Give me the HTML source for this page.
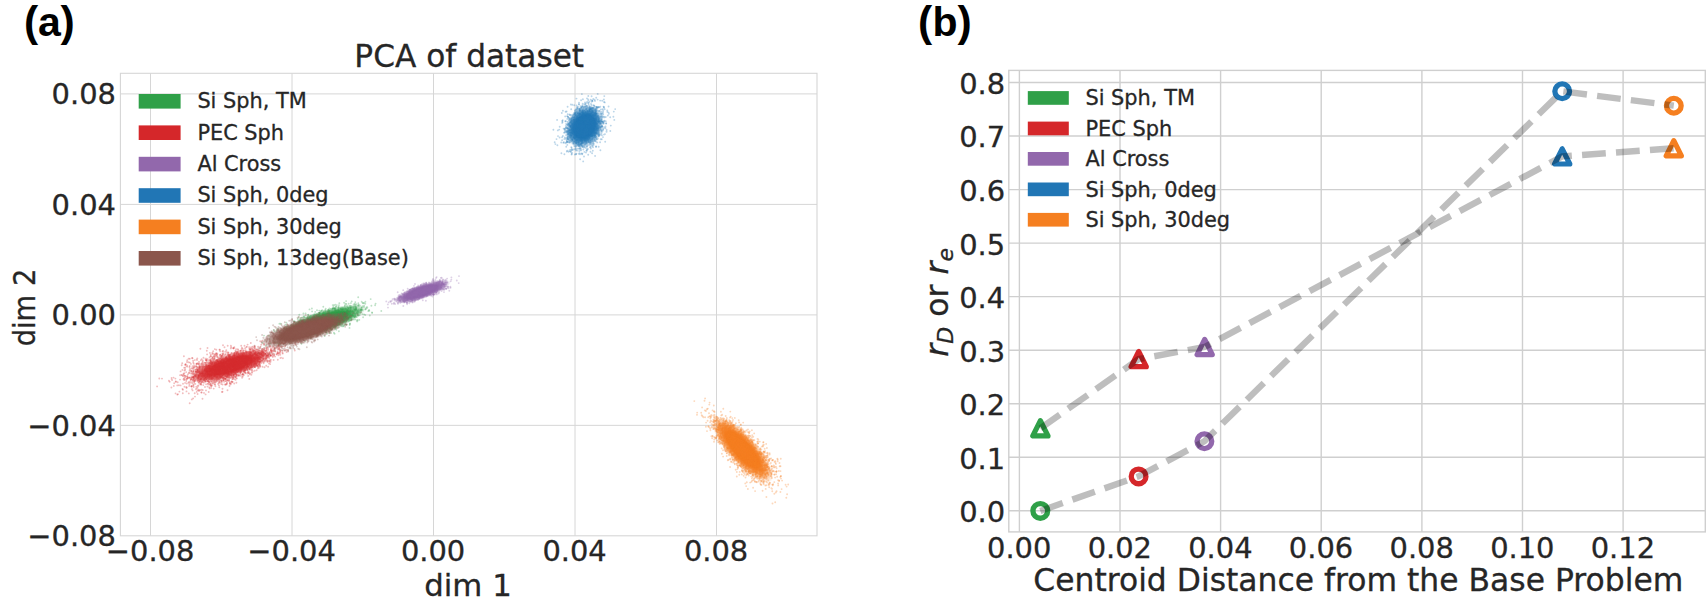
<!DOCTYPE html>
<html lang="en"><head><meta charset="utf-8"><title>PCA of dataset</title>
<style>html,body{margin:0;padding:0;background:#fff}svg{display:block}</style></head>
<body>
<svg width="1706" height="601" viewBox="0 0 1706 601" font-family="'DejaVu Sans','Liberation Sans',sans-serif" fill="#262626" stroke="#262626" stroke-width="0.3">
<rect width="1706" height="601" fill="#fff" stroke="none"/>
<g stroke="#d6d6d6" stroke-width="1" fill="none">
<line x1="150.5" y1="73.3" x2="150.5" y2="535.8"/>
<line x1="292.0" y1="73.3" x2="292.0" y2="535.8"/>
<line x1="433.5" y1="73.3" x2="433.5" y2="535.8"/>
<line x1="575.0" y1="73.3" x2="575.0" y2="535.8"/>
<line x1="716.5" y1="73.3" x2="716.5" y2="535.8"/>
<line x1="120.4" y1="93.9" x2="817.0" y2="93.9"/>
<line x1="120.4" y1="204.4" x2="817.0" y2="204.4"/>
<line x1="120.4" y1="314.9" x2="817.0" y2="314.9"/>
<line x1="120.4" y1="425.35" x2="817.0" y2="425.35"/>
</g>
<defs>
<radialGradient id="g0"><stop offset="0" stop-color="#2fa048" stop-opacity="1.0"/><stop offset="0.55" stop-color="#2fa048" stop-opacity="1.0"/><stop offset="0.78" stop-color="#2fa048" stop-opacity="0.60"/><stop offset="1" stop-color="#2fa048" stop-opacity="0"/></radialGradient>
<radialGradient id="g1"><stop offset="0" stop-color="#d5272a" stop-opacity="0.88"/><stop offset="0.55" stop-color="#d5272a" stop-opacity="0.88"/><stop offset="0.78" stop-color="#d5272a" stop-opacity="0.53"/><stop offset="1" stop-color="#d5272a" stop-opacity="0"/></radialGradient>
<radialGradient id="g2"><stop offset="0" stop-color="#9268ac" stop-opacity="1.0"/><stop offset="0.55" stop-color="#9268ac" stop-opacity="1.0"/><stop offset="0.78" stop-color="#9268ac" stop-opacity="0.60"/><stop offset="1" stop-color="#9268ac" stop-opacity="0"/></radialGradient>
<radialGradient id="g3"><stop offset="0" stop-color="#2176b5" stop-opacity="1.0"/><stop offset="0.55" stop-color="#2176b5" stop-opacity="1.0"/><stop offset="0.78" stop-color="#2176b5" stop-opacity="0.60"/><stop offset="1" stop-color="#2176b5" stop-opacity="0"/></radialGradient>
<radialGradient id="g4"><stop offset="0" stop-color="#f57f20" stop-opacity="1.0"/><stop offset="0.55" stop-color="#f57f20" stop-opacity="1.0"/><stop offset="0.78" stop-color="#f57f20" stop-opacity="0.60"/><stop offset="1" stop-color="#f57f20" stop-opacity="0"/></radialGradient>
<radialGradient id="g5"><stop offset="0" stop-color="#8b564c" stop-opacity="1.0"/><stop offset="0.55" stop-color="#8b564c" stop-opacity="1.0"/><stop offset="0.78" stop-color="#8b564c" stop-opacity="0.60"/><stop offset="1" stop-color="#8b564c" stop-opacity="0"/></radialGradient>
</defs>
<clipPath id="ca"><rect x="120.4" y="73.3" width="696.6" height="462.49999999999994"/></clipPath>
<g clip-path="url(#ca)">
<ellipse rx="45.0" ry="10.8" fill="url(#g0)" stroke="none" transform="translate(323.0 321.6) rotate(-18.0)"/>
<g stroke="#2fa048" stroke-width="1.9" stroke-linecap="round" stroke-opacity="0.3" fill="none">
<path d="M264 335.6h0m10.5 6.1h0m4.9-18h0m1.3 7h0m3.2 .6h0m1.8-.6h0m.6 3.2h0m.3-3.3h0m.7 6.9h0m2.2-3.3h0m.2-6.5h0m.1-.6h0m1.6-1.8h0m1.1 13.1h0m.7-14.7h0m1.3 4.9h0m1 8.9h0m.5-3.2h0m.2 2.5h0m0-5h0m.1-2.1h0m0 7.2h0m.1-3h0m.1 4.8h0m.3-4.7h0m.1 .1h0m.1-7.1h0m.3-4.4h0m.4 7.6h0m0-1.5h0m.3 6.4h0m.7-4.8h0m.4-.9h0m.1-9.1h0m.3 2.3h0m.3 8h0m.3-2.9h0m.1-.9h0m.5-8.8h0m0 6.8h0m.2 3.4h0m0-.4h0m.3-4.1h0m.1-3.8h0m.2 14.1h0m0 9.7h0m.2-18.9h0m.2-1.1h0m.3-.8h0m.1-1.2h0m.2 8.4h0m.5-2.4h0m.2 0h0m.1 1.4h0m.1-8.6h0m0-7h0m0 13.7h0m.2-1.9h0m0 2.6h0m.4-2.7h0m0 6.1h0m0-5.3h0m.1-1h0m0-4.7h0m.1 2.4h0m0-2.8h0m.2 8.4h0m0 .4h0m0 5h0m.1-7.9h0m0-9.5h0m.2 16.2h0m.1-15.3h0m.3 8h0m.4 4h0m.2-5h0m.2-2.4h0m.1 8.2h0m.3-6.4h0m.1 .9h0m0-2.2h0m.3 4h0m.1 10.5h0m0-15.1h0m0 9h0m.1-3.4h0m0-2.5h0m0 .2h0m.1 4.5h0m.1-8.4h0m.2 2.5h0m.1 12.6h0m.2-4.8h0m.1-6.3h0m.1-1.2h0m0 4.9h0m.2 3.3h0m.3-12.4h0m.1 3.8h0m0 6.4h0m.1-10h0m.1 17h0m.1-17.1h0m0 13.2h0m.1-14.6h0m.1 8.1h0m.3-1.7h0m0 .1h0m0-7.7h0m.1 13.8h0m0-2.1h0m.4-1.3h0m.1-6h0m0-5.4h0m.1 5.6h0m.1 .6h0m.3 6.9h0m.3 9h0m.1-16.6h0m.1 .4h0m0 5.1h0m.1 4.3h0m0-10.3h0m.1 2.6h0m.5 4.5h0m.4-19.8h0m.2 2.9h0m.1 9.7h0m0 .9h0m.1 .9h0m.1 5.7h0m.1-10.3h0m0 1h0m.1 3.8h0m.1 .9h0m.1-2.4h0m.1 .6h0m.7 3.6h0m.4-3.2h0m.1-4.8h0m.1 10.7h0m.1 1h0m.1 1.9h0m.5-10h0m0-.5h0m.1 9.7h0m0-10.7h0m.2-8h0m0 6.9h0m.2 4.4h0m.1 5.8h0m0 .1h0m.1-.5h0m.3-2.6h0m.1-5.6h0m.1 6.1h0m0 .6h0m.1 1.5h0m.2-1.4h0m.3-8.8h0m0 1.5h0m.1 8.3h0m.1-13.2h0m.1-4.7h0m.2 6h0m.1 4.7h0m.1-1.3h0m.1 9.2h0m.1-10.8h0m.1 4.8h0m.1-6.5h0m.1 3.5h0m.1 8.5h0m.1-.6h0m.1-2.6h0m.2 2.9h0m0-9h0m.1 4.1h0m.3-.1h0m.1-.3h0m.3 4.2h0m0-10.9h0m.2 9.4h0m.2 1.6h0m.1-5.4h0m0 4.1h0m.1-7.7h0m.1 4.2h0m.1-1.6h0m0 2.9h0m0-1.8h0m.1 8.7h0m.1 3.8h0m0-12.5h0m0 7.1h0m0-4h0m0 .3h0m.1-9.7h0m0 15.3h0m0-13.7h0m.1 5.3h0m.1-1.4h0m0-4.3h0m.1-5.4h0m0 9.2h0m.2 4.9h0m0 6.4h0m.1-10.1h0m0-2.2h0m0-1.7h0m.2 1.1h0m0 .1h0m0-1.6h0m.1 2.4h0m0 1.9h0m0-1.8h0m0 4.7h0m0-14h0m.1 5.7h0m0-1h0m.1 7h0m.2-7h0m.1 2.8h0m.1 8.2h0m.2-8.3h0m0 2.3h0m.1 3.3h0m0-.9h0m.2-4.8h0m.1 4.8h0m0 .9h0m0 1.4h0m.1 4.2h0m.2-15.1h0m0 8.5h0m.1 3.3h0m0-2.2h0m.2-9.2h0m0 4.5h0m.1 .4h0m0 4.2h0m.1 2h0m.2-3.6h0m.3 3.3h0m0-14.2h0m.2 8.2h0m0 4.9h0m0 1.4h0m.1-6.2h0m.2 .7h0m0 6.1h0m.2-11.5h0m0 1h0m.1 3.7h0m.1-.1h0m0-5.6h0m0 8.3h0m.2-6.5h0m.1 12h0m.1-11.5h0m0 3.1h0m.2-.2h0m.2 5.1h0m.1 4.4h0m.2-.7h0m.3-5.4h0m0 .5h0m0 .6h0m.1-4.8h0m0 4.4h0m.2-1.2h0m.1 2.5h0m0 7.9h0m0-19h0m.1 7h0m.1 6.3h0m0-6h0m0 .5h0m0 6.3h0m.1-5.7h0m.1-4.5h0m.1 3h0m0 1.8h0m.1 5.2h0m0-1.7h0m.1-6.9h0m.3 .4h0m.1 .5h0m.2 2h0m0 3h0m0-6h0m0-6.8h0m.1 9.5h0m.1 3.6h0m0-5.4h0m.1 3h0m.2-9.3h0m.1 6.9h0m0-.6h0m.1-.3h0m0 1.9h0m.3 2.8h0m.1-5.3h0m.2-.5h0m0 3.1h0m.1-2.6h0m0 .6h0m.1-1.5h0m0 1.2h0m.1 2.6h0m.1-3.2h0m.1-4.1h0m0 17.6h0m.1-11.4h0m.2-8.3h0m.1 7.1h0m.2-3.5h0m0 4.4h0m.1-.2h0m.1 .5h0m.2 9.8h0m0-1.3h0m.1-8.5h0m.1-.4h0m.2-1.6h0m0-3.6h0m.1 2.9h0m.3 12.2h0m0-16.2h0m0 3.8h0m.1-.3h0m.1-3.4h0m.1-1.2h0m.1 5.1h0m0 4.2h0m0 7.6h0m.1-3.7h0m0-9.5h0m.1-3.9h0m.2 6h0m.1 2.7h0m.1 .4h0m.1-3.2h0m.1-10h0m0 20.9h0m.4-11.6h0m.1 5.7h0m.1-2.5h0m.1-13.6h0m.1 14.4h0m.2-.8h0m0-8.8h0m.1-3.4h0m0 16.7h0m.5-7.4h0m.2 .1h0m.1-1.5h0m.1-3.3h0m.4 14h0m.2-8.6h0m0-3.9h0m.1 .7h0m.1-10.4h0m0 17.7h0m.2-3.4h0m.1-4.5h0m.1-4.1h0m.1 5.7h0m.2 2.2h0m.2 6.3h0m0 .9h0m.2-5.1h0m0-3.7h0m0 7.7h0m.2-10.6h0m.2-8.8h0m0 8.2h0m.1-.7h0m.1 1.1h0m.2 7.3h0m0-2h0m.3 4.9h0m.2 1h0m.3-3.7h0m0-3.2h0m.1-1.9h0m.1 5.1h0m.2-13.7h0m.1 6.1h0m0-.7h0m.4 18.4h0m.4-10.5h0m.1-8.7h0m.8-1.9h0m.3 1.7h0m.1-2.6h0m0-.9h0m.1 3.5h0m0 3.5h0m.7 0h0m.6 5.1h0m.5-3h0m0-1h0m0 2.1h0m.3-6.4h0m.1 5.9h0m.4 8.2h0m.3-5.8h0m.3-5.5h0m.2 4.9h0m.3-5.4h0m0-2.3h0m.1 8.3h0m0-3.3h0m.5-5.6h0m.1 4.2h0m.9 .7h0m.1-15.4h0m.8 12.3h0m.1-1.9h0m.1 2.5h0m.2-2.1h0m.2 2.3h0m.1-2.9h0m.1 3.5h0m.3 3.9h0m.2-10.7h0m1.2 9.3h0m.3 .3h0m0 7.4h0m1-17.2h0m.2-4.7h0m.2 15.3h0m.6-17h0m1.6 14h0m.1 .7h0m.3-9h0m.5 9.3h0m.2-6.8h0m.1 7.3h0m.8-2.7h0m.3 2.5h0m0-9.9h0m.6 2.5h0m.5 3.6h0m2.1-8.1h0m.9 .7h0m.3 5.3h0m.2 2.2h0m1.4-2.7h0m.1-2.8h0m1.2-1.4h0m1.2-.3h0m4.9 4.3h0m3.2 2.8h0"/>
<path d="M262.6 343h0m11.2-4h0m2.8-7.4h0m0 10.8h0m.1-12.2h0m9.4 6.1h0m2.6-6.9h0m.4 4.8h0m.6 0h0m.5-5.6h0m1.4 .3h0m0 4.1h0m.1 7.9h0m1-5.3h0m.7-9.4h0m1.2 5.6h0m.5-.5h0m.1-4.6h0m.6-.1h0m0-1h0m.1 9.4h0m.2 2.6h0m1.8-10.1h0m.7-10h0m.6 6h0m.3 8.3h0m.1-9.9h0m0 2.3h0m0 3.6h0m.5-.4h0m0 1.8h0m.5-2.9h0m.5 7.6h0m.1-8.6h0m.7 9h0m.5-5.8h0m.1 8.1h0m0-9.6h0m.3 2.3h0m.1-.6h0m.2-5.4h0m0 2.2h0m.4-9.1h0m.1 5.2h0m.2 4.7h0m0-4.6h0m.1-2h0m0 2.8h0m.3 9.5h0m.1-1.7h0m.3-2.2h0m.1 .1h0m.1-3.9h0m.7 6.6h0m.4-6.9h0m.6-1.5h0m0 .2h0m.2 4.7h0m0-5.3h0m.1 3.3h0m.3-2.6h0m.6-7.4h0m0 11.7h0m.4-12.2h0m0 9.7h0m0 3.4h0m.1-9.4h0m.7 12.7h0m.1-6.5h0m.2 3.2h0m.2-5.5h0m0 2.2h0m.1 11.2h0m.1-11.4h0m.2-.4h0m0 1.1h0m.1-3.2h0m.2 0h0m0-2.1h0m.2 .8h0m0 8.7h0m.1-5.8h0m.2-1.5h0m.2-.6h0m.1 2.5h0m0-.2h0m.1-1.7h0m.2 4.2h0m0-1h0m.3 4.6h0m0-5.7h0m0 0h0m.1 5h0m.1-6h0m.4 5.8h0m0-.5h0m.2-.7h0m.1 6.6h0m0-10.5h0m.3 2.3h0m0-6.8h0m.1 9h0m.1-1.4h0m.1 .9h0m0-8h0m.1 11.7h0m.2-3.9h0m0-.1h0m.3-9.3h0m.2 11.7h0m0-4.5h0m0-9.8h0m0 4.5h0m.1 3.4h0m0-.5h0m.3-.2h0m.1 3.8h0m.2-2.9h0m.4-9.5h0m.2 8.5h0m.1-2.1h0m.1 6.6h0m0-6.2h0m0 4.9h0m.3 .4h0m.2-7.5h0m.1 15.2h0m.1-12.4h0m.1 3.6h0m0-1.7h0m0-4.2h0m0 5.9h0m.2 3.1h0m0-9.2h0m.4 7h0m.1-5h0m.1 2.2h0m.1-9.8h0m0 3.8h0m0 8.2h0m.1 .9h0m.3-2.9h0m0-.3h0m.3 9.9h0m.5-12.3h0m.1 7.9h0m.1 2.8h0m.1-6h0m.1 1.1h0m.1 2h0m0-1.6h0m.3-1.3h0m0 3.4h0m.2-3.1h0m0-6.1h0m0-9.4h0m.2 9.6h0m.2-7.5h0m.2 19h0m0-10.2h0m.1-3.7h0m.1 .2h0m.2 2.9h0m0 1.1h0m.1-.8h0m.1 8.2h0m0 1.6h0m.1-6.5h0m.1-1.4h0m.2-.7h0m0-.4h0m.1-1.1h0m0-1.9h0m.2 3.3h0m.2 4.5h0m0-7.4h0m.2 7.7h0m.2-1.8h0m0-3.7h0m.3-.6h0m.1-2.3h0m.1 6h0m.1-1.8h0m0 2.3h0m.2-3h0m0-.2h0m.2 3.5h0m.1-3.7h0m0-8.2h0m.1 8.7h0m.1-1.4h0m.1-5.1h0m.1 5.5h0m.1-3h0m0 11.4h0m0-9.6h0m.1-5.1h0m0 14.2h0m.1-8.5h0m0-6.1h0m.2 9.8h0m.1 .1h0m0 2.2h0m.5-4.8h0m.1 1.1h0m.1-2.7h0m.1 2.1h0m.1 .8h0m0 6.5h0m0-7.8h0m.1-4.1h0m.1 13h0m0-5.7h0m.1-3.2h0m0-6.5h0m.2-5.4h0m.1 13.4h0m.1 .9h0m.1-4.4h0m.2-.4h0m.5-8.3h0m.3 4.4h0m.1 8.2h0m.1 6.2h0m0-4.9h0m.1-1.2h0m.1-2.1h0m.1-.3h0m0-2h0m0-4.8h0m0 10.3h0m.2 3.8h0m0-3.6h0m.1-7.2h0m0 .2h0m.1-4.4h0m.3 2.7h0m0 5.7h0m.1 1.5h0m.3 3.7h0m.1-11.1h0m.1 1.6h0m.1 7.6h0m0-5.7h0m.1 .6h0m0-1.6h0m.1 1.2h0m0-10.2h0m.1 12.8h0m.1 3h0m.1-6.8h0m.2-8h0m0 13.9h0m.1-4.4h0m0 5.7h0m.4-3.3h0m.2-9.7h0m.1 10.4h0m0-4.9h0m0 5.1h0m.1-4.1h0m0 13.8h0m.3-18.8h0m.1-.3h0m.2 4.4h0m.1 4.7h0m.3-5.3h0m.1 4.4h0m0-1.5h0m.2 .6h0m.1-2.7h0m.1 2.8h0m.7-8.2h0m.4-4.4h0m0 10.9h0m.1-14.8h0m.1 8.2h0m.1 5h0m.1 8.5h0m.1-4h0m.2 .3h0m0-2.4h0m.3-4h0m.4-.7h0m.3-1.9h0m.1 2.6h0m.2 7.5h0m.1 .9h0m.2-16.8h0m.2 15.6h0m.1 2.4h0m.2-6.8h0m0-7.5h0m.2 3h0m.1-3.9h0m0 4.2h0m.3 5.1h0m.3-1.4h0m.1 .9h0m.2-3.3h0m.2 2.6h0m.1 1.5h0m.1-4.3h0m0 5.3h0m.1-10.6h0m0 11.4h0m.2-11.9h0m.2 5.9h0m.1 7h0m.6-9.5h0m.2-1.7h0m.1 10.3h0m.2-8.3h0m.2-1.6h0m0-2.1h0m0 7.6h0m.3-5.7h0m.1 6.7h0m.1 2.5h0m.4-9.5h0m.1 12.1h0m.1-7.9h0m.1 7.2h0m.1-3.5h0m.1 1.4h0m.1-2.4h0m.1 3.8h0m.3-.4h0m.3 3.2h0m.2-3.5h0m.6-7.8h0m.4-5h0m.5-1.7h0m.1 12.2h0m.1-1.7h0m0-2.1h0m.3-.6h0m.1 1.7h0m0-4.6h0m0 .5h0m0 5.7h0m.5-1.4h0m0-4.6h0m.3 8.2h0m.4-4.3h0m.3-3h0m.1 4.6h0m.2 4.5h0m.3-3.4h0m.2-2h0m.2-4.3h0m.1-3.9h0m.1 9.1h0m.1-3.1h0m0 9.9h0m.2-10.7h0m.2-2.5h0m.1 6.7h0m.2-3.1h0m.2-3h0m.4-1.9h0m.1 5.4h0m.9 1.6h0m.3 1.3h0m.1-7.6h0m.5 5.8h0m.3-1.7h0m.3 8.1h0m.2-12.8h0m1 1.3h0m.6 8h0m.4-4.6h0m.2-.4h0m1-1.9h0m1.1-6.8h0m.3 7.3h0m.3-3.9h0m0-2.7h0m.5-1.5h0m.5 2.3h0m1.8 7.4h0m.1-9.9h0m1.3 14.6h0m2.4-12.3h0m.8 6.5h0m.1-4.2h0m2.7-6.1h0m1.1 3.7h0m8.7-2.2h0"/>
<path d="M268.5 335.7h0m1.3 3.3h0m3.9-9h0m4.2 13.6h0m.1-15.1h0m1.2 8.8h0m.2-3.6h0m4.8 .3h0m1.3-1.5h0m.4-3.3h0m1.2-3.5h0m0 3.1h0m.1 6.8h0m.6-3.5h0m1.5 5.3h0m0-8h0m.3-1.1h0m.9-.7h0m.6-2h0m.8 10.7h0m.1-7.6h0m.9-2.3h0m0 9.8h0m0-1.6h0m.4-8.8h0m.7 7.9h0m2-9.3h0m.1 .9h0m.1 12.7h0m0-.1h0m1.1-9.1h0m.4 2h0m.2-3.9h0m.3-3.1h0m.1 2.8h0m.2-4.4h0m.3 8.8h0m0 9h0m.4-9.5h0m.1-4.8h0m.2 2.8h0m.3 11.4h0m0-13.6h0m.5 11.2h0m0-5.4h0m.2-11.3h0m.1 11.5h0m.3-1.4h0m.4-2.1h0m.2 2.4h0m.1-2.6h0m.1 5h0m.3-8.5h0m.4 2.8h0m0-7.3h0m.1 5.2h0m.1-4.6h0m.2 15.7h0m.1-12.3h0m0-3h0m.3 15.8h0m.1-4.8h0m.1-10.1h0m.1 .4h0m.3 5.2h0m.2 1.3h0m.1 .9h0m.2 5.2h0m.1-13.1h0m0 8.2h0m.5-1.6h0m.1-3.3h0m.2-2.6h0m.2 .3h0m.2 3.5h0m.4 .9h0m0-5.5h0m0 6.2h0m0-4.4h0m.3 6.4h0m0-12.8h0m.1 13h0m.1-7.5h0m.3 7.7h0m.1-7.8h0m.1 0h0m.1 8h0m.1-2.8h0m.3-11.1h0m.1 7.5h0m.1 .1h0m.1 3.3h0m.2-1.3h0m.3-12h0m0 12h0m.5-.7h0m0 5.5h0m.1-4.7h0m0 2.7h0m.4-9.8h0m.1 11.2h0m0-5.8h0m.1-.8h0m.2-1.8h0m0 5.5h0m.3-8.2h0m0 4.1h0m.2 .6h0m.2-1.9h0m0 1.4h0m.1-6.9h0m0 4.4h0m0 .5h0m.1-1.5h0m.4 9.3h0m.3 3.2h0m0-10.1h0m.2 14.5h0m.1-6.6h0m.4-1.4h0m.1 .8h0m.3 .4h0m0 .1h0m.2-7.2h0m0-3.4h0m.2 11.8h0m.3-7.9h0m.1-9.1h0m0 4.8h0m.3 12.3h0m.1-3.6h0m0-5.6h0m.1 6.2h0m.1-14.7h0m.1 9.7h0m0-7.2h0m.1-2.1h0m0 6.8h0m.1 1.9h0m.1 6.2h0m0-6.3h0m.2-3.3h0m0 5.5h0m0-6.2h0m.2 4.8h0m0 0h0m.2 6.5h0m0-6.9h0m.3-.8h0m0-1.2h0m.2-3.2h0m.2 5.8h0m0-4.4h0m.2 12.2h0m.1-13.7h0m0 1.3h0m.1 9.1h0m0-11.7h0m0 12.7h0m.2-4.1h0m0 5.1h0m0-9.8h0m.1-3.8h0m0 3.2h0m.1 11.5h0m0-12.6h0m0 10.4h0m.2-6.9h0m0-4.1h0m.2 12.3h0m0-5.8h0m.2-5.9h0m0 16.5h0m.3-15.7h0m.1 7.2h0m0-.7h0m0-1.3h0m.1-2h0m0 1.8h0m.1-1.3h0m0-2.7h0m.1-2.1h0m0 5.7h0m0-9h0m.1 19.1h0m0-14.9h0m0 8h0m.1-6.3h0m.2-2.7h0m.2 1.1h0m.1-3.1h0m.1 5.6h0m0 5.3h0m.1-5h0m.1 8.2h0m.1-13.4h0m0-3h0m.1 8.9h0m.2-8.5h0m.1 1.7h0m.1-.9h0m0 12h0m.1-7.2h0m0-3.1h0m0 8.3h0m.2-3.5h0m0 .8h0m.1 1.5h0m.1-.4h0m0 6.3h0m.1-7.6h0m0 7.3h0m.1-1.4h0m0-6.7h0m.1-4.9h0m.1-3.8h0m0 15.7h0m.1-15.9h0m.1 13.9h0m0 1h0m.1-14.6h0m.1 6.9h0m.1-2.8h0m.1 8.8h0m0-1.9h0m.1-8.1h0m0 7.9h0m.4 1.5h0m.1-7.7h0m.2 6.9h0m0-4.8h0m.1 3.3h0m0 5.2h0m.1 3.3h0m0-12.9h0m0-2h0m.2 11.3h0m.2-12h0m0 2.2h0m.1 6h0m.1-5.3h0m0 5h0m.1-.1h0m.1-2.6h0m0 2.2h0m.2-5.2h0m.1 5.2h0m0-1.6h0m.2 2.7h0m0-8.2h0m.1 7.9h0m.1-.6h0m0-11.3h0m.1-6h0m.2 7.1h0m.2 9.2h0m.1 5.2h0m0-13h0m0 12.8h0m.1-6.1h0m0 2.1h0m.1-2.7h0m.1 1.5h0m.2 5.7h0m0-4.1h0m.1-5.3h0m.1 7.8h0m.2-13h0m.1 9.8h0m0-3h0m0-2.2h0m.3 2.4h0m.1 8.8h0m.2-6.6h0m0-.8h0m.1-7.7h0m0 10.8h0m0-11.4h0m.1 7.4h0m0-1.2h0m0-7.5h0m.1 4.2h0m.2 1.4h0m.2 9h0m.2-10.3h0m0 .6h0m.2 10h0m.1-9h0m.1 13.1h0m.2-1.7h0m0-7h0m.1 10.7h0m.4-15.6h0m.2-.1h0m.1 4h0m0-3.2h0m.2 .1h0m.1 9.1h0m.1-11.9h0m.3-5.6h0m.1 12.5h0m0-.7h0m.2-.2h0m.3-.1h0m0-9.6h0m.2 2.7h0m0 6h0m.3-12.8h0m.2 12.4h0m0-6.6h0m.1 6.9h0m.1 .2h0m.3 10.3h0m.4-8.4h0m0-7.1h0m.2 9.8h0m.2-3.8h0m0-3.8h0m0 2.2h0m.1 4.2h0m.3-5.3h0m.1-6.7h0m.1 2.8h0m.2 14.1h0m.1-12h0m.1-2.5h0m0-2.6h0m.1 10.7h0m.3-2h0m.3 2.1h0m.1-7.4h0m.3 5h0m.2-.6h0m.1 .3h0m.1-3.6h0m0-.7h0m.1 10.7h0m0-10.7h0m.3 3.2h0m0 2.5h0m.1 2.6h0m.1-11.3h0m.1 5.7h0m.2-4.7h0m0 4.7h0m.1 1.3h0m0 .5h0m.2-9.8h0m.2-1.9h0m0 12.7h0m.1-10.9h0m.1 9.2h0m0 3.3h0m0-2.5h0m.1-4.3h0m.2 6.6h0m.1-3.9h0m.2 2.5h0m.2 6.4h0m.3-6.8h0m.5 2.4h0m.1-2.4h0m.1-2h0m.2-1.5h0m.1 1.8h0m.2-5.8h0m.1-.1h0m0 8.5h0m.1 0h0m.2-5.3h0m0 4.6h0m.3-4.8h0m.5-9.8h0m0 4.2h0m.2 1.3h0m0-4.1h0m.5 12.7h0m.1-7.2h0m.7 2.1h0m.4 3h0m.2-9.9h0m.5 9.7h0m0-1.1h0m.2 1.1h0m0-1.8h0m.1 1h0m0-10.2h0m.1 16.2h0m.1-13.1h0m.2 5.2h0m.2-1.6h0m.2-4.7h0m.3 5.9h0m.4 3.2h0m.1-3.5h0m0-1.9h0m.6-4.1h0m.1 12.6h0m.5-8.7h0m.1-1.4h0m.1-2.7h0m.2 15.6h0m.1-7h0m.5-3.2h0m0-3h0m.3 6.1h0m.6-5.9h0m.4 2.7h0m.3 .6h0m.5-4.9h0m.4 8.2h0m0 1.1h0m.1-9.2h0m.2 9.9h0m2-10.3h0m.1 6.4h0m.5-2h0m.5-6.6h0m.1 8h0m.4-.2h0m1-8.4h0m.1 3.8h0m1.3 .7h0m.8 5.6h0m1.3-10h0m.1-2.9h0m1.1 6.7h0m0 2.8h0m.4 .9h0m.5-8.7h0m1.3 9.3h0m1.5-5.6h0m3 4.7h0m5.1-4h0m.1 .5h0m2.1-5.2h0m.6 6.7h0"/>
<path d="M265.9 345.8h0m8.5-14.2h0m5.5 .7h0m.8-8.5h0m3.5 4h0m.8 1.5h0m1.5-2.4h0m2.2 1.9h0m.3 7.4h0m.2-8.2h0m.3 15.5h0m.5-15.3h0m1.1 10.3h0m1.3-6.8h0m.3 1.5h0m0-6.7h0m.2 4.6h0m1.4-9.7h0m.4 9h0m.7-3.5h0m.1-2.8h0m.9 1.5h0m0 10.6h0m.1-6.7h0m.5 1.2h0m0 10h0m.2-9.6h0m.2 3.8h0m.2-4.8h0m.1 5.2h0m0-5.7h0m.2-2.9h0m.6-2.3h0m.2-2.6h0m.3 8.5h0m.1-2h0m.2-13.6h0m0 18.1h0m.2-4.9h0m.3 1.4h0m.2-4.3h0m.1 4.9h0m.1 2h0m.2-1.5h0m.3-8.6h0m0 3.8h0m.4-1.8h0m.2 4.8h0m.5 .9h0m.5 1h0m.9 1h0m0-1.8h0m.1-2.3h0m.2 2h0m.4-6.4h0m.6 .7h0m.2 1.6h0m.2 7.5h0m.1 8.2h0m.4-14.9h0m.1-.8h0m.1 4.2h0m0-16.1h0m0 8.1h0m.1 5.8h0m0 6.7h0m.1-9.6h0m.1 11.4h0m.1-7.5h0m.1 2h0m.1 3.1h0m0-7.9h0m.1 0h0m.1 6.5h0m.2-5.1h0m0-3.3h0m.1 4.7h0m.5-3.2h0m.1 .4h0m0 3.2h0m0-6.6h0m.2 3.3h0m.1-.2h0m.1 7.2h0m.3 4.3h0m.1-17h0m0 11h0m.1 0h0m.2 4.6h0m.4-5.3h0m.3 2.2h0m0-5.1h0m.2 3.6h0m.2-.5h0m0 1.4h0m0-6.1h0m.1-7.9h0m.2 9h0m0-6.8h0m.4 6.1h0m.1-.1h0m0-.6h0m.1 3.4h0m0-4.5h0m.1 12.4h0m.1-10.5h0m.1 3.4h0m0 1.3h0m.1-3.7h0m.5 2.8h0m0-4.4h0m0-4.1h0m.2 .1h0m.1-.5h0m0-2.4h0m.2 6.8h0m.1-1.9h0m.6 5.1h0m0 6.4h0m.1-8h0m.1 .9h0m0-8.1h0m.2-1.6h0m.1 4.7h0m.1 .9h0m0-6h0m0 11.6h0m0-7h0m.1 1.9h0m.2-3.3h0m0 3.8h0m0-4.9h0m.1 3.7h0m0 2.8h0m.2-8.4h0m.2 11.1h0m.1 1.8h0m.2-14.4h0m.2 2.3h0m.4 .2h0m.1 6h0m.1 2.4h0m.1-1.1h0m.1-2.8h0m0 11.7h0m0-9.3h0m.1-1.7h0m.3-5.9h0m.2 6.2h0m.2-.1h0m.1-1h0m.1 10.6h0m.5-17.9h0m0 1.8h0m.3 11.1h0m0-6.6h0m.1 3.3h0m.1 3.8h0m0-7.5h0m.1 8.3h0m0-7h0m0 5h0m.1-2.6h0m.1 0h0m0-10.9h0m.1 4.9h0m.1 2.9h0m0-1.7h0m.2 8.5h0m0-9.4h0m.1-1.9h0m0 10.9h0m.1 1.7h0m0-1.9h0m.1-10.8h0m.4 3.4h0m.1 2.7h0m0-.6h0m0 6.5h0m0-9h0m.1 6.9h0m0 1.7h0m.3-14.8h0m.1 6.4h0m.2 5.7h0m0-5h0m.1 2.6h0m0-11.3h0m0 3.1h0m0 3h0m0 11.8h0m.1-7.8h0m0 .4h0m.2 1.6h0m0-8.7h0m.1 8.1h0m.1-8.6h0m.1 3.4h0m.2 4.7h0m.1 5h0m0-2.1h0m.2-3.8h0m0 4.5h0m0-8.3h0m.1 4.8h0m0-2.9h0m.3-.4h0m0-.8h0m.2-.8h0m0 5.8h0m.1 2.6h0m.1-3.5h0m.1-3.4h0m.4 1.6h0m.1-5.4h0m.1 6.9h0m0-2h0m.2-11.6h0m.2 13.1h0m0-4.1h0m.1 4.3h0m.1 1.2h0m.1 9h0m0-7.5h0m.1-1.9h0m0-7.2h0m.1-2.2h0m.1 1.5h0m.2 1.5h0m.1 6.2h0m0-11.4h0m.6 9.1h0m.1 1.4h0m.1-.9h0m0-3.2h0m.1-4.3h0m.2 6.6h0m.1-2.3h0m0 10.9h0m0-1.8h0m.2-4.6h0m.1-4.5h0m.1 4.9h0m0-3.1h0m.1 .9h0m.1-10.8h0m0 5.3h0m.2 0h0m.1 .5h0m.2 .9h0m0 5.2h0m0-3.2h0m.1 .4h0m0 3.9h0m.1-6.3h0m.2 10.2h0m.1-.4h0m.2-6.4h0m.2 .7h0m.1-2.7h0m.2-1.1h0m0 5.8h0m.1-3.3h0m0 3.3h0m.2-8.7h0m.2-.2h0m0 3.1h0m.1-4.7h0m.2 13.6h0m.1-9.3h0m.1 .1h0m.1-7.4h0m.1 15.6h0m0-14.3h0m.1 11.1h0m0 .7h0m.1 .2h0m0-3.2h0m.1-10.9h0m0 12.1h0m.3-7.2h0m.2 2.1h0m0 6.5h0m.3-2.4h0m.1-2h0m0 1.9h0m0-10.1h0m.1 9.8h0m.2 1.6h0m0 6.9h0m.2-10.7h0m.4 4.1h0m.1 .7h0m0-4.1h0m.5 8.1h0m0-12.6h0m.4 4.5h0m.1 5.4h0m.2-4h0m.2-.5h0m0 1.4h0m.2 3.3h0m.1-11.3h0m.1 3h0m0 1.5h0m.2-4.2h0m.7 6.2h0m.1-1.3h0m.1 .4h0m0-10.3h0m.2 4.6h0m0 6.4h0m.3 5.2h0m.1 1.8h0m.1-21.1h0m.1 13h0m.3 3.7h0m0-8.2h0m.1 6.6h0m.1 5.8h0m0-8.1h0m.1 15.7h0m.2-26h0m0 10.1h0m.2-3.6h0m.1 5.3h0m0-1.3h0m0-1.5h0m0 5h0m.4 3.9h0m.3-18.9h0m.1 14.6h0m.3-1.1h0m.1-2.5h0m.1-.9h0m.3 3.1h0m0-6.2h0m.2-2.2h0m.2 5.4h0m0-2h0m0 7.7h0m.6-12.1h0m.2 13.6h0m.1-4.2h0m.1-10.2h0m.4 11h0m.3-5.5h0m0 8.6h0m.3-9.8h0m.1 5.6h0m.3 .4h0m.1-1.6h0m.3-.5h0m.1-4h0m.1 3.4h0m.2 2h0m.6-1h0m.8-5h0m0 7.1h0m0-9.1h0m.4 6.7h0m0-5.3h0m.3 7.4h0m.2-.8h0m0 2.8h0m.3-9.1h0m0 7.8h0m0-2.2h0m0-1.3h0m0-1.9h0m.1-3.4h0m0-2.9h0m0 8h0m0-1.2h0m.4-.5h0m.5 4.2h0m.8 0h0m0-6.1h0m.5 7.9h0m.6-13.4h0m.3 12.8h0m.3-9.2h0m.1 .6h0m.3 2.9h0m.4 1h0m.2-1.6h0m.5 2.8h0m.1-3.7h0m.1-5.6h0m.7 10h0m.7-6.2h0m.2-5.8h0m.2 6.7h0m.4-5.4h0m1 12.4h0m1.2-8.4h0m.2 2.4h0m.9-9.3h0m.5 12.5h0m.5-13.1h0m.6 6.2h0m.4-1.3h0m.1 7h0m1.1 5.2h0m.2-.8h0m.3 1.2h0m.9-10.6h0m.4 1.2h0m.1 .8h0m.3-1.7h0m2.6-1.8h0m4 0h0"/>
<path d="M284 328.7h0m.6 5.4h0m.7 .1h0m.1 1.8h0m.7-7.2h0m0 7h0m1.2-1.8h0m.4-1.6h0m1.5 6.6h0m1.1-.8h0m.5-8.2h0m.5 1.4h0m.5-.1h0m.1-2.5h0m.4-2h0m.1 8.1h0m1.1-7.3h0m0-.6h0m.4 3.7h0m.1-9.4h0m.1 18.3h0m.1-2.1h0m.3-8.8h0m0 1.1h0m.4-2.9h0m.2 4.1h0m1.2 7.9h0m.4-10.1h0m1.2-1.9h0m.2 2.1h0m.1 1.8h0m.1-2.9h0m0 6.5h0m.5-10.4h0m1.3 7.9h0m.1-11.9h0m.2 6.8h0m.2 5.6h0m.2-3h0m.1-4.8h0m.1 2.3h0m.4 6.8h0m.1-2.8h0m.2-9.8h0m0 5.7h0m.1-.7h0m0-.7h0m.1 7.2h0m.1-7.1h0m.1-1.4h0m.1-6.5h0m.8 7.6h0m0 11.9h0m1-14h0m.1 .6h0m.1 5.3h0m.3-6.8h0m.2 9.5h0m.1-3.7h0m.3 8h0m.2-12.2h0m0 3.4h0m.3-.7h0m.2 1.8h0m.1 2.5h0m.1-8.9h0m.1 8.6h0m.1-6.6h0m.2 6.2h0m.1 3.6h0m0-7.4h0m.1 1.3h0m.1 2.5h0m.1-4h0m.5 4h0m0-2.3h0m0-9.2h0m.2 15.5h0m0-12.2h0m.2 3.1h0m.2 2.1h0m.1-2h0m0-1.3h0m.2-4.8h0m.1 5.4h0m.1 5.1h0m0-2.4h0m.1-3.1h0m.3-.1h0m.1-1.4h0m.3 5.5h0m.1-2.5h0m.1-2.7h0m0 .3h0m.1-13.7h0m0 14h0m0 5.2h0m0-9.3h0m.3 10.1h0m.1-3.3h0m.2-1.7h0m0 1.7h0m.2 6.4h0m.2-13.7h0m0 14h0m.1-11.1h0m.4-.8h0m.1-5.4h0m.2 12.7h0m0-5.9h0m.4 4.8h0m.1 4.4h0m0-7.7h0m.2-.4h0m.1-2.5h0m.1 3.2h0m.1 4.6h0m.1-9.3h0m.2 8.8h0m.3 .7h0m.1-8.7h0m.2 7.6h0m.4-6.7h0m0 3.3h0m.4-4.7h0m0 2.9h0m.1-4.9h0m0-1h0m.3 17.5h0m0-12.8h0m0 1.8h0m.2 8.9h0m.1-6.2h0m0-6h0m.1 7.9h0m.1-6.3h0m.1 10.1h0m0-8.7h0m.3 1.7h0m0-9.4h0m.2 6.1h0m.1 3.4h0m.1 5.4h0m.3-3.8h0m.1 .4h0m0 .4h0m.4-4.4h0m.2-7.1h0m.2 9.8h0m.2-6.2h0m0 3.7h0m.2-.7h0m0-.1h0m0 11.5h0m.4-9.2h0m.1 3.1h0m.1-.8h0m.2-5.9h0m.1 .3h0m.3 6.2h0m0-6.2h0m.1-1.5h0m.2 5.1h0m0-7.3h0m0 4.9h0m.1 5.4h0m.1-4.6h0m.1-10.2h0m0 .3h0m.1 9h0m0-1.4h0m0-1.7h0m.1 .7h0m.1 7.8h0m0-7.2h0m.4 0h0m.1 5.5h0m.2-4.5h0m.1 4.4h0m0-4.4h0m.2-.4h0m.3 6.5h0m.1-4.5h0m.3-3.9h0m0-5.4h0m.1-1.9h0m.2 14.9h0m0-2.8h0m.1-.4h0m.1-3.1h0m.1 3.5h0m0-1.5h0m0-11.4h0m.1 11.1h0m.2-4.3h0m.2 1.7h0m.3-3.3h0m0 5h0m0 2.2h0m.2 4.2h0m.1-4.5h0m.1-8h0m0 7.4h0m.2-.9h0m0-6.2h0m.1 3.2h0m.1 2.8h0m0 2.6h0m0 1.9h0m0-6h0m.3 2.3h0m.1 2.8h0m.1 1.3h0m0-4.9h0m.1-2.3h0m.2 6.2h0m.1-5.8h0m.2 1.2h0m.1 .2h0m0-1.7h0m0 3.2h0m.1-.6h0m.1 14.2h0m.1-15.4h0m.1-8.5h0m0 9.3h0m0 4.8h0m.3-.5h0m0-3h0m.1 .8h0m0 1.1h0m0-1.8h0m.2-8.7h0m.1 7.7h0m.1-3.1h0m0-9.9h0m.3 13.7h0m.4 7.4h0m.3-10.6h0m.1 3.8h0m.1-6.7h0m.2-2.5h0m0 4.7h0m.1 .4h0m.1 3.7h0m.2 4.4h0m.1-1.2h0m0 2.1h0m.1-3.9h0m.1-4.1h0m0 .3h0m.1 1.1h0m.1 3.1h0m.1 1.1h0m.1-2.3h0m0-2.1h0m.3-1.9h0m.1-3.6h0m0-2.7h0m0 3.7h0m.2-1.7h0m.1 7.7h0m0-3.3h0m.1-7.2h0m.3 6.2h0m0 8.7h0m0-12.4h0m.1 11.9h0m.1-5.6h0m0-10h0m.4 5.9h0m0 3.5h0m.1 3.3h0m0-.5h0m.1-3.5h0m0-4.2h0m.2 12.6h0m0-4.1h0m.1-2h0m0-2.3h0m.3-.7h0m.5 1.9h0m.1 0h0m.1-3.2h0m.2 2.5h0m.1 .3h0m0 4.7h0m.4-10h0m0-2.2h0m.5 7.2h0m.2-7.7h0m.2 7.9h0m.1-.7h0m0-7.6h0m.1 1.3h0m.1 0h0m.1 1.5h0m.1 1.6h0m.2 2.2h0m.2 14h0m0-12.7h0m.2 1.8h0m.1-10.4h0m.1 6.5h0m.3 2.4h0m.2 1h0m0-4.2h0m.2 12h0m0-16.2h0m.1 .8h0m0 6.4h0m.1-4.8h0m0 8.5h0m.1-4h0m0-2h0m.1-9.4h0m0 3h0m0 2.4h0m.2 8.7h0m0 4.5h0m0-4.5h0m.2 3.7h0m.1 2.9h0m0-10.3h0m.2 6.4h0m0-14.7h0m.1 2.6h0m0 6.6h0m.1 2.6h0m.1-15.7h0m0 23.1h0m.5-15.3h0m.2 10.7h0m.2-11.4h0m.2-.7h0m.2 .8h0m.2 4.2h0m0-.7h0m.1 1.8h0m.1-5h0m.2 10.9h0m0-5h0m.1 3.8h0m.3-4.8h0m0-8.2h0m.1 16.8h0m.1-12.5h0m0-9.9h0m.5 6.6h0m.1 11h0m0-8.1h0m.1 3.7h0m0-5.9h0m0 2.8h0m.8 3.7h0m0-.9h0m.3-6.3h0m.1-2.9h0m.2 4h0m0 6.1h0m0-2h0m.4 4.6h0m.2-4h0m.1-2.3h0m0 3.6h0m0 3.5h0m.2-13.2h0m0 6.3h0m0-.5h0m.2-1.8h0m0 4.7h0m.4-3.3h0m0 10.2h0m0-6.7h0m0-3.2h0m.2-5.8h0m0 .4h0m.1 4h0m.3 3.2h0m0 4h0m.1-2.4h0m.8-4.8h0m0-2.9h0m.1 8.8h0m0-16.7h0m.1 5.5h0m.2 3.2h0m.2-1.1h0m.2-3.9h0m.1 7h0m.2 4.9h0m.5-14.7h0m.4 16.3h0m.1 4.2h0m.2-7.1h0m.6 1h0m.2-11.7h0m.4 .8h0m0 3.1h0m.4 7.8h0m.2-4.3h0m.3-1.6h0m.1 2.2h0m0-2.1h0m.2-8.4h0m.1 17.6h0m.7 6.5h0m.1-20.3h0m0 6.2h0m.2 6.5h0m.3-8.8h0m.1 4.4h0m.3-10.3h0m.1 11.6h0m1.3-1h0m.3 .5h0m1-.6h0m.1-4.1h0m.2-.2h0m.3 7.7h0m.4-4.1h0m.4-2.3h0m.1-8.7h0m.5 15h0m1-10.1h0m.6 7.8h0m.8-5.2h0m.6 .9h0m.2-1h0m.3 .7h0m1.5-3.3h0m.3 .6h0m2.2-6.9h0m1.3 4.2h0m.2-4.2h0m1.3 6.3h0m.5-.6h0m1.2-1.4h0m.1 .5h0m2.5 7.8h0m.9-16.4h0m4.9 4.5h0"/>
<path d="M270.2 343.4h0m7.4-4.2h0m.1-.7h0m1 6.5h0m1.1-1.5h0m1.7-7.1h0m.3 1.1h0m3.3-4.6h0m.4-8.3h0m.3 7.2h0m.6-9.2h0m2 13.1h0m.3-5h0m1.1 4h0m.2 2.8h0m.2 4h0m.5-7h0m.2-5.3h0m.2 4.7h0m1.3-4.1h0m.2 8.8h0m.7-10.2h0m.4-1.4h0m.4 4.6h0m.4 5.4h0m.3-4.6h0m.7-10.6h0m.3 7.6h0m.6 3h0m.1 .7h0m.3 3.3h0m.7-12h0m.1 5.7h0m.1-10.8h0m.1-.1h0m0 7h0m0-.5h0m0 4.6h0m.4-.5h0m0 1.3h0m.1 4.6h0m.4-6.9h0m0-3.8h0m.1 3.9h0m.1 3.8h0m.6-3.4h0m0 4.8h0m0-5.9h0m.1 1.4h0m0-5h0m.3 8.8h0m.1-10.2h0m.2 4.2h0m.1 1.9h0m.5 .7h0m.4-4.2h0m.1 9.1h0m.2-.8h0m0-2.8h0m.3-6.7h0m0 4.7h0m0-4.2h0m.1-6h0m.4 12.5h0m0-7.3h0m.5 5.7h0m.1-.2h0m.4-1h0m0-6.5h0m.2-.3h0m.4 .6h0m.1-5.3h0m.1 10.7h0m0 .6h0m.3-3.2h0m.1 8.8h0m0-4.4h0m0-2.3h0m.3-2.7h0m0 3.6h0m.2 .6h0m0 2.8h0m.1-9.2h0m.2-3h0m0 4.7h0m.1 5.5h0m.2-7.4h0m.2 10.4h0m.1-11.3h0m.1 4.6h0m.1 7.6h0m.3-8.6h0m.3 4.4h0m.1 5.4h0m.2-10.2h0m.3 6.5h0m.2-8.1h0m0 4.2h0m.1-3.6h0m0-6.7h0m0 13.4h0m.3-8.6h0m.2 .5h0m.2-3.6h0m.1 9.9h0m.1-5.5h0m0 6.4h0m.1-5.6h0m0 6.9h0m.1-7.6h0m0-1.8h0m.1 3h0m.1-2h0m0 1.8h0m.3-1.9h0m.2-.4h0m.1-5.3h0m0 8.4h0m0-.8h0m.2 1.8h0m0 1.6h0m0-6.9h0m.1 .3h0m.2 .5h0m.2 2.7h0m.1 8.8h0m.5-2.3h0m.1-14.8h0m0 6.2h0m.1 3.7h0m0-3.8h0m.1 3.4h0m0-8.5h0m.2 1.3h0m.1 11.5h0m.3-7.3h0m.2 4h0m.2 4.3h0m.4-9.1h0m.1-4.6h0m.1 3.4h0m.4 1.9h0m0 5.4h0m.1-5.5h0m0-1.1h0m.1-1.1h0m.2 7.3h0m.1 .9h0m0-1.8h0m.1 3.5h0m0-11.7h0m0 4.9h0m.2 4.4h0m.1-1.5h0m.3 2.2h0m0-2.3h0m0-.3h0m.1-3.6h0m0-1h0m.2-2.2h0m.1 4.6h0m.1 5.5h0m.2-11.4h0m.1 7.6h0m.1 .7h0m.2-3.1h0m.1 4.7h0m.1 1.9h0m0-10.8h0m.1 2.9h0m.1 7.5h0m0 1.4h0m.1-3.6h0m.1-.7h0m0 1.9h0m.1-2.8h0m0-4.9h0m0 1.9h0m.2-1.5h0m.1 1.4h0m.1-.7h0m.1 2.2h0m.1 3.3h0m0-1.2h0m0-1.6h0m.2-2h0m.1-2.8h0m.1-1.6h0m0 12.8h0m.1-10.9h0m.1 9.6h0m0-6h0m.2-5h0m.2 5h0m.1 3.2h0m.1-2h0m.1-1.4h0m.1-3.8h0m0 1.1h0m.1 7.7h0m.1-6.1h0m0 5.3h0m0-5.8h0m.1-1.2h0m0-5.1h0m.3 3.1h0m.2 7.8h0m.1 3.3h0m.1-3.1h0m.1-13.5h0m0 18.5h0m.4-10.7h0m.1-2.1h0m0 5.7h0m0-7.8h0m.1 9.2h0m0-5.4h0m.1 4.9h0m.3-.7h0m.1-1.7h0m0-2.5h0m0 1.7h0m.1 6.8h0m0-6.9h0m0 4.9h0m0-.5h0m.1-1.2h0m.1 1.8h0m.1-1.4h0m.2 5.7h0m0-8.1h0m.1-5.5h0m0 10h0m.3-.3h0m0-.2h0m.1 .9h0m0-11.3h0m0 11.8h0m.2-8h0m0 5.6h0m0-.5h0m.3-4.1h0m.2-1.7h0m.1 10.6h0m0-13.5h0m.2 7.5h0m.1-10.2h0m.1 12.3h0m.1 1.1h0m0-2.3h0m0-4.1h0m.1-6.4h0m.1 8.9h0m0 1.6h0m0-2.5h0m0-5.3h0m.2 7.4h0m0-6.1h0m0 1.8h0m.2-2h0m.2 4.6h0m0-10.5h0m.1 9.1h0m.3-.9h0m.1 7.3h0m0-8.8h0m0 7h0m.1-4.6h0m.1 8.1h0m0-11.8h0m.2-4.6h0m.2 7h0m0 9.6h0m.1-8.3h0m0-.4h0m.3-2.7h0m.2 13.9h0m0-7.8h0m.1-4.3h0m.2 .3h0m.1-3.9h0m.1 .1h0m.3 8.2h0m0 1.9h0m.1-5.9h0m.1-1h0m.1 .7h0m.1-.9h0m.2-4.2h0m.2 11.9h0m0-3.5h0m.2-3.5h0m.1-6.2h0m.2 14.5h0m.1-8.8h0m0 2h0m.2 .7h0m.1-3.4h0m.2 9h0m.1-7.2h0m.1-3.9h0m.2 3.7h0m.2 4h0m.1-7.5h0m0-.7h0m.2 9.4h0m.2-8.8h0m0 4.4h0m.1-4.1h0m.3 3.8h0m.1-3.3h0m.1 3.3h0m0-4.3h0m.1 4.8h0m.1-.7h0m.2-1.9h0m0 3h0m.1 .3h0m.1-8.4h0m.1 1.2h0m.4 6.5h0m0-8.6h0m0 4.3h0m.2-8.5h0m0 1.8h0m.1 12.9h0m.1-6h0m0-.7h0m0 6.4h0m.1-.5h0m.1-1.9h0m0-.5h0m.4 4.1h0m0-4.7h0m.1 1h0m.3-11.8h0m.2 1.6h0m0 4h0m0 3.1h0m.2-2.7h0m.1 5.6h0m.1 .3h0m0-6.8h0m.1 1.4h0m0-3h0m.1 7.4h0m0-4h0m.4-7.9h0m.1 8.1h0m.1-2.5h0m.1 7h0m.1 3h0m0-2.9h0m.2-7.3h0m.5 8.8h0m.1-7.1h0m.1-5.9h0m0 10.6h0m.1-5.6h0m0 1.1h0m.1 7.4h0m.1-1.6h0m.1-2h0m.3 .6h0m.1-8.8h0m.3-.4h0m.1 9.8h0m.3-3.6h0m.2 7.6h0m.1-6.1h0m.3-7.7h0m0 .7h0m.4 2.3h0m.3-2.6h0m.1 4.5h0m0 2.6h0m.1-.7h0m.5-.4h0m0 1.4h0m.3-2.8h0m.1-5.6h0m.1 2.2h0m.3-1.1h0m.2 13.2h0m.2-8.2h0m0-12.9h0m0 11.3h0m.2-.5h0m.1 1.1h0m.1 8.2h0m.2-3.6h0m.1-5.7h0m.1-2.5h0m.1 4.4h0m.1-1.1h0m1.3 1h0m.3-6h0m.3 16.6h0m.3-10.2h0m.1-1.3h0m0 3.3h0m.2-7.1h0m.3 3.7h0m.2 6.7h0m.1-1.6h0m0-7.8h0m.2 13.8h0m.2-.2h0m.4-5.3h0m0-2.1h0m.2 1.7h0m.5-6.7h0m0-8.1h0m1.1 3.8h0m.1 9.9h0m.2 2h0m.1-16.7h0m.2 6h0m.1 2.9h0m.5 .8h0m.1 5.6h0m.1-9.1h0m.9-1.1h0m.7 4.3h0m.3 3.9h0m.4-3.8h0m.2 10.3h0m.2-3.8h0m.1-11.8h0m0 2.9h0m.8 6.5h0m.1-7.7h0m0 1.3h0m.2-4.8h0m.1 4.9h0m0 2.7h0m.6-2.4h0m.6 3.6h0m1.1-6.8h0m.9 1h0m.7 6.4h0m0-13.7h0m.4 6.7h0m.2 1.9h0m.7-.5h0m.4 2.6h0m.6 7.2h0m.6-22.9h0m.1 5.9h0m.1 12.4h0m.1-6h0m2.5 .4h0m0 1.7h0m.7-10h0m1.4 15.5h0m.1-14h0m2.1 11.8h0m.1-13.3h0m2.8 9.4h0m13.1-.1h0"/>
</g>
<ellipse rx="43.0" ry="11.0" fill="url(#g1)" stroke="none" transform="translate(229.5 365.8) rotate(-17.5)"/>
<g stroke="#d5272a" stroke-width="1.9" stroke-linecap="round" stroke-opacity="0.3" fill="none">
<path d="M171.7 379.5h0m.4 .5h0m5.8 14.3h0m1-9.1h0m.5 6.4h0m3.6-7.8h0m.3-7.7h0m.6-19.8h0m.3 19.1h0m1.1-7.6h0m1 13.2h0m1-4.8h0m.5-1.8h0m2.3-5.4h0m2.3-.4h0m.1-2.3h0m.6 10.6h0m.2-14.5h0m.1 8.6h0m.5-4.7h0m.2-.8h0m1.4 10.7h0m.4-4.5h0m.6-2.5h0m.3-5.6h0m.7 24.3h0m.3-7.6h0m.4-.9h0m.2 6.1h0m.1-10h0m.3-11h0m.2-2.7h0m.2 9.6h0m.7-.9h0m.2 3.5h0m.3-25.3h0m0 28.5h0m1.2-1.1h0m.4-12.2h0m.1 9.9h0m.1-11h0m.3 36h0m.1-31.7h0m.2 4.3h0m.1 1.5h0m.2-9.7h0m.2 15.8h0m.1-.4h0m0-4.3h0m.1-16.6h0m.3 5.3h0m.1 12.9h0m.1-11.4h0m.5 14.3h0m0-12.4h0m.1 10.1h0m.3-1.1h0m.1 11.6h0m.2-16.6h0m0 6.3h0m.1-3h0m.1 3.4h0m.3-.6h0m0 .5h0m.1-2.2h0m.2-7.9h0m.1 12h0m.2-12.8h0m0 2.4h0m0-.7h0m.1 7.1h0m.3-14.2h0m0 5.9h0m.1 2.1h0m.1-4.1h0m.3 6.8h0m.3-23.4h0m.4 27.5h0m.6 .5h0m.2 16h0m.1-15.3h0m0-2.1h0m.1-8.7h0m.4 16.2h0m.1-7.1h0m.2-17.7h0m0 10.1h0m.1 21h0m.2-17.3h0m0 13.4h0m.2-24.4h0m.1 3h0m0 14.4h0m0 .3h0m.3-8.4h0m.1 5.6h0m0-14h0m.1-6.2h0m.1 21h0m.3-5.9h0m.1-3.5h0m0 21.5h0m.2-22.9h0m.1 21.1h0m.2-12.7h0m.1-7.6h0m.2-3.6h0m0 6.9h0m.2-.7h0m.2-15.7h0m0 25.7h0m.1-3.9h0m.1-.5h0m0-1.5h0m.2-4.2h0m.2 9.3h0m.2 .3h0m.2-16.8h0m0 6.2h0m.1 1h0m.2 1.4h0m.1 3.4h0m.4 2.6h0m.2 4.2h0m0-6.3h0m.2-17.1h0m0 10.5h0m0-.7h0m0 5.3h0m.1-4h0m0-4.2h0m.1-14.3h0m0 21h0m.5 3.6h0m0 5.8h0m.5-8.1h0m0-10.6h0m.1 8.5h0m.1-.9h0m.1 5.1h0m0 .6h0m0-1.1h0m.1-8.4h0m.1 6.9h0m0-21.8h0m.1 24.5h0m0-4h0m0 .9h0m0-8h0m0 17.1h0m0-7.1h0m.1-19.8h0m.1 25.5h0m.1-10.2h0m.1 9.7h0m0-18.4h0m.1 17.2h0m0-3.1h0m.4 6.8h0m.1-11.7h0m0-1.8h0m.2 2.7h0m.1-9h0m.1 5.1h0m.1 2.7h0m0 5.6h0m.1 3.8h0m.1-8.4h0m.2 .7h0m0-.6h0m.1-5.5h0m.6 7.8h0m0-8.8h0m0 15.6h0m0-9.3h0m.1 1.6h0m.2-12h0m0-.1h0m.2 6.1h0m0 1.5h0m.2-2.8h0m.1-1.1h0m.1 4h0m0 .3h0m.2 7.8h0m.1-5h0m.3-4.7h0m.1-.6h0m0 12h0m.1-13.4h0m.1 14.1h0m.1-6.3h0m.1-9.8h0m.1 6.1h0m0-3.9h0m.3 4.7h0m.1-12.3h0m0 9.5h0m.1 1.6h0m.1 10.1h0m.1-17.4h0m0 20.8h0m0-12h0m0-8.8h0m.1 8.3h0m.1-1.4h0m.4-4h0m0 10.5h0m0-9.6h0m.2 6h0m.1-9.4h0m0 5.9h0m.1 0h0m0 14h0m.1-11.7h0m.1 9.4h0m.2-23.1h0m0 18.8h0m0-8.3h0m.1-2.3h0m0 10.8h0m0-2.3h0m0-.2h0m.1-5h0m0 .1h0m.1 5.7h0m0 .3h0m.1-5.4h0m0-1.6h0m.2 1.6h0m0 6.3h0m0 5.3h0m.3-8.1h0m.1-2.9h0m.1-.1h0m.1 4.2h0m.1-3.3h0m.1 .4h0m0 1.4h0m.1 4.8h0m.1-1h0m.2-15.3h0m0 1.1h0m.1 7.8h0m.1-4.1h0m0 4.9h0m0 4.6h0m.1-2.9h0m.3 .8h0m.1-1.6h0m0 1.9h0m0-13.1h0m0 26.8h0m0-10.9h0m.1 2.5h0m0-8.3h0m.1 5h0m0-10.5h0m0 .7h0m.1 5.4h0m.2 4.8h0m.2-16.9h0m.1 12.5h0m.1-1.4h0m.3 .1h0m.2 1.8h0m0-9.7h0m0 13.8h0m.1-3.3h0m0 4.3h0m0-1h0m.1-1h0m0 4.6h0m0-12h0m.1-7.4h0m.1 10.7h0m0 7.1h0m.1-1.9h0m.1 7.2h0m0-7.6h0m.1-9.7h0m0 9.6h0m.1-3.2h0m0 4h0m.1-15.6h0m0-5.7h0m0 6.4h0m.1 5h0m0-11.7h0m0 12.9h0m0-5.5h0m.1 7.4h0m0 8.7h0m.1-5.6h0m0-13h0m.1 7.4h0m.1 7h0m0 6h0m0-11.2h0m0 7.3h0m.2-7.1h0m0-5.8h0m.1-6.2h0m0 6.2h0m.1 11.6h0m.2-16.5h0m0 9.1h0m.1 9.1h0m.1-12.2h0m.1 3.6h0m0-2.9h0m.2 1h0m0 12.3h0m0 .4h0m.4-13h0m0-1.1h0m.1 21.2h0m.1-17.5h0m0 1.3h0m0 6.6h0m.1-5.4h0m.2-6.7h0m0 .9h0m.1 4.9h0m.2-19.2h0m.1 19.9h0m.1 5.4h0m.1-11.1h0m0-1.3h0m.1 1.3h0m.1 .1h0m0-1.8h0m0 3h0m0-.1h0m.1 6.9h0m.1-10.4h0m.2 4h0m.3 11.1h0m0-18.3h0m0-3.8h0m.2 14h0m.1-1.9h0m.1-4.2h0m.1-5.5h0m.1 18.5h0m0-16.6h0m0 8.8h0m0-6.3h0m.2 16h0m0-16.1h0m0 4.3h0m.2 7.5h0m.1-6.2h0m.1 4.1h0m.3-7.6h0m.1 7.4h0m0-6.6h0m0 3.4h0m.1-3.3h0m0 6.4h0m.1 1.5h0m0-.7h0m.1 .3h0m.2-9.8h0m0-.8h0m.1 10h0m0-2h0m0 4.7h0m0-11.3h0m0-2.2h0m.1 17h0m0-7.7h0m.2-3.8h0m0 3.9h0m0 6.6h0m0-14h0m.1 7.2h0m0-11h0m0 .3h0m.1-5h0m.1 6.2h0m.1-3.2h0m.3 5.2h0m0 1.4h0m0 4.1h0m.1 2.6h0m.2-9.1h0m0-9.1h0m0 11.6h0m.1 1.6h0m.1-4.8h0m.2 4.5h0m0-1.1h0m.1-4.3h0m0 4.8h0m.1 7.2h0m0-8.1h0m.1-.5h0m0 7.8h0m.2-.2h0m.1-14.9h0m.1-1.4h0m0 25h0m0-15.4h0m.3 6.4h0m.3 2.6h0m0-6.1h0m0-1.9h0m.1-7h0m.1 1h0m.1 1.3h0m.1 8h0m0-9.9h0m.3 14.4h0m0-8.1h0m.2-11.1h0m0 5.3h0m.1 2.7h0m.1-9.9h0m0 14h0m.1-1.1h0m.2 1h0m0-4.2h0m0 9.3h0m.1 5.3h0m.1-13h0m.5-2.7h0m0-6.7h0m.1 3.1h0m0 9.9h0m.1-8.5h0m.1-.3h0m.1 2.7h0m.1 11h0m0-7.8h0m.2-1.5h0m.1 6.8h0m.2-10.9h0m0 2.2h0m0-.8h0m.1 5.2h0m.1-9.9h0m.3 6h0m.1 4.9h0m.1-6.6h0m.1 12.2h0m0-6.4h0m.1 .1h0m.1 1.8h0m.1-8.8h0m.2 4.8h0m0-3.2h0m.3 10.2h0m0-8h0m.1 .2h0m.1 .2h0m0 17h0m.1-22.7h0m.2 22.1h0m0-20.7h0m0 5.4h0m.2-9.3h0m0 1.3h0m.4 15.7h0m0-13.3h0m0-1.2h0m.2 13.6h0m.1-8.3h0m0 6.9h0m.1-4h0m.1-7.4h0m.2 14.6h0m0-4.5h0m.1 3.2h0m.1-14.2h0m.1 8.4h0m0-1.9h0m.2-8.1h0m.2 5h0m.1-12.6h0m.2 17.7h0m0-1.5h0m.2 10.3h0m0-13.9h0m.1 4.6h0m.3 .8h0m.3 .6h0m.4-6h0m0-2.2h0m.1-4.3h0m0 .7h0m.1 9.2h0m.2-4.9h0m.1 4.8h0m0 1.3h0m0-4.5h0m0 0h0m.1 9.9h0m0-8.9h0m.1 3.9h0m0-4.7h0m0-1.9h0m.1 7.4h0m0-1.6h0m.2-2.6h0m.1 1.9h0m.1 5.2h0m.1 6.5h0m0-7.6h0m.1-3.8h0m.6-4.8h0m.2 2.3h0m.1 .1h0m0-2.9h0m0 .5h0m.2-.1h0m.2-.7h0m0 10.6h0m.1-9.1h0m.1-4.3h0m0-.1h0m.4-5h0m.2 3.4h0m0 5.4h0m.5 12.1h0m0-10.9h0m.4-9.4h0m0 6.1h0m.1 7.7h0m.1-7.9h0m.2-2.8h0m0-4.8h0m.3 11.7h0m.1 10.7h0m0-10.3h0m.1 8h0m.1-7.4h0m.1-1.7h0m0-5.7h0m.2-4h0m.2 17.3h0m.1 6.6h0m.1-16.9h0m.2 10.7h0m.3-12.9h0m.5 1.5h0m.1 .2h0m.1-.6h0m.4 11.3h0m.3-2h0m.1-7h0m.1 3.7h0m0-10.1h0m.1 8.4h0m.5-11.9h0m0 6.2h0m.2 13.8h0m.6-14.1h0m.1 10.6h0m.2-10.7h0m.2 2.2h0m.1 .6h0m.4 3.2h0m.1 6.3h0m.7-9.8h0m0 2.1h0m.4 .2h0m0 1.4h0m.1-2.8h0m0 5.1h0m0-5.1h0m.2 1.2h0m.2-7.9h0m.2 7.6h0m.5 7.9h0m.1-2.9h0m0-8h0m0-4.1h0m.1 13.9h0m0-7.9h0m.1 2.6h0m0-.2h0m.2-6.1h0m.2 1.1h0m.2 3.5h0m.2 4.5h0m.1-14.3h0m.5 14.6h0m.4-4.4h0m0-2.8h0m.5-2h0m.4 1.5h0m.1-2.3h0m.2-11.1h0m0 10.7h0m.2 9.4h0m.2-6.6h0m.1 .9h0m.2-2.7h0m.5 .6h0m.1 7.9h0m0-2.3h0m.1 .8h0m0-9.5h0m.2-6.1h0m.6 23.5h0m0-5.5h0m.5-11.1h0m0 2.7h0m.1 .2h0m.4 6.7h0m.8-13.1h0m0 11.4h0m.1-7.7h0m.3 4.8h0m.2-6.1h0m.2 .1h0m0 6h0m.8 1.8h0m.2 9.3h0m.2-17h0m1.2 11.7h0m.7 2.6h0m.3-9h0m3.2-8.8h0m.9 1.8h0m.6 3.5h0m2.3 1.6h0m.1-1.6h0m.9 3.7h0m.4-1.3h0m.1-5.1h0m0 .3h0m.4 3.4h0m3.4 .9h0m3.6-3.8h0"/>
<path d="M157.1 386.4h0m4.9-7.8h0m7.7 3.2h0m12.5-18.5h0m.7 26.4h0m1.4-10.2h0m.1-6.4h0m.1-2.6h0m1.3-6.2h0m.4 7.8h0m2.4-9.9h0m.2 11.1h0m.3 8.6h0m.1 4h0m.5-19.9h0m0 37.3h0m.1-44.5h0m1.5 19h0m.4 8.6h0m.3 2.7h0m.6 1.3h0m.9-5.5h0m.3-3.8h0m.8-4.9h0m.1 17h0m0-12.3h0m1.1-6.1h0m0-4.1h0m.2 18.6h0m.1-19.9h0m.1 19.3h0m.5-14h0m.1-5.8h0m.5-10.5h0m.1 12.1h0m.1 10.2h0m.2-8.7h0m.1-8.8h0m.2 16.6h0m.2 .5h0m.3-.7h0m.5-3.5h0m.3-7.1h0m0-2.8h0m.2 13.2h0m.2-12.2h0m.1 1h0m.2 6.2h0m0-1.2h0m.2 11.1h0m.1-15.2h0m.1 5.6h0m.5-14.5h0m.1 18.8h0m.3-12.3h0m.3 6.6h0m.3-3.8h0m.1 3.7h0m.3 4.2h0m.1-7.2h0m.3-8.6h0m1 7.5h0m.7 6.6h0m.1 3.3h0m.1-3.3h0m.1 4h0m0-6.4h0m.1-4.5h0m.1 7.6h0m.2 1.6h0m.3-7.3h0m.2 23.7h0m0-25.6h0m0-.9h0m.4 22.5h0m.2-18.8h0m.3-11.3h0m.1 10.2h0m0 .9h0m.4-9.3h0m.1-7.7h0m.1 24.8h0m.1-12.9h0m0 2.8h0m.1 5.2h0m.4-6.6h0m.1 7.6h0m.1 8.3h0m.1-6.1h0m.3-3.3h0m.1 3.8h0m0-1.3h0m.1 2.8h0m0-13.8h0m.1 12.1h0m.3 3.9h0m.2-13.2h0m.2-.2h0m.3 5.5h0m.2-.2h0m0-20.7h0m.2 7.1h0m0 11.9h0m.1 12.3h0m.1-10.9h0m.1-10.8h0m0-3.2h0m.1 24.9h0m.2-13.4h0m.2-.4h0m.1-14h0m.1 15h0m.1-1.1h0m.2 5.5h0m.1-7.9h0m.2-5.2h0m.2 .4h0m.7 6.6h0m.6 13.6h0m0-20.3h0m0 5.3h0m.3-4.1h0m.1-10.3h0m.1 16h0m.1-5.9h0m.4 9.4h0m0-1.2h0m0-7h0m.2-3.2h0m.1-.4h0m.1 4.4h0m0 18.4h0m.1-13.1h0m.1-8.8h0m.1 8.6h0m0 3.7h0m0-20.6h0m.1 12.4h0m0 3h0m0 5.2h0m.3-4.2h0m.3-3.1h0m.3-11.3h0m.2 20.5h0m.1-3.1h0m0-7.1h0m.3 6.2h0m0-7.2h0m0 12.1h0m.2-8.5h0m0-2.8h0m.1 5.2h0m.1 .3h0m.1-15.1h0m.1 3.6h0m.1 16.9h0m0-1.6h0m.1-22h0m.1 21.2h0m.2-6.8h0m.1 11.1h0m0-21.5h0m0 8.1h0m.1-6.1h0m.3 24.3h0m.2-8.2h0m0-6.1h0m0-7.6h0m.2 5.5h0m.3 2.1h0m.1-4h0m0 5h0m0 14.7h0m0-9.2h0m.1-6.1h0m0 3.9h0m.2-7.8h0m.3 2h0m.1 3.8h0m.1 4h0m0-8.9h0m.1 .6h0m0-18h0m.2 20.1h0m.1 7.1h0m0-3.5h0m.1-4.3h0m0-1.1h0m.2 10.1h0m0-23.3h0m.4 13.3h0m.1-6.4h0m0 15.4h0m.1-9.4h0m.2-5.5h0m0 6h0m.2-4.8h0m0-.5h0m.1-6.5h0m0 4h0m.1 6.7h0m.1-2.3h0m0-4.4h0m.1-3.2h0m.1 17.9h0m.1 17h0m0-25.6h0m.1 3.3h0m.1-1.2h0m.1-3.6h0m0 9.3h0m.2-22.8h0m0 22.1h0m.1-8.4h0m0 5.2h0m.1 4.7h0m.1-18.7h0m.1 21.8h0m0-15.1h0m.2 2.3h0m0 .4h0m0-6.2h0m.1-.4h0m0 7.6h0m0 7.8h0m.1-13.6h0m.1 19.2h0m0-17.8h0m.1 10.6h0m0-14.5h0m.4 19.4h0m.1-11.2h0m0 3h0m.1-1.6h0m0 5.4h0m0-10.6h0m.1-1.4h0m0-.2h0m.4 7.8h0m0-4.1h0m0 6.7h0m.1-6.5h0m0 1.9h0m.1-3.8h0m.1-1.5h0m.1-7.2h0m.1 0h0m0 24.2h0m.1-5.1h0m.1-.3h0m.3-2.4h0m0-3.8h0m0-4h0m.2-3.8h0m.1 10.8h0m.1 0h0m0 11h0m.1-8.1h0m0 0h0m.2-6.9h0m0-8.4h0m0 4.4h0m.2-4.8h0m.1 10.9h0m0-5.8h0m0 1.1h0m0 2h0m.1-6.9h0m0 18.2h0m.1-24.7h0m.1 13h0m.1 18h0m.1-19.3h0m0-1.4h0m0 2.6h0m.2-.4h0m0-1.8h0m.1-1.3h0m.2 7.2h0m0-.1h0m.3-2h0m.1 7.1h0m0-4.2h0m.1 1.5h0m0-5h0m.2 1h0m0-8.1h0m.2 7.3h0m.1-5.7h0m.1 2.2h0m.2-6.3h0m0 23.2h0m.2-16h0m0 15.3h0m0-10.9h0m0-3.1h0m.2-4.9h0m0 2.7h0m.1 9.6h0m0-2h0m0-13.8h0m0 14.6h0m.3-16.5h0m0 17h0m.1 11.8h0m0-25h0m.1 13.3h0m.1-8.1h0m0 5h0m.2-8.2h0m.1 11.7h0m.1-5.4h0m0-7.1h0m0 10.5h0m.1-.1h0m.1-6.6h0m.1 .7h0m.1 11h0m.1-29.3h0m.1 7.7h0m0 13.2h0m0-9.7h0m0 .7h0m.1 7.1h0m0-6.5h0m.1 11h0m0 5.6h0m0-1.7h0m.1-14.9h0m.2 23.5h0m0-11.8h0m0-5.9h0m0-11.2h0m.2 18.5h0m0-7.8h0m.1 1.8h0m.1-1.3h0m.1-1.7h0m0-1.2h0m.1 11h0m0-10.2h0m0 4.5h0m.1-8.3h0m0 7.3h0m.2 3.3h0m0-1h0m.3 1.2h0m.1-7.4h0m.2-5.3h0m0 21.1h0m0-14h0m.1 6.3h0m.1-9.7h0m.1 12.9h0m0-7.4h0m.1 .7h0m0-4.9h0m.2-6h0m.1 11.9h0m0-5h0m0-4.8h0m0 18.5h0m.1-10.9h0m.1-16.7h0m0 12.7h0m.1 7.6h0m0 2.2h0m0-9.7h0m0 8h0m.1-5.2h0m.2-.1h0m.1 5.4h0m.1 .7h0m0-17.2h0m.1 21.7h0m0-18.9h0m.1 .7h0m.2 1h0m.1 5.5h0m.1 2.7h0m.1 3.5h0m0 .2h0m0 7.7h0m.1-15.9h0m0 2.1h0m.1 4.9h0m.1 12h0m0-5.7h0m.2-8.8h0m.1-9.7h0m0 8.9h0m.1-.1h0m.2 1.1h0m0-4.7h0m0 14.8h0m0-14.8h0m.1 7.8h0m0 .8h0m0-5.6h0m.1 2.7h0m0 8.3h0m0-7.2h0m0 .7h0m0-10.5h0m.1 14.5h0m0-18.1h0m.1 14.1h0m.2-12.2h0m0 10.4h0m0-.9h0m0-3.9h0m.1 2.8h0m0 4.6h0m.1-7.7h0m0-1.8h0m.2 3h0m0-.7h0m.2-3.6h0m0 6.2h0m.2-3.2h0m0 .3h0m.2-9.6h0m0 16.5h0m.2-2.7h0m0-5.6h0m0 9.6h0m.1-9.7h0m0 3.5h0m0 2.5h0m.2-2.8h0m.1-6.2h0m.3-3.5h0m.1 16h0m.1-.7h0m.1-3h0m0-1.3h0m.1-8.2h0m0 19.3h0m.2-16.8h0m.1-2.8h0m0 10.6h0m.1-.7h0m0-8.5h0m.1 1.1h0m.1 4.7h0m.1-5.7h0m.1 6.3h0m0 .4h0m.1-5.7h0m.1 9.4h0m.1 4.5h0m.2-9.9h0m.1-5.6h0m.1 11.4h0m0-7.1h0m.2-.8h0m.3 6.7h0m.1 4.5h0m.4-13.9h0m.1 6.5h0m.1-3.1h0m.1 3.3h0m.1-5.6h0m0 7.6h0m.1-1.1h0m.1-2.1h0m.2-2.5h0m.1 3.7h0m.1-1.5h0m0 10.9h0m.2-.1h0m.1-18.8h0m.1 1.1h0m.2-4.6h0m.1 20.1h0m.1-15.2h0m0 .9h0m.2 15.1h0m0-14h0m.1-5.8h0m0 5.4h0m.1 0h0m.2 9.5h0m.1 .1h0m0-.9h0m.1-8.7h0m.1 .4h0m.2 4.1h0m.1-9.4h0m0 .2h0m.2 10.3h0m.2-2.7h0m0-2.7h0m.2 6.6h0m.1-2.9h0m0 3.2h0m.2-9h0m.1 1.8h0m.1 10.3h0m.1-18.1h0m0 8.6h0m0 3.6h0m.1-7.3h0m.1 3.6h0m.2 3.3h0m0-2.8h0m.3 2h0m0 6.9h0m.1-7.8h0m.1 3.4h0m.1-11.3h0m.3 4.1h0m.1 1.3h0m.2 8.2h0m.4-1.9h0m.1 5.4h0m0-9.6h0m.1-1.6h0m.3 1.1h0m0 16.5h0m.2-18.1h0m0-5.8h0m.7 3.4h0m.5 6h0m.1-.1h0m0-6h0m0 8.4h0m.1 .2h0m.2 5.3h0m.2-8.1h0m0-2.3h0m.1-3.8h0m0 1.8h0m.1 7.3h0m.1-1.8h0m0-.1h0m.1-2.9h0m0-3.4h0m.2 2.9h0m0-5.9h0m0 14.2h0m.2-12.4h0m0 12.6h0m.1-7.5h0m0 2.5h0m.1-4.1h0m.1 .9h0m.3 6.2h0m.3-9.7h0m0 3.5h0m.1-2.7h0m.2 4.9h0m.1-14.5h0m.1 20.3h0m.2-.4h0m.1-16.8h0m.6 1.6h0m.3 9.3h0m.2-3h0m.7 .8h0m.1-4.4h0m0-1.1h0m.6 5.4h0m.4-4h0m.1 4.5h0m.1 3.5h0m.1-10.4h0m.1 13.1h0m.6-13.3h0m.2-.2h0m.3 6.9h0m.1-4.8h0m.1 .6h0m.3 3h0m.2-.2h0m0 2.4h0m0 8.8h0m.2-10.7h0m.1 2.8h0m.2 4.5h0m.2-4.7h0m.4 5.6h0m.3-1.1h0m.3-11.5h0m.1 6.1h0m.1-.1h0m.1-5.3h0m.2 3.1h0m.8 4.3h0m1.3-5.7h0m.2-1.2h0m0 .5h0m.2-2.5h0m.2 2.7h0m.1 3.9h0m0-8.6h0m0 4.3h0m.1 1.3h0m0-7.1h0m.7 4.2h0m.2 1.7h0m.1-2h0m.4-2.9h0m.6 3.8h0m.3 .4h0m1.4 6.6h0m0-12.4h0m.6 3.9h0m.2-4.8h0m.4 8.2h0m0-1.4h0m.1-6h0m.9 8.5h0m.2 6.7h0m0-9.9h0m1.6 2h0m.5-4.7h0m1.7 6.1h0m0-2.9h0m1.2 1h0m.7-5.5h0m2.1 5h0m.8-1.9h0m.2 7.1h0m.4-14.5h0m1.9 6.2h0m1.2-12.4h0m.4 4.2h0m.7 9.4h0m15.4-11.8h0"/>
<path d="M175.7 381.5h0m2 .8h0m2.9 3.1h0m1.1-20.2h0m2.4 13h0m.1-10.5h0m.3 19h0m.2-9h0m.6-13.3h0m.3 11.5h0m.4 3.6h0m.3 7.7h0m.7-25.2h0m.2 14.7h0m1.5 1.1h0m.1 15.6h0m.8-23h0m.3-7.8h0m1.4 16.4h0m.3 7.3h0m.2-18.2h0m0 3.4h0m.4 2.2h0m.7 6.3h0m0-7.9h0m.2 1.5h0m.1 11.9h0m.2-8.5h0m.1-7.5h0m.1 1.3h0m0 7.8h0m.8 3h0m.2-6.4h0m.6 5.1h0m.4-8.3h0m.1-5.7h0m.4 5.8h0m.2 14.7h0m.2-23.1h0m.2-4.1h0m0 32.3h0m.3-31.9h0m.3 17.4h0m0-9.9h0m.1 9h0m.1-5.7h0m.1 23.2h0m.1-7.7h0m.6-4.3h0m.1 7.9h0m.1-13.4h0m.1-8.9h0m0 9.5h0m.2-9.7h0m.3 9.4h0m.1-4.5h0m.1-4.2h0m.1 13.3h0m.3-5.3h0m.3-2.2h0m.3 16.2h0m.1-17h0m.2 6.3h0m.4-.8h0m.2 13.8h0m0-17.1h0m.1 8.5h0m.1-12.8h0m.2 18.8h0m.2-16.2h0m.4 7.7h0m.2-12.7h0m0 7.6h0m.2-10.3h0m.4 16.2h0m.1-16.8h0m.1 12.1h0m.2-2.7h0m.9 5.8h0m.1-10.6h0m.6-7.2h0m.4 1.4h0m.1 17.7h0m0-23.1h0m0 15.4h0m.1 1.2h0m.2-3.4h0m.1 2.7h0m0-1.1h0m.1-8h0m.3-6.8h0m.1 14.3h0m0-.1h0m.1-2.3h0m.1 7.2h0m.3-6.6h0m0 1.6h0m.1 1.7h0m.1 4.1h0m0-2.6h0m.1 1.9h0m0-14.9h0m.2 3.4h0m0 8.3h0m.1 11.9h0m.3-5.5h0m.9-15.2h0m.2-2.6h0m.1 8.1h0m.3-4.2h0m.1-4.9h0m.2 7h0m.1 1.8h0m0-3.1h0m.2 2.3h0m.1-4.4h0m0 11.2h0m.1-1.7h0m0-2.2h0m0-1.3h0m0 2h0m.1-3h0m0 1.1h0m.2 4.5h0m.2-15h0m0 12.2h0m0 11.8h0m0-6.6h0m.1-16.7h0m0 11.2h0m.2-4.5h0m0 5.4h0m.3-9.6h0m.1 5.9h0m.2-1h0m.1 2.5h0m.1 3.8h0m0 8.5h0m.1-12.1h0m.1 5.4h0m0-13.6h0m.1 21.1h0m.3-15.2h0m0 3.2h0m.1-1.3h0m.2-13.9h0m.1 21.5h0m.2-17.3h0m0-2.5h0m.1 9h0m0 3.1h0m0 0h0m0-4.8h0m.1 12.5h0m.2-13.7h0m.1 9.1h0m.1 4h0m.2 9.7h0m.1-14.1h0m.1-1.1h0m.1-3.4h0m.2 6.2h0m.1-17.6h0m0 20.5h0m.3-16.1h0m0 16h0m.1-4.3h0m.2-1.8h0m0-1.9h0m.2 13.5h0m.1-19.6h0m0 11.8h0m.2-3.6h0m0-6.2h0m0 2.3h0m.2-3.1h0m.2 4.9h0m.1 4.9h0m.2-8.8h0m.1 10.4h0m0 1.6h0m.1-8h0m0-9.3h0m.4 12.9h0m0 6.6h0m.1-12.1h0m0-8h0m.1 .3h0m0 10h0m0-11.1h0m.1 18.9h0m0-8.4h0m.1 1.1h0m.1 4.4h0m.1-7.2h0m0-5.1h0m0-3.5h0m.3 3h0m0 8.5h0m.2-4.8h0m.1 6.2h0m.2 .5h0m.2-6.9h0m.1 5.2h0m0 1.5h0m0-.7h0m.1-10.1h0m.1-.8h0m0 6.9h0m.1-11h0m0 12.8h0m.1 2.3h0m.1-2.4h0m.1 12.3h0m0-20.1h0m0-1.3h0m.1-.3h0m0 5h0m0 14.7h0m.2-9.1h0m.2-22.3h0m0 22h0m0-8.4h0m0-.6h0m.2-1h0m0 5.4h0m.1 10.6h0m0-8.7h0m0-.5h0m.1-2.6h0m.1-7.9h0m.1 10.9h0m.1-14.3h0m0 11.4h0m.1-4.2h0m0 11.1h0m.4 7.6h0m0-22.4h0m.2 10.9h0m0 7.8h0m.1 .9h0m0-15.8h0m.1 6.8h0m.1-7.7h0m0 2.2h0m.1 7.3h0m.1 3h0m0 3.5h0m.1-11.2h0m.1-6.3h0m.1 2h0m.1 8.5h0m0 .9h0m.1-5.5h0m0 16.4h0m0-11.9h0m.1 5.9h0m.1-9.8h0m0 9.4h0m.2-11.5h0m.1-5.5h0m0-2.7h0m.3 19.8h0m.1-21.6h0m0 13h0m.1 1h0m0-3.3h0m.1-5.2h0m0 .1h0m.1-8.5h0m.2 23.5h0m0-5.6h0m.1-3.2h0m.1 1.6h0m.1-4.9h0m0-3.5h0m0 11.6h0m.1 9.9h0m.1-17.7h0m.1 7h0m0-3.2h0m.1-4h0m0 4.1h0m.1-2.2h0m.2-2.3h0m.1 3.4h0m0-5.6h0m.1 4.7h0m0-1h0m0 6.2h0m.4-2.3h0m.1-.2h0m0 .7h0m0-6h0m0 5.2h0m.1-.7h0m.2-3.6h0m0 6.1h0m0 2.3h0m.1 7.7h0m.1-6.3h0m.3 .4h0m0-1.3h0m.2-14.1h0m.5 5.2h0m0-.4h0m0 3.4h0m.1 6.2h0m.2 12.2h0m0-18.8h0m.1 17.5h0m.1-21.4h0m0 3.6h0m.1-2.9h0m0 7.9h0m.1-11.2h0m0 10.8h0m.1-4.1h0m0 3.8h0m0-9.2h0m.1 16.2h0m0-2.8h0m0-6.4h0m.1 22.9h0m0-15.5h0m.1-8.5h0m.1-3.7h0m.1 15.1h0m0-10.4h0m.1-2.7h0m0-.7h0m0 5.8h0m.3-4.7h0m0 10.2h0m0-9.7h0m.1-.4h0m.2 8.6h0m.2 .9h0m.3-13.7h0m.1 .3h0m0 19.1h0m0-16.8h0m.2-2.3h0m.1 6.6h0m.1-9.7h0m0 9.2h0m0-12.1h0m.1 9.7h0m0 2h0m0-7.4h0m0 9.4h0m0-1.7h0m0-5.7h0m.1 .1h0m.1 2.5h0m.1 4.6h0m.1 .9h0m.2-2h0m0-11.3h0m.1 7.9h0m.1-1.5h0m.1 21.8h0m0-29.5h0m.1 6.9h0m.1 5.1h0m0 11.1h0m.1-12.1h0m.1-4.2h0m0-2.8h0m0 4.6h0m0-3h0m.2 23.3h0m.1-14.6h0m0 2.6h0m.2-1.7h0m0-8.6h0m.1-4.9h0m0 2.7h0m0 14.2h0m.1-13.5h0m0 1.5h0m0 1.8h0m.2 2h0m.4-11.2h0m0 12h0m0-6.4h0m0-1.7h0m.1 24.3h0m.1-15.9h0m.1-4.9h0m0-2.6h0m0 20.2h0m.1-18.5h0m0 3.1h0m.1-1.5h0m0 4.4h0m.2-6.6h0m0 10.7h0m0-8.4h0m.1-.4h0m.1-2.7h0m0 10.4h0m.2-3.2h0m0-3.3h0m.1 .4h0m.1-1.2h0m0-8h0m.1 20.3h0m0-11.6h0m.1 8.8h0m.1-6.4h0m.1 1.1h0m.4-2.8h0m0 3.8h0m.2-13h0m0 1.5h0m0 10.5h0m.2-10.4h0m0 .5h0m0 5.2h0m.1 .4h0m.1-.2h0m.1 7.2h0m.5-4.8h0m.1 .4h0m.2 7.5h0m.2 .3h0m0-1.4h0m0-1h0m0 .9h0m.1 1.8h0m0-23.8h0m0 25h0m.1 2.1h0m0-15.7h0m0-3.8h0m.1 10.9h0m0-1.6h0m0-5.5h0m.1 6.5h0m0 7.8h0m0-11.2h0m.2 5.8h0m.1-5.8h0m0 9.2h0m0-10.3h0m.1-.6h0m0-7.9h0m0 15.8h0m0-1.4h0m.2 3.7h0m.1-19.8h0m.1 9.7h0m0 1.4h0m.1-9h0m.1 15.4h0m.4-13.4h0m.2 15.9h0m.2-10.5h0m.1 3.6h0m.1 5.8h0m0-7.9h0m0-7.2h0m.1 13.8h0m0-15.7h0m.1 17.7h0m0-11h0m.1 6.6h0m.1-10.8h0m.1 9.6h0m0 4.9h0m.3-3.7h0m0-2.4h0m0-4.4h0m.1 6.2h0m.1 3.1h0m.2-11.7h0m.2-2.8h0m0 15.6h0m0-14.5h0m.1 7.6h0m.2 1.4h0m.2-9h0m0 16.4h0m.1-13.9h0m0 11.1h0m.1-19.5h0m0 14.3h0m0-2.1h0m0 7h0m.1-6.1h0m.2 .3h0m.2-9.7h0m.2 .7h0m.2 13.6h0m.1-7.5h0m.4-2.7h0m0-1.6h0m0 .2h0m.3-3.7h0m.1 4.1h0m0-1.3h0m0 10.7h0m0-.9h0m.2 .7h0m0-1.1h0m.1-8.6h0m.1 4.1h0m0-2.9h0m0 10.6h0m0-4.6h0m0 12.2h0m.2-6.5h0m.1 0h0m.1-8.3h0m0 12.8h0m.1-24h0m.1 13.9h0m0-5.4h0m.1-3.1h0m.1 7.5h0m0 6.2h0m.3-16.2h0m0 7.8h0m.1 13.9h0m0-21.1h0m.1 7.7h0m.1 5.1h0m0-.7h0m.1 5.2h0m.1-.3h0m0-11.3h0m.1 10h0m0-11.7h0m.4-.7h0m.2 2.6h0m0 3.3h0m.1-4.5h0m.1 11.3h0m0-10h0m.1-3h0m.2 15.9h0m.2-15.8h0m0 3.9h0m.1 1.1h0m0-4.3h0m0 3h0m.1 2.4h0m.1-10h0m.1 14h0m.1-2.8h0m.1-8.6h0m.1-8.4h0m.3 22h0m0-13.6h0m.2 11.6h0m.2-8h0m0-.2h0m0 3h0m0-7.3h0m.1 7.1h0m.1 8.1h0m.3-3.2h0m.1-3h0m.1 .3h0m0-5.8h0m.2 4.1h0m.2-2.2h0m.1 4.6h0m.1 1.4h0m.1-9h0m.1 2.4h0m.2 5h0m.1 8.8h0m.1-11.3h0m.1-15h0m.1 21.8h0m0-9.2h0m0-2h0m.1 3h0m0-5.3h0m.3 2.4h0m.2-3h0m0 1.3h0m.1 18.3h0m0-14h0m.1 4.3h0m.6 9.4h0m0-11.5h0m.1-6.6h0m.1 5.7h0m0-18.7h0m.2 18.6h0m.1-10.3h0m0 4.7h0m.2 6.3h0m0-4.1h0m0-.4h0m.1 16.9h0m.1-11.6h0m.3 1.8h0m.1-7.2h0m.1 2.2h0m.8-9.7h0m0 11.8h0m0-5.4h0m.2-1.8h0m.2 6.4h0m.6-4.5h0m.5 6.6h0m0 3.4h0m.2-8.5h0m0-.7h0m.2 4.4h0m0-3h0m.1 2.3h0m0-14.3h0m.2 12.6h0m.1-6h0m0-4.9h0m0 12h0m.1-2.2h0m.1-.3h0m.1 7.9h0m.2-1.5h0m0-3.9h0m0 3h0m.2-6.7h0m0 6.5h0m.4-6.4h0m.3 .3h0m.1-7.9h0m.2 6h0m.1 3h0m.1 5.4h0m0-3.7h0m.3 2.5h0m.3 3.6h0m.1-6.2h0m0 6.5h0m.1-6.7h0m.5-6.9h0m.1 5h0m.1 3.7h0m.2-2.7h0m.2-5.2h0m.4 7.9h0m.1-4.5h0m.2 .7h0m0-2.1h0m.5-7.3h0m0 17.7h0m0-1.7h0m.1-23.2h0m.3 14.2h0m.1-4.3h0m.4 1.2h0m0 5.1h0m.1-3.2h0m.4 6.4h0m.1-5.4h0m0-4.7h0m.1 3.6h0m.5-1.9h0m.9 10.1h0m.2-5.9h0m.3-4.6h0m.3 7.3h0m.2-10h0m.1-4.3h0m.6 16.1h0m1.4-5.8h0m1.4 5.2h0m.9-16.8h0m1.1 10.7h0m.3-13.1h0m1 14.6h0m0-5.5h0m.6 1.3h0m0-.4h0m1.8-.4h0m.5-.2h0m.5 3.6h0m.4-3h0m2.3-4h0m1.5 6h0m0-7h0m1 2.1h0m1 9.8h0m.5-.3h0m.9-15.1h0m3.4 .1h0m2.9 8.1h0"/>
<path d="M159.3 378.5h0m12.1 9h0m2.8-4.2h0m5.8-3.7h0m.6-8.2h0m2 4.3h0m.2 17.6h0m.5-18.9h0m.2 4.8h0m.6 .8h0m1.1-10.2h0m.1-4.8h0m1.2 .9h0m.1 22.1h0m.2-.5h0m0-4h0m.2-18.1h0m.2-5.1h0m.1 18.5h0m1.1-1h0m.2 4.9h0m.5-5.1h0m.1-5.2h0m.2 11.9h0m1-2.2h0m.2 .5h0m.2-3.2h0m2.5-2h0m.2-3.3h0m.1 4.7h0m.3-11.3h0m0 .2h0m.9-7.6h0m1.1 15.8h0m.5-9.6h0m.2 11.3h0m.4-4.7h0m.1-1h0m.8-2.4h0m.2 6.9h0m0 1.7h0m.5-2.7h0m.1-2.8h0m0 5.1h0m.1-5.6h0m.5 18.1h0m.2-8h0m.2-9.2h0m.3-5.7h0m0 5.9h0m.1-7.8h0m.3 .1h0m.1-1.2h0m.5 14.4h0m.2 6.1h0m0-20.7h0m.1 .6h0m.3 15h0m.1-4h0m0-16.6h0m.1 14h0m.4 8.8h0m.4-8.4h0m0 1h0m0 5h0m.7-12.4h0m.3 10.2h0m.1-10.6h0m.2 11.6h0m0 2.2h0m.2-1.1h0m.4-8.2h0m.5-2h0m.2 8.6h0m0-11.1h0m.1 4.5h0m0-1.4h0m.2 11.2h0m.4-14.2h0m.1 3.4h0m0-3.6h0m.3 1.9h0m0-1.5h0m.2 .8h0m0 3h0m.4 5.6h0m1-2.7h0m.1-2h0m.2-3.5h0m0 2.8h0m.1-3.6h0m.5 14.6h0m.1-19h0m.1 0h0m0 6.5h0m.2-6.4h0m.2 1.6h0m0 18.1h0m.1-12h0m.1-3.6h0m.2-2h0m.1 10.8h0m0 3.1h0m.1-12h0m0 3.5h0m0-3.4h0m.2 16.1h0m.1-13h0m.1-1.2h0m0 1.6h0m.5 4.4h0m0-7.5h0m.1 .6h0m0-6h0m0 1.2h0m.1 11.5h0m.1 6h0m0-5.8h0m.1-6.8h0m.4 10.2h0m0 .4h0m.1-17.6h0m0 5.1h0m.1 3.3h0m0 2.6h0m0-9.8h0m.4 .1h0m.1 18.8h0m0-12.2h0m.4 4h0m.3 4.7h0m0-13.8h0m.3 7.1h0m.2-5.4h0m.2 6.2h0m0 4.8h0m.1-3.2h0m.1 3.1h0m.1-20h0m.1 8.4h0m.2 9.4h0m.1-8.5h0m0 5.7h0m.1-3.9h0m.1-3.1h0m0 7.4h0m.1-2.9h0m.2 13.5h0m0-15.3h0m.1-1.7h0m0 9.9h0m.3-6.7h0m.1 .4h0m.1 3.5h0m0-6.7h0m0 .4h0m0-1.5h0m.1-2h0m.3-9.6h0m0 20.2h0m.4-18.8h0m0 7.8h0m0 .6h0m0 7.7h0m.1-.7h0m.3 2.4h0m.1-2.6h0m0 2h0m.1-4.8h0m.2 5.6h0m.1-6.7h0m.1 6.7h0m0-5.3h0m0 6.9h0m.1-10h0m0-.2h0m0-2.5h0m.1 12.5h0m.1-9.5h0m.2 10.3h0m0-3h0m.1-.5h0m.1-4.4h0m0 2h0m.2-3.4h0m.3 12.2h0m.2-7.9h0m0-7.3h0m.2 4.7h0m.1 5h0m.1 1.7h0m.1-.7h0m0 13.9h0m.1-18.4h0m0 5.7h0m.1 .5h0m.1-8.4h0m.2 7.8h0m.1-12.7h0m0 15h0m0-13.4h0m.1 19.1h0m.1-12.9h0m0-12.7h0m.2 15.3h0m.1-6.3h0m0-1.5h0m.1 6.7h0m0-9.2h0m.1 14.6h0m.1-.7h0m.1-9.7h0m.4 11.1h0m0-3.9h0m.1-5.8h0m.3 9.1h0m.1-13.3h0m.1 12h0m.1-3.1h0m0 1.4h0m0-10.1h0m.1 10.8h0m0 3.4h0m.1-2.8h0m0-10.7h0m.2 3.6h0m.1 .6h0m.1 20.3h0m.1-17.8h0m0-12.5h0m0 26.1h0m.3-22.2h0m.1 .4h0m.5 6.9h0m.2-4.8h0m0 9.8h0m.1-17.4h0m0 3.3h0m0 3.8h0m.1 7.3h0m0-4.2h0m.3 10.6h0m0-4.9h0m0-6.2h0m.1-6.5h0m.1 16.8h0m.1-5.8h0m0-6.3h0m0-17.8h0m0 17h0m.1 7.7h0m0-11.4h0m.2 15.9h0m.1 8h0m.1-26h0m.1 6.7h0m0 8.2h0m.1 2.5h0m0-7.2h0m.3-2.7h0m0 4.7h0m.1-9h0m.1 10.4h0m0-1h0m0 7.1h0m.1-3.1h0m.2-6.8h0m0 2.6h0m0-13.1h0m0-3.7h0m.2 8h0m0 10.3h0m0-6.5h0m.1-7.8h0m.1 7.2h0m.1 11.6h0m.1 2.3h0m0-14.1h0m.1 9.1h0m.2-7.2h0m0 4.2h0m.1-1.7h0m0 5.3h0m0-4.1h0m0 .6h0m.1-4.1h0m0-3.8h0m0 2.8h0m.1-.5h0m0 9.5h0m.1-15.1h0m.1 13h0m.2-2.2h0m.1-12.8h0m0-12.3h0m.3 26.6h0m.1 1.3h0m0-7h0m.1-.4h0m.1 1h0m.2-7.7h0m0-6.8h0m.1 9h0m0-6.3h0m0 1.5h0m0 11.6h0m.2-1.5h0m.1 1.5h0m.1 5.6h0m0-10.3h0m.1 7.5h0m.1-11.9h0m.1-3.3h0m0 18.6h0m0-16.1h0m.1 7.7h0m.1-2.4h0m.1 5.3h0m.1 5.7h0m0-11.1h0m0-9.3h0m.1 23.2h0m.1-19.4h0m.1 10.7h0m.3-8.5h0m.2-3.4h0m0-2.4h0m0 5h0m.1 5.1h0m0-7.3h0m.1 8.4h0m0 .2h0m.2 5.9h0m0-6.7h0m.1 10.1h0m.2-12.9h0m0-3h0m.1 4.3h0m0 7.8h0m.3-1.3h0m0-9.8h0m.4 4.9h0m.1 6h0m0-6.7h0m.1 1.1h0m0 6.2h0m.1-12.3h0m.2 4.3h0m.2-1.4h0m.1 4.2h0m0-4.6h0m.3 7.3h0m0-11.4h0m.1 6.3h0m.1-16.2h0m0 23.3h0m0-11.8h0m0 3.4h0m.2 12h0m0-16.2h0m0 10.2h0m0-5.6h0m.1 8.2h0m0 7h0m0-20.6h0m.1 5.1h0m0 5.7h0m.1-5.8h0m.1 4.6h0m.1-1.1h0m.2 5.6h0m0-11.9h0m0-5.7h0m0 28.8h0m0-27.9h0m0 10h0m.1-11.1h0m.1 11.6h0m0 1.3h0m0-3h0m.2 2.6h0m0 .4h0m0 11.7h0m0-18.8h0m0 7.8h0m.1-3.4h0m0 4.3h0m0-7.6h0m.1 4.8h0m0-6.7h0m0 4.3h0m.1-2.6h0m.1 .4h0m0-2.6h0m0 6.1h0m0-2.1h0m0-.3h0m.1 1.7h0m0 1.5h0m0-1.3h0m.1-.6h0m0 13.6h0m0-7.5h0m.1 2.7h0m0-10.2h0m.2-3.4h0m0 10.2h0m.1-6.1h0m0 3h0m0-6.8h0m0 3.1h0m.2 7.6h0m.1-7.9h0m.1-6.4h0m.1 9.5h0m0-3.5h0m.2 5.9h0m.1-8.3h0m.1-6.1h0m.2 14.9h0m.1 .7h0m.1-5.8h0m.1 2.5h0m0 1.3h0m0-1.6h0m0-.8h0m.1 4.6h0m.2-3h0m.2-1.6h0m0 3.5h0m.1-8h0m0 3h0m0 11.8h0m0-14h0m0 10.9h0m.1-9.6h0m0-.9h0m.1 5.8h0m0-17.9h0m0 15h0m.2-7.2h0m.1 8.9h0m0-1.7h0m.1-3h0m0 14.4h0m.2-14.9h0m.2-5.4h0m0 6.7h0m.3 6.5h0m.1-8.4h0m0-1.5h0m.1 3.1h0m.3-5.5h0m.1 .3h0m0 7.5h0m0-8.1h0m.1 6.4h0m.2-.5h0m.1 3.6h0m0-2.7h0m0-3.6h0m.1 7.3h0m0-10.6h0m.1 3.4h0m0-.4h0m0-1.3h0m.1 7h0m0-2.1h0m0-8.7h0m0 8.1h0m.1 6.5h0m.2-4.1h0m0 1.7h0m.1-2.8h0m0-1.1h0m.1 6.3h0m0-17.1h0m.2 .7h0m0 5.5h0m.1-5.8h0m.1 10.7h0m0-9.4h0m.2 4h0m0 11.9h0m.2-9.3h0m.1 7.9h0m0-8.7h0m.2 3.6h0m0 4.2h0m0-10.8h0m.1 11.4h0m0 1.2h0m0-13.8h0m.1 1.2h0m.1 7h0m.4-4.1h0m.1 0h0m.3-1.1h0m.1 17.2h0m0-13.1h0m0-.3h0m.2 1.3h0m.1-2.5h0m0 6.6h0m.2-1.8h0m.1-6.4h0m.3 5.6h0m0-.1h0m0 3.6h0m0-12.2h0m.1 16h0m.1-7.7h0m0-1h0m0 2.5h0m.2-7.2h0m0 8.7h0m.2-5.8h0m.2 10.9h0m.1-15h0m0 11.3h0m.1-3.9h0m0 1.5h0m.1-3.4h0m.2-2h0m.1 9.6h0m0 3.3h0m.1-12.7h0m0-1.5h0m0 1.1h0m.1-4.7h0m.1 5.2h0m.2-9.1h0m.1 6h0m.1-.8h0m0 7.8h0m.1-7.2h0m0 1.3h0m.1-1.5h0m0 5.5h0m0-5.9h0m.1 5.7h0m.3 6.6h0m0-9.4h0m.2-.8h0m.2 4.4h0m0-7.5h0m.4 1h0m.1 9h0m.2 6.6h0m0-12.9h0m.1 3.9h0m.1-10.7h0m.3 8.8h0m.1 4.7h0m0-6.1h0m0 0h0m.1 4.4h0m.1-9h0m.3 15.7h0m0-13.5h0m0 7.1h0m0-6.3h0m.1-2h0m.2 3h0m.1-7h0m.1 10.4h0m.2-8.9h0m.1-2.6h0m0 5.7h0m.4-2.4h0m.2 5.6h0m.2-1.1h0m0-2.8h0m0-3.3h0m.1 15h0m.2-18.3h0m.5 18h0m.3-8.7h0m0 2.9h0m0-9h0m0 6.7h0m.1 4.2h0m0 2.6h0m0-9.2h0m.3 7.2h0m0-2h0m.2 7.2h0m.3-6.9h0m.1-.5h0m.1-3.1h0m.2 1.6h0m0 1.5h0m.1-.6h0m0-2.3h0m0-3.4h0m.1 10.4h0m.3-12.4h0m0-2.7h0m.1-4.1h0m.3 6h0m.1 7.4h0m.1-1h0m0 .4h0m.1 5.1h0m0 1.5h0m.1-7.2h0m0 7.4h0m0-4.2h0m.1-8.5h0m.1 5.3h0m0-.3h0m.1 8h0m.4-2h0m.1-1.2h0m.3-4.6h0m.2-.3h0m.1 2.4h0m0-10.4h0m.4 3.5h0m.2-.5h0m.1 3.7h0m.6 6h0m0-3.4h0m.2 6.1h0m0-5.5h0m.8-2.4h0m.3-2.8h0m0-8.9h0m.1 10.7h0m.9-6.7h0m0 10.6h0m.6 .7h0m.3-2.7h0m.2-5.4h0m.8-.1h0m.2-9h0m.3 10.5h0m.1-4.8h0m.1 4.1h0m.2-5.6h0m.6 17.8h0m0-9.2h0m.5-4h0m.5 1.8h0m.4 0h0m1.9 3h0m.1-4.5h0m.7 3.7h0m0-1.8h0m.9 6.2h0m.5-6.1h0m0-2.3h0m.5 1.6h0m.5 5.7h0m.2-8.5h0m.1 4.1h0m1.6-7.1h0m0 10.5h0m.7-9.5h0m1.2 5.4h0m.3-12.9h0m1.2 12.6h0m.2 .7h0m.6 .4h0m1.4-2.5h0m1-.7h0m5.9-9.8h0m14.7-1.3h0"/>
<path d="M173.6 377.6h0m.2 8.3h0m1.6-7.3h0m.6 3.1h0m4.1-6.5h0m1.1-.3h0m1.2-5h0m2.7 13h0m1.4 8.5h0m.4-12.7h0m2.6-11.5h0m1.4-3.3h0m.6 7.3h0m.4 1.9h0m.2-15.1h0m.7 19.6h0m.1 2.4h0m.2 18.4h0m0-37.6h0m.3 11.1h0m.7 10.7h0m.2 .9h0m.3-7.6h0m.6-6.3h0m0 7.3h0m.1 7h0m.5-7.6h0m.4-2h0m.1 4.9h0m.3-15h0m.8 5.5h0m.2 20.7h0m.1-12.2h0m.6-8.2h0m.1-2.2h0m.3 .8h0m.1 9.6h0m.1 12.9h0m0-20.4h0m.3-7.3h0m0 12h0m.3-5.1h0m.2-.6h0m.2-1.2h0m0-1.9h0m.1 5h0m.1 3.6h0m0 5.5h0m.1-.8h0m.5-3.4h0m.4-2.5h0m0 8.4h0m.3-4.7h0m.2 .9h0m.2-4.3h0m.2-2.4h0m.1 3.4h0m.3 1.4h0m.4-16.2h0m0 29.6h0m.4-16.9h0m.1 11.9h0m.2-9.3h0m.4-4.7h0m0 11.6h0m.1-7h0m0 17.2h0m.4-18.6h0m.1-3.1h0m0 .8h0m.1 4.3h0m.2-2.9h0m.1-4.6h0m.1 9.8h0m0 .3h0m0-10.8h0m0-1h0m.2 5.1h0m.1 9h0m.1-18.6h0m.1 9.4h0m.3 5.4h0m.1-11.3h0m0-6h0m.2 19.2h0m0 4.9h0m.3-14.7h0m.2 3.3h0m0-3h0m0 1.2h0m.2-20.2h0m.1 16.6h0m.1 2.5h0m.3-1.7h0m0-1.2h0m.2 3.8h0m0 10.2h0m.1-4.2h0m.2-3.5h0m.1-2.7h0m0 7.1h0m.3-2.6h0m0-2.9h0m.1 4h0m0-3.1h0m.1-7.7h0m0 12h0m.1 0h0m.2-9.3h0m.2 11.4h0m0-7.1h0m.1-3.9h0m0 11.3h0m.1-7.6h0m0-6h0m.2 21.2h0m.1-11.5h0m.1-8.9h0m.3 7.6h0m.8-8.6h0m.1-9.9h0m.1 23.2h0m0-10.5h0m.1 1.5h0m0 3.5h0m.1-13.1h0m.1 25h0m.2-15.7h0m0-6.4h0m.1 9.4h0m.1 6.3h0m.1 2.6h0m0-3.4h0m0-1.5h0m.2 5.5h0m0-23.3h0m.1 11.4h0m.1-1.9h0m0 4.7h0m0-2.5h0m.1 .4h0m0-7.6h0m0 11.9h0m0-5.1h0m.2-3.8h0m.1 16.3h0m0-29.1h0m.1 13.1h0m0 7.7h0m.1-17.8h0m.5 23.3h0m.1-28.9h0m0 9.4h0m0 6.7h0m.4 14h0m.1-11.1h0m.2-1.8h0m.1-2.9h0m0 16.8h0m.3-17.3h0m0-5.3h0m0 21.3h0m.2-4.3h0m.1-1h0m0-.9h0m.1 6.4h0m.1-5.6h0m0-17.8h0m0 18.4h0m.1-21.3h0m0 26.4h0m0-13.3h0m.2-1h0m0-2.9h0m.3 3.1h0m.2 4.8h0m.1-.6h0m.2-8.2h0m.1 5.5h0m.2 0h0m.2-14.5h0m0 13.3h0m0-.4h0m.1 2.5h0m0-6.9h0m.1 7h0m0-6.7h0m0-7.8h0m0 18.6h0m.3-.7h0m0-7.4h0m.1 .4h0m.1 7.6h0m0-6.9h0m.1-4.2h0m.1 5.7h0m.1-8.1h0m0-5.4h0m0 12.4h0m.1 .2h0m.1-3.9h0m.1 6h0m.2 3.9h0m0-3.5h0m.1-8.4h0m.1 14.9h0m.3-17.1h0m.2 22.7h0m.1-10.8h0m.1-6.5h0m.1 11h0m0-9.9h0m0 13.6h0m.2-.7h0m0-16h0m.2 19.1h0m0-9.5h0m.1-9.8h0m0-.1h0m0 7.1h0m.1-4.1h0m0 4.6h0m0-2.6h0m.1 4.6h0m.1 2.9h0m0-14.8h0m.1 7.1h0m0-5.2h0m.2 7.7h0m0-6.6h0m.1-12h0m.1 13.9h0m0-6.5h0m.1 20.6h0m.1-18h0m.1 1h0m0 11.3h0m0 1.1h0m.2-11h0m0 9.6h0m0-3.9h0m.2 2.7h0m.1-5.1h0m0 1.8h0m0-7.2h0m0 6.6h0m.1-2.9h0m.2-8.4h0m0 27.2h0m0-3.6h0m.1-8.9h0m.1 2h0m0 8.3h0m.1-20.7h0m.1 3.4h0m0 7.7h0m.1-1.4h0m.1-1.5h0m0 .2h0m0-3h0m0 4.9h0m.1 5.2h0m.3-3.9h0m.3-3.9h0m0 0h0m.1 7.2h0m0-12.7h0m.1 8.9h0m.1 .8h0m.1-8.1h0m0 4.3h0m.1 8.6h0m0-6h0m0-9.4h0m.2 11.3h0m.3-10.1h0m.1-2.9h0m.1 8.3h0m0 10.9h0m.1-10.6h0m0-2.8h0m0-1.6h0m0 2.3h0m0-1.8h0m0 7.3h0m0 1.6h0m.1-.3h0m.1-2.3h0m0 10.1h0m.2-10.5h0m.1-.1h0m0-2.2h0m0-3.8h0m.1-3.5h0m0 .8h0m.4 3.5h0m.1 2.3h0m0-1.1h0m0-1.2h0m.3 0h0m.1 12.9h0m0-9.8h0m.1 1.6h0m0 8.1h0m.2-20.8h0m0 10.7h0m0 .8h0m.1 2.3h0m0 9.2h0m.2 3.1h0m.1-27.9h0m.1 8.2h0m0 6.2h0m.1-11.4h0m0 12.2h0m0-2.1h0m0-19.1h0m.2 8.2h0m.3 8.6h0m0 11h0m.1-17h0m0 16.2h0m.1 3h0m0-7.5h0m.1-4.8h0m.2 2.6h0m.1 6h0m.1-11.1h0m.1 10.9h0m.2-2.7h0m0-19.5h0m0 19.1h0m.1-18.2h0m0 17.9h0m0-11.6h0m0 10.3h0m.1 1.4h0m.4-6.3h0m.1 4.9h0m.1 .7h0m0-6.4h0m0 11h0m.1-10.1h0m.2 7h0m.1 2.2h0m0-15.6h0m.1 4.4h0m0 3h0m0-6.7h0m.1 6.4h0m.1 8.6h0m0-15.9h0m.1 8h0m0-1.1h0m.1-8.8h0m0 7.2h0m0 20.5h0m0-25.1h0m.1-1.1h0m0 15.1h0m.1-15.2h0m.1 5.9h0m.7-2.6h0m.1 8.4h0m.1-1.1h0m.1-10.9h0m.1 8.7h0m0 .4h0m.3-8.5h0m.1 12h0m0 3.2h0m.2 2h0m0 4.3h0m.1-19.8h0m0 3h0m.1-4.9h0m.1 17.3h0m.1-5.6h0m.1-2.9h0m0-3.4h0m.1 5h0m0-6h0m.1 6.2h0m.1-1.8h0m.1 8.3h0m.3-16.3h0m0 6.6h0m.1 1.1h0m.2-6.3h0m0 3.2h0m0-8.3h0m.1 20.8h0m.1-7.1h0m0-22.3h0m.1 27.6h0m.1-19.3h0m.1 3.4h0m.1 2h0m0 9.6h0m0-7.2h0m0-.8h0m.2 7.8h0m0-9h0m0 11.9h0m0-3.8h0m.1-11.6h0m.1 9.6h0m0-2.7h0m0-6.3h0m.1-5.8h0m.1 1.6h0m.1 9.6h0m.1-5.4h0m0 3.9h0m0-2.5h0m.1 6.3h0m.1 5.7h0m.2-6.5h0m0-8.7h0m.1 16.1h0m0-19.9h0m.1 7.5h0m0 5.2h0m.3-2.3h0m0-1.6h0m0 .1h0m.1-2h0m.2 3.7h0m0-2.8h0m0 3.2h0m.1 6.2h0m0-11.5h0m.1-.2h0m.1 11h0m.1-18.5h0m0 22.3h0m.2-8.2h0m0 8.6h0m0-5.8h0m.1-.5h0m.1-1.1h0m0 15.5h0m0-23.3h0m.3 9.9h0m.1-11.7h0m.3 8.8h0m0 2.4h0m0-6.6h0m.1-2.4h0m.1-1.2h0m0 7h0m0-3.7h0m.1 .8h0m.1-6.9h0m0 11.5h0m0-11.3h0m.1 .6h0m.2-4.9h0m.1 1.6h0m0 2.8h0m.1 7.2h0m.1 1.9h0m.7-3.1h0m.1 9h0m0-2.9h0m.1-14.4h0m0 4h0m0 2.3h0m0-.7h0m.1 .1h0m.1 15.7h0m0-12.7h0m.2-.5h0m.2 4.3h0m.1-8.2h0m.1 4.3h0m.1 1.3h0m.1 4.3h0m0-2.4h0m.2 5.4h0m.1-11.1h0m0-9.1h0m.1 18.7h0m.1-14.5h0m0 7.4h0m0-6.3h0m.2 18.4h0m0-2h0m.1-7.8h0m0-4.6h0m.1 15.7h0m0-16.8h0m0 6.7h0m0-5.6h0m.1 1.4h0m0 7.8h0m.1-8.3h0m0 13.7h0m.1-11.3h0m0 8h0m0-7.3h0m.2 1.3h0m0 2.2h0m0-11.4h0m.1 .3h0m.1 14h0m0-2.6h0m0-1.1h0m.1-3.4h0m0-14.7h0m0 19.2h0m.2-.2h0m0-20h0m.1 16h0m.1 1.6h0m.2-4.5h0m0 5.1h0m0-10h0m.1 5.4h0m0-3.6h0m.2-3.2h0m.2 4.4h0m.1 4.6h0m0-7h0m.2 5.5h0m.1-6.4h0m0 9.9h0m0-4.4h0m.1-.8h0m.3 7h0m0-2.9h0m.1 1.1h0m.1-.2h0m.2 0h0m.3-9.3h0m0 6h0m.1-2h0m.1 .3h0m0 1.4h0m.2 3.5h0m.2 5.2h0m0-11.8h0m0-3.8h0m.1 9h0m.2 4h0m.1 2.6h0m.1-10.3h0m.1 4.8h0m.3-5.3h0m0 5.6h0m0-5h0m0-1.2h0m.1 6.7h0m0-11.6h0m.2 2.9h0m.1 5.1h0m.1 0h0m.6 2.4h0m0-17.9h0m0 13.5h0m.1 5.9h0m0 1h0m.1-6.2h0m.1 3h0m.1 6.2h0m0-5.9h0m.1-6.8h0m.2 5.3h0m0-18h0m.4 11.5h0m0 12.1h0m.2-6.2h0m0 5h0m.1-8.4h0m.3 4.2h0m.3 10.2h0m0-9.3h0m.1-.2h0m.1 .7h0m.1-3h0m0-7.6h0m.3 14.3h0m.2-2.8h0m.1 8.2h0m.2-24.3h0m.1 9.4h0m.3 7h0m0-.4h0m0-4.3h0m.1-2.7h0m.2 .4h0m0 .9h0m0 6.6h0m0-9.7h0m0 6.8h0m.1-10.8h0m.2 2.7h0m.1 2.1h0m.1 7.7h0m0-9.2h0m.1-1h0m0 11.4h0m.4-7.8h0m.3 5h0m0 1.5h0m.1-3.2h0m0 6.5h0m.1-7.6h0m0-11.7h0m.1 11.8h0m.2 1.5h0m.2-3.9h0m.1 9.9h0m.2-9.7h0m.3 3.8h0m.1-3.6h0m.1-.4h0m.3 7h0m0-1.6h0m0-.8h0m.3-14.1h0m.1 14.1h0m.1 2.4h0m.1-2.8h0m.3-10.9h0m0 19.4h0m0-15.9h0m.5 1.8h0m.2 .4h0m.3 2.2h0m0-7h0m0 8.8h0m.3 .6h0m.1 2.5h0m.3-9.1h0m.2 6h0m0-2.7h0m.2-.2h0m.3 7.5h0m0-10.2h0m.1 6.4h0m.2-1.8h0m.1-10.2h0m.1 8.3h0m0-7.5h0m.1 3h0m.1-2h0m.6 12.7h0m.2-6.6h0m0-4.8h0m.1 10.4h0m.2 4.6h0m.9-5.4h0m.1-.5h0m.1-3.5h0m.9 1.6h0m0-1.6h0m.3 4.6h0m0-11.1h0m.1 1.8h0m1.1 6.7h0m.6-5h0m.1-3.6h0m.5 11.3h0m.5-7.9h0m.2-.7h0m.5 3.5h0m.6-6.8h0m.1 7.8h0m.3-5.3h0m.2-3h0m.1 6.4h0m.1 8.5h0m.1-9.1h0m.4-3.7h0m1.1 2.7h0m.5 .2h0m.2 0h0m0-.4h0m.8 2.9h0m.5-11.6h0m.6 15.3h0m.2-.2h0m.3-6h0m.5-.6h0m.4-2.7h0m.5 1.7h0m.1-6.5h0m1.4 0h0m1.1 .7h0m2.1 0h0m1.1-1.1h0m.7-2.2h0m.7 2.5h0m.3 2.4h0m.5 4.8h0m.2-3.4h0m1.2-4.4h0m2.7 3.1h0m.4-3.8h0"/>
<path d="M168.9 380.8h0m2.7-2.9h0m4 15.5h0m1.7 1.2h0m0-9.2h0m4.7-10.3h0m.5 13.9h0m1.2-15.2h0m1.1 2h0m.5 1h0m2-10.2h0m.1 11.4h0m1.2-19.2h0m1.2 19h0m.5-4.5h0m.2-2.4h0m.1 9.3h0m.5-.8h0m.1-8.9h0m0 15.7h0m.1 .4h0m.4-9.5h0m.1 22.3h0m.4-17.5h0m.1 1.3h0m.2-24.9h0m.8 18.7h0m0-9.3h0m.3 19.4h0m.1-.2h0m0-23.3h0m.6 14.1h0m.2 3.2h0m0-1.2h0m.2-12.4h0m0 6.6h0m0 4.8h0m.3 17.9h0m1.2-25h0m.8-4.6h0m.5 5h0m.4-1.8h0m.3 8.1h0m.1-3.4h0m0-10.8h0m.4 13.5h0m0-1h0m.2 6.3h0m.3-2.2h0m.3-14h0m.2 12.4h0m.6 2.2h0m.2 2.5h0m.5-11.6h0m0 7.9h0m.5-12.6h0m.2 25h0m.1-26.3h0m0-.2h0m0 16.1h0m.2-14.1h0m.1-4.4h0m.2 8.4h0m.1-2h0m.1-5.3h0m0 1h0m.1-1.7h0m0 4.7h0m.1 3.5h0m.2-.6h0m0 1.2h0m.1 .4h0m0 2.4h0m.2-8.6h0m.1 12.9h0m.7-3.8h0m.1-5.5h0m.7-.6h0m.5 4.7h0m.6-11.4h0m0 1h0m.1 4.8h0m0 5.9h0m.1 2.3h0m0-17h0m.1 19.3h0m.1-2.7h0m.1-2.4h0m0-9.7h0m.6 7.4h0m0-2.6h0m.1 6.5h0m.1-8h0m.2 13.3h0m.3-22.2h0m.3 13.1h0m0 11.6h0m.3 .7h0m0-15.2h0m0-3.6h0m.2 2.6h0m.1-7.7h0m0 13.9h0m0 6.8h0m.2-10.2h0m.1-2h0m.4 9.1h0m.2-1.9h0m.1-2.1h0m0-1.7h0m.3-8.1h0m0 4.5h0m.2 1.8h0m.1 6.3h0m.3-16.8h0m0 6h0m.1-2.5h0m.1-2.3h0m.1 19.6h0m.2-11.2h0m.4-3.5h0m.3 4.6h0m0-.8h0m.1 8.8h0m.1-8h0m0-6.7h0m.1 10.8h0m0 2.1h0m0-14.1h0m.2 13.5h0m.1-8h0m0-10.4h0m.3 13.6h0m0 4.4h0m.1-9.7h0m.1-8.5h0m.6 11.3h0m0-.2h0m.3-13.2h0m.1 20.4h0m.1-6.5h0m.1 .7h0m0-11.5h0m.2 4h0m0-.4h0m.1 18.6h0m.1-7.4h0m.1-11.6h0m0 5.4h0m0 11h0m.2-12.8h0m0 4.7h0m.1-2h0m0-6.9h0m.2 8h0m.2 .7h0m.1 3.6h0m0 5h0m.1 2h0m0-13.1h0m0 18.4h0m.2-25.4h0m0 1.3h0m.1 15.7h0m.1-11.3h0m0-6.6h0m.1 13.6h0m0 8.5h0m0-6.1h0m0-4.1h0m.1-9.6h0m0 3.8h0m.1 7.1h0m.1-8.8h0m.1-.2h0m.1 13.5h0m.2-5.9h0m0-1h0m0-9.1h0m.1 15.9h0m.1 2.5h0m.4-8.2h0m.1 7.2h0m0-11.1h0m0-2.3h0m.1 4.3h0m.1 7.8h0m.1-13.7h0m.1-7.3h0m.1 12.1h0m0 4.4h0m.1 6.7h0m0-1.7h0m.2-4.2h0m.1-4.4h0m0 9.1h0m.1-17.7h0m.1 16.8h0m.2-9h0m0-2.3h0m0 .9h0m.1 3.7h0m0-4.2h0m.1 2.9h0m.3-1.4h0m.1-4.5h0m0 15.9h0m.1-15.2h0m.1-3.2h0m0 15.6h0m.4-16.4h0m.1-5.2h0m0 12.5h0m0-7.1h0m.1 9.9h0m0 .8h0m0-3h0m.2 6h0m0-9.7h0m0 3.5h0m.1-1h0m.4-6.1h0m0 6h0m.3-8.8h0m.1 15.2h0m0-10.9h0m.1 10.4h0m.2-5.3h0m0-8.3h0m.2 6.6h0m0-8.3h0m.2 10.1h0m0-2.2h0m0-1.7h0m0 7.4h0m.1-15.7h0m.1 15.6h0m.3-8.5h0m0-8.8h0m.1 9.7h0m.1 28.1h0m.1-26h0m.1-2.5h0m.1-3.4h0m.2-14.6h0m0 25h0m.2-17.1h0m0 16.5h0m.2 1.4h0m0 7.7h0m0-12.2h0m.1 .9h0m.2-6.8h0m.1 10.8h0m0-11.4h0m0 4.8h0m.1-3.8h0m.1 7.2h0m.1 5.4h0m0-.7h0m.1-4.8h0m.2-1h0m0-4.7h0m.1-2.4h0m0-4.4h0m.2 13.6h0m0 4.8h0m.1-8.2h0m.1 6.1h0m0-12.6h0m.1 7.4h0m0-.5h0m.1-2.1h0m0 14.8h0m.1-13.4h0m0 10.3h0m0-12.9h0m0-11.3h0m0 17.8h0m0 .5h0m.1-2h0m0 4.2h0m.1-7.7h0m.1 11.5h0m.2-5h0m0 2.6h0m.1-9.9h0m.3-1.7h0m0 6.2h0m.1-7.4h0m.2 3.3h0m0 10.2h0m.2-10.4h0m0 .7h0m.1 4h0m.2-3.7h0m.1 1.9h0m.1-7.4h0m0 2.1h0m.3-.5h0m.2-.6h0m0-4.6h0m0 11.9h0m0 12.3h0m0-9h0m.2-6.6h0m0 4.3h0m.1-5.1h0m0 1.8h0m.1-10.6h0m0 16.4h0m.1-16.6h0m.1 9.3h0m0-.3h0m.1-3.8h0m0-4.1h0m0 15.8h0m.1 4.4h0m0-9.1h0m0-5.4h0m0 11.9h0m.1 1.9h0m0-14.2h0m0-5.6h0m.1 5.4h0m.2 6.9h0m.1 3.8h0m0-9.4h0m.1 18.8h0m0-19.6h0m.1 15.9h0m.1-10.2h0m0 7h0m0-9.3h0m.1-1.3h0m0-6.3h0m0 8.3h0m0-2.9h0m.1-2h0m.1 8.4h0m.2-12.1h0m.1 25.6h0m0-23.5h0m.4 3.4h0m0 6.3h0m0 5.3h0m0-17.7h0m.2 3.8h0m0 1.1h0m0 .5h0m.2 2.3h0m0-2.5h0m.1-2.2h0m.2 4h0m0-.2h0m0-5.9h0m0 11.3h0m.1 1.2h0m0-3.7h0m.1 4.8h0m.1-23.5h0m.2 19.2h0m.1 10.2h0m0-5h0m.2-6h0m.1-1.4h0m.1-1.4h0m0-1.1h0m.2 3.2h0m0 0h0m.1 8.2h0m0-8.1h0m0-2.3h0m.2-1.8h0m.1 9.6h0m0 8.6h0m.1 2.7h0m.1-15.8h0m0-5.9h0m.1-1.5h0m.1 6.3h0m0 5.7h0m0-11.5h0m.1 10.3h0m0-13.1h0m0 18.5h0m0 2.8h0m.1-12.7h0m0-8.8h0m.2 11.6h0m0 .3h0m.1-6h0m.2-1.6h0m0-4.3h0m0 6.1h0m0 8.1h0m.1-9h0m0 9.4h0m.1-9h0m0 7.3h0m.1-1.2h0m.1-7.8h0m0-6.8h0m.2 7.5h0m.1-13.4h0m0 20.5h0m.3 .9h0m.3-8.5h0m.1 1.5h0m.1-1.8h0m.1 6.1h0m0 7.3h0m.1-5.4h0m0 4h0m0-18.2h0m0 4.8h0m0 18.4h0m.1-15.9h0m0 .1h0m.1-8h0m0 15.7h0m0-10.4h0m0 4.1h0m0 .7h0m.1-3.4h0m.1 4.7h0m.1-.7h0m0 6.1h0m.2-5.8h0m.1-12.7h0m0 8.4h0m0 9.3h0m.3-6.1h0m0-2.7h0m0-7.6h0m.1 17.9h0m.1-4.3h0m.1 12.3h0m0-19.5h0m0 3.6h0m.1-4.1h0m.1 .4h0m.2 12.6h0m0 3.6h0m0-10.1h0m.1 10.6h0m0-13.9h0m.1 9.7h0m0-7.3h0m.1 5.9h0m.2-13.6h0m0 11h0m.2-2.2h0m0-2.4h0m0 4h0m.1-3.9h0m.1 6.4h0m.1-7.9h0m0 9.2h0m0-16.7h0m.1 14.9h0m0-12.1h0m0 12.2h0m0-12h0m.2 5.9h0m.4 4.5h0m.3-4.3h0m.3 2.3h0m.1-4h0m.1 7.3h0m.6-1.8h0m.1 4.1h0m.3-3.4h0m.4-9.3h0m0 2.9h0m0 8.2h0m.1-13.2h0m0 14.3h0m.1-17.1h0m0-7.7h0m0 23.3h0m0-7.8h0m.1 7.7h0m.2-6.1h0m0 5.8h0m.2-4h0m0-14.2h0m.1 10.1h0m0 8.3h0m0-12h0m.2 1.1h0m.2 5.7h0m0-4h0m0 8h0m0-14.4h0m.1 15.8h0m0-8.3h0m.1 6.7h0m0 1.1h0m.1-1.5h0m.1-18.4h0m.1 25.6h0m0-17.6h0m.2 2.1h0m0-3.8h0m.3 8.2h0m.1-1.8h0m.2 7h0m.1-11.4h0m.1 5.6h0m0 4.3h0m.1-13.7h0m.1 10.1h0m0 5.5h0m.1-18.3h0m0 6.4h0m.1 1.6h0m0 2h0m.2 4.1h0m0-7.5h0m.3 13.3h0m.4-12.2h0m0-2.7h0m.1-7.1h0m.2 22h0m.3-8.6h0m.1 1.1h0m.3-.7h0m0 2.1h0m.1-4.7h0m0-7h0m0 7.9h0m.2 0h0m0 .9h0m.1 6.1h0m.2-12h0m0 2.7h0m0 8.8h0m0-2h0m.2 .5h0m0-1.3h0m.1 0h0m0 1h0m.1-6.5h0m.1 3.1h0m0-7.9h0m.1 7.9h0m.1-5.3h0m0-4.8h0m.3 4.7h0m.6 15.9h0m.4-5.5h0m.6-2.8h0m.1-5.7h0m0 20.7h0m0-19h0m.1 8.9h0m.2-19.1h0m.1 2.4h0m.2 13.8h0m.1-5.1h0m.1 6.4h0m.3-14.1h0m.1 7.3h0m.2 .9h0m.4 2.4h0m.5-4.1h0m.1 2.1h0m.3 10h0m.2-1h0m.2-7.9h0m.1-7.5h0m.1-3.7h0m.2 19.7h0m.7-12.2h0m.1 5.6h0m.3-14.8h0m.3 3.4h0m0 7.2h0m.2-2.9h0m0 0h0m.1 2.2h0m.1-14h0m.1 17.9h0m.1-2.3h0m.1-2.7h0m.2 8.6h0m.1-8.2h0m0 7h0m0-12.9h0m0 13.3h0m.2-3.1h0m0-.5h0m.2-.5h0m.1-10h0m0 8.8h0m.1-5.9h0m0 8.6h0m.2-14.5h0m.1 8h0m0-.8h0m.2-1.4h0m.3 15.1h0m.1-13.8h0m.2 6.3h0m.3-1h0m.1-.7h0m0-6.8h0m.1 11.1h0m.1-12h0m.5 3.9h0m.4 9.6h0m0-14.7h0m0 3.7h0m.1 3.1h0m.3 2.1h0m.1-2.3h0m.5 4.4h0m.4-6.8h0m.1 9.3h0m0-13.1h0m.2 1.3h0m.1 11.5h0m0 1.3h0m.6-10h0m.1-2.9h0m1.3 2.7h0m.2-5.3h0m.4 .7h0m.1 5h0m.3 1.7h0m1-5h0m.1-.4h0m.4 .5h0m.8 3h0m.4-.8h0m.1-5.8h0m.3 8.6h0m.1-3.2h0m0-7h0m1 8.9h0m.1 3.7h0m.5-6.6h0m0 .6h0m1.5-3h0m.1 .4h0m.4 7.7h0m.3-5.4h0m.2-8.3h0m.3 4.7h0m.1-.7h0m.2-1.7h0m.3 4.1h0m.4-3h0m.3 1.7h0m.9-.4h0m.1-.9h0m.5 9.7h0m4.4-10.4h0m2 3.5h0m.2-3.2h0m2.5 .9h0m.2 7.5h0m3.7-6.3h0m8.2-1.5h0m.3-6.6h0"/>
</g>
<ellipse rx="30.0" ry="7.4" fill="url(#g2)" stroke="none" transform="translate(422.0 291.7) rotate(-19.0)"/>
<g stroke="#9268ac" stroke-width="1.9" stroke-linecap="round" stroke-opacity="0.3" fill="none">
<path d="M393.7 303.8h0m1.6-4.2h0m4.4-2.1h0m1.4 4.1h0m.7 .5h0m.2-3.2h0m0-.9h0m.7 3.4h0m.5-11.1h0m0 4h0m.1 3.5h0m.4-.7h0m.3 1.4h0m.2 4.1h0m.1-9.3h0m.1 8.4h0m0-3.4h0m.2-4h0m.7-.7h0m.7 6.5h0m.3-2.9h0m.4-5.7h0m.2 4.3h0m.2 3.9h0m0-1.7h0m.1-1.7h0m.1 1.4h0m.9-1.7h0m.3-1.4h0m.3 1.7h0m.3 .9h0m.1-2.5h0m.2-5.1h0m.1 2.6h0m0 4.3h0m.4-2.5h0m.2 3.5h0m.3-5.1h0m.4-3h0m0 8h0m.5-.2h0m.4-2.6h0m.1 4.5h0m.1-2.8h0m0-5.6h0m.2 6h0m.2-1.3h0m.1 5h0m0-11.6h0m.1 6.6h0m.1 7.1h0m.1-6.8h0m.1-3.5h0m1.1-2.5h0m0 5.2h0m0-1.5h0m0-.1h0m.1-1.3h0m.2 5.1h0m0-4.4h0m.1 6.1h0m.1-3h0m.3-1.2h0m0-2.1h0m0 8.6h0m.6-7.4h0m.2-1.7h0m.3 .8h0m0 3.6h0m0-2h0m.3-3.3h0m.2 5.4h0m.1-3h0m0-2.3h0m0 .8h0m.1-3.4h0m.2 7h0m.4 1.3h0m.1-5h0m.2 2.8h0m0 2h0m0-2h0m0-5.8h0m.2-1.8h0m.2 5.7h0m0-2.9h0m.3 10h0m.1-10.6h0m.2 5.7h0m.5 1.8h0m.2-6.7h0m.1 2.5h0m.1 1.9h0m.3 3h0m.2-5.3h0m.1-.3h0m0-.4h0m.2 3.1h0m.1-3h0m.2-3.3h0m.2 7.7h0m0 1.2h0m.1-3.4h0m.2-5.1h0m.1 5.3h0m0 1.7h0m0-3.1h0m.4 .9h0m.2-1h0m.1-1.1h0m.1 .9h0m0-2h0m.1 2.5h0m.1-3.7h0m.2 2.6h0m.5-1h0m0-4.3h0m.1 3.1h0m0 7.1h0m0 3.6h0m.3-7.1h0m.3-5.4h0m0 5.5h0m0-1.9h0m.1 3.3h0m.2 2.3h0m.2-9.2h0m0 3.4h0m.2-1.6h0m.3 2.5h0m0-3.5h0m.1 2h0m0-3.1h0m.3 3.2h0m0-1.9h0m.2 .1h0m.2 .7h0m0 1.5h0m0 1.8h0m0-2.3h0m0-1h0m.1-1.8h0m0 4.4h0m0-1.9h0m.2 4.7h0m.1-3.6h0m.1 .1h0m.2 1.7h0m0-5.3h0m.2 6.2h0m0-4.4h0m.1-5.4h0m0-1.4h0m.2 9.3h0m.1-3.4h0m.3 4.3h0m.1 1.8h0m.2-7.9h0m0 2h0m1 5.9h0m.3-.6h0m.1-5.4h0m.2-.5h0m.4-2.6h0m0 6h0m.2-6.5h0m0 1.8h0m.1 4.6h0m0-2.8h0m.1 .5h0m.1 1.2h0m.1 3.3h0m.2-5.4h0m.1 1.4h0m0 2.9h0m0-2.7h0m.2 4h0m.1-9.4h0m0 6.1h0m0 .9h0m.3-6h0m0 1.4h0m.2-3h0m.4 3.9h0m.3 4.8h0m0-3.7h0m.6-.9h0m.3-2.3h0m0 6.1h0m0-3h0m.3-.7h0m0-1h0m.4 7.3h0m0-2.7h0m0-1h0m.4-4.4h0m.2 1.3h0m.3 .2h0m.4 2.7h0m0-3.1h0m.1-.2h0m.1-.6h0m0-1h0m.1 2.5h0m0 1.4h0m.3 1.4h0m.1-7.7h0m0 5.7h0m.1 2.7h0m.1-5h0m.4 1.6h0m0 .9h0m.2 2.8h0m0-8.1h0m.1 4h0m.2 .8h0m.3 .1h0m.1 2.8h0m.2-1.8h0m.1 1.5h0m.4-8.4h0m.1 3.6h0m.1 4.5h0m.5-7.6h0m.2 2.7h0m.2 2.5h0m0-2.7h0m0-.8h0m.8-2.6h0m.3 3.5h0m.4-4.6h0m.2 5.9h0m.7 1.7h0m.2-1.3h0m.2-.1h0m.6-2.4h0m.2-.7h0m.1 1.4h0m.4-3.1h0m.2 3.5h0m.9 2.6h0m.1-4.3h0m.2 2.6h0m.2 1.8h0m.6-4.4h0m.2 2h0m.5-4.5h0m.4 6.5h0m0-8.8h0m3.5 11h0"/>
<path d="M387.8 304.4h0m4-3.7h0m2.3 2.1h0m3.7 .1h0m.8-7.5h0m.6 2.9h0m.3 2.3h0m0-5.7h0m.3 4h0m.7-2.6h0m1 .5h0m.1 1.4h0m.7 .7h0m.8-1.7h0m.2 8.8h0m.3-8.3h0m0 3.5h0m.2-1h0m.5-3.2h0m.2 4.7h0m0-2.8h0m.2-1.4h0m0-.5h0m1.6 1.1h0m.3-4.8h0m.1 9.2h0m0-8.6h0m.2 2.8h0m.3-2.1h0m.3 3.5h0m.3-.7h0m.1-5.9h0m.4 6h0m0 3.1h0m0-2.2h0m.3-2.1h0m.1-2.8h0m.1 1.6h0m.1-4h0m0 4.9h0m.2-1.1h0m.2-3.1h0m.5 2.7h0m.2 1.9h0m.1 5.3h0m.1-4.9h0m.1-3.3h0m0 6h0m.1-5h0m.1-4.8h0m.1 6.5h0m.3-2.5h0m.2-3.3h0m.1 7.5h0m.4-.1h0m.1-6.1h0m.1-2.5h0m.1 4.4h0m0 2.9h0m0-3.9h0m.1 3h0m0 .3h0m.1 3.3h0m.4-5.9h0m.1 1.4h0m.1-3.4h0m0-.9h0m.2 7.3h0m.3-3h0m0-3.9h0m0 4.5h0m.1 .2h0m0-3.7h0m.1-.7h0m.7 5.8h0m.2-1.8h0m.1-6h0m.2 12.6h0m.1-9.5h0m0-1.4h0m0 2h0m.1 1.3h0m.1 5.8h0m0-6.5h0m0 2.7h0m.1-2h0m.1 .5h0m.1 2.3h0m0-2.6h0m.1 4.6h0m.2-9.7h0m0 3.6h0m0-1.3h0m.1-.5h0m.2 1.3h0m0-.4h0m.3 3.3h0m0-.5h0m0 2.4h0m.3 .5h0m0-4.7h0m.1-3h0m0 1.9h0m0 2.3h0m.4 3.7h0m0-8.5h0m.1 2.9h0m0-1.7h0m0 .2h0m.1 4.9h0m.1-8.1h0m0 1.5h0m.1 3.4h0m0 .3h0m.1 6.3h0m0-7.6h0m.1 1.6h0m0 1.2h0m.1 2.2h0m0-2.9h0m.4-5.4h0m0 1.9h0m.3-.6h0m.1 7.6h0m.2-6.2h0m.1 7h0m0-9.9h0m.4 9.5h0m.1-4.8h0m0-.4h0m.1 6.3h0m.3-3.9h0m0 1.4h0m0-5.2h0m0 .7h0m.2-2.6h0m.4 .9h0m.2 2.7h0m0-1.7h0m0 .4h0m.1-1.9h0m0 5h0m.1-3.4h0m.1 2.1h0m.4-.8h0m.1-.4h0m.1-.3h0m0-.3h0m.3 1.1h0m.1-.4h0m.1-5.1h0m0 6.1h0m.1 1.1h0m.1 .6h0m0-6.2h0m.1 6.2h0m.3-4.9h0m.1 3.9h0m.3 3.6h0m.3-10.6h0m.2 4.1h0m0-4.6h0m0-2.7h0m.1 9.5h0m.2-.2h0m.1 2.5h0m0-2.2h0m.1-1.7h0m.2-2.3h0m.3 3h0m0 2.2h0m.2-8.7h0m0 5.6h0m.1-4.9h0m.3 1.9h0m.1 1.7h0m.2 3h0m0-2.3h0m.1 .6h0m.3-2.4h0m0-1.8h0m.2 3.6h0m.1 10.3h0m.1-9h0m.2 .2h0m.1-8.3h0m0 3.8h0m.1 7.6h0m.1-5.6h0m0 .7h0m.1 4.9h0m.1-8.4h0m.1 1.7h0m.1-2.2h0m0 8.4h0m.1-.5h0m0-5.8h0m0 4.6h0m.2-4.9h0m0-1h0m.2 1.3h0m0 .8h0m.6 1.5h0m.3 1.1h0m0-1.6h0m0 0h0m.2 0h0m.2 3.5h0m.2-3.7h0m0-2.9h0m0 1.1h0m.1-1.2h0m0 2.2h0m.1 .1h0m.1 2.6h0m.1-3.5h0m.1 2.9h0m0 .9h0m.1-5h0m.1-2.4h0m0 4.9h0m0 1h0m.1-1.2h0m.1-1.1h0m0-.7h0m0-3.2h0m.1 10h0m.1-8.6h0m.1 3.5h0m.1 2.8h0m.1-4.6h0m.1-1.8h0m.5 3.8h0m.1-.6h0m0 6.9h0m.2-8.1h0m.1 3.1h0m.2-3.1h0m.1 1.2h0m.1-.2h0m.1-.3h0m.7 1.1h0m.1 2.4h0m0-2.1h0m.4-10.8h0m.2 9.1h0m0-7.7h0m.2 4.9h0m.1 6.8h0m.2-.2h0m.1-5.6h0m0-.2h0m.2 8.6h0m.8-12.1h0m.2 4.8h0m0 .1h0m.1 3.3h0m0-7.4h0m.3 4.8h0m.2 .6h0m.4-10.7h0m.1 5.7h0m.3 6.3h0m.1 .2h0m.2-6h0m.1 2.3h0m.2 2.2h0m0 2h0m.2-5.1h0m.9 3.7h0m.4 4.1h0m.3-11h0m.1-.1h0m.8-2.3h0m.1 9.6h0m.4-8.1h0m.4 5.1h0m.3 .2h0m.4-2.1h0m.1-1.9h0m.7 1.1h0m.3-2.5h0m.7 8.4h0m.2-5.8h0m.2-4.5h0m.5 12.5h0m.2-5.1h0m.1 2.7h0m2.1-.9h0m.3-7.6h0m0 1.3h0m.9 5h0m3.1-6.3h0m.6-1.6h0m7.7-3.5h0"/>
<path d="M388 307.6h0m.7-5.2h0m2-.7h0m4.1-3h0m2.8-.8h0m.4 2.1h0m.2-1.6h0m.8-1.4h0m1.2 4h0m.2-2.2h0m.1 1.1h0m.2-1.7h0m.5 1.6h0m0-2.8h0m.2 .2h0m.1 1.6h0m.9-2.7h0m.3 1.6h0m1 3.1h0m.5-3.3h0m.3-.6h0m.2-2.2h0m.1 5h0m.1-3.2h0m.3 4.4h0m.4-4.5h0m.2 1.4h0m.5-2.3h0m.1 .6h0m.2 3.6h0m0-1.2h0m0-1.9h0m0 .4h0m.1-3.1h0m.3 .4h0m0 8.6h0m0-4.3h0m.7-9.9h0m0 12.1h0m.6-7h0m.3 5.6h0m.1-.3h0m.6-7.4h0m.3 9.6h0m.5-3.7h0m.1-4.6h0m0 3.3h0m.2 1.7h0m.2 .8h0m0-7h0m.3 3.5h0m0 4h0m.1-4.9h0m0 .1h0m.1 2.3h0m0-4.9h0m.1 1h0m.2-.2h0m.2-.1h0m.2 .3h0m.2 7.5h0m.1-4.1h0m.1-1.4h0m0-1.9h0m.1 3.3h0m.2-1.4h0m0-3h0m0 5.4h0m.2 .7h0m.2-2.9h0m0-1.6h0m.2-1.4h0m.1-2h0m.1 3.9h0m.3-1.1h0m0-4.4h0m.1 4.4h0m.3-7h0m0 8.3h0m.1-4.2h0m0 4h0m.2 .6h0m.2-2.1h0m0 2.2h0m0-.2h0m.1-1.7h0m.1 3.2h0m.1-6.2h0m.3 8.3h0m.1-4.4h0m.1-.7h0m0 4.6h0m.1-5.8h0m.1 1.8h0m.1 .2h0m0 1.4h0m0 1.6h0m.1-6.8h0m0 5h0m0 .9h0m.1-.3h0m.3-3h0m.1 3h0m.1-2.1h0m.1-6.1h0m.1 5.8h0m.1 1.9h0m.1 2.4h0m.1-4.9h0m0 3.3h0m.4-4.1h0m.1 1.9h0m0-1.3h0m.1-3.5h0m0 5.5h0m.1-2.7h0m0-.9h0m.3 5.4h0m.2-5.6h0m0 3.2h0m.2 .2h0m.1 2.1h0m.2-3.5h0m0 3h0m.1 1.6h0m.1-10.4h0m0-.2h0m.1 4.7h0m.2 4.4h0m0-6.9h0m.2 1.9h0m.2 7.8h0m.1-10.8h0m.1 6.1h0m.1-2.9h0m0-.7h0m.1-1.6h0m.1 4.6h0m.1 .3h0m0-4.5h0m0 3.4h0m.2-2.7h0m.1 1.7h0m.2 5.6h0m.2-12.1h0m0 6.7h0m.1-4.3h0m0 2.3h0m0-1.7h0m.1 8.8h0m0-2h0m0-.5h0m.1-.2h0m0-3.7h0m.1-1.6h0m.1 6.7h0m0-3.8h0m0-.3h0m.1 1.6h0m0-2.5h0m.2 6.3h0m0-4.8h0m0 1.8h0m.2-.7h0m.5-.8h0m.1 2.3h0m0-2h0m.1 1.7h0m.2-1h0m.1-2.8h0m0 2.2h0m0-6.2h0m.1 3.9h0m.1-3.4h0m.2 1h0m0 3.2h0m.1-1.9h0m.1 3.4h0m0 .1h0m.3-6.8h0m0 3.4h0m0 2.4h0m0-6.7h0m0 8.4h0m.1 0h0m.2 2.7h0m.1-3.5h0m.2-.9h0m.3-3.2h0m.1 4.4h0m.1-5.9h0m.5 1.9h0m0 .8h0m.4-1.9h0m.2-3.2h0m.5 7.8h0m0-2.2h0m.1 6h0m.1-9.8h0m.3 9.1h0m0-7.5h0m.1 .1h0m.1 .7h0m.2 4.1h0m0-7.4h0m.1 8.1h0m0-2.3h0m.4-6h0m.2 4.2h0m.2 .9h0m.3 .4h0m.2-.9h0m0 4h0m.1-4.7h0m0 3h0m.3-5.9h0m.1 3h0m.4-.6h0m.2 3.3h0m0-1.4h0m0-1.5h0m0 .2h0m.6-.5h0m.4-.3h0m0-.9h0m.5-1h0m.2-.7h0m.1 1.7h0m0 1.8h0m.1-1.3h0m.1 0h0m.1-4h0m0 .3h0m.1 2.3h0m.6 9.8h0m.1-8.5h0m0-.1h0m0-7.7h0m.4 1.1h0m.1 11h0m.1-4.9h0m0-7h0m0 10.7h0m.1-4h0m0 .7h0m0-3.4h0m0 2.3h0m.1 1.3h0m0 1.1h0m.2 5.1h0m.1-7.3h0m.1 2.8h0m.2-2.6h0m.2 2.5h0m.2-8.2h0m.1 9.7h0m.3-3.9h0m.3 .9h0m.1 .9h0m.1-3.5h0m0 4.4h0m0 4.3h0m.1-4.8h0m.2-2.3h0m.1 1.4h0m.1-1.5h0m.2-.1h0m.3 6.4h0m.3 .1h0m0-4.2h0m.1-6.4h0m.4 2.2h0m.2 .7h0m.1 3.9h0m.9-5.8h0m.9-.8h0m.8 5.9h0m.7-4.2h0m.5 2h0m.3-.1h0m.6-.8h0m.2 .7h0m.1-2.8h0m1.5 .6h0m.9-1.3h0m.6 5.6h0m.8 .1h0"/>
<path d="M396.5 301.1h0m1.5 2.7h0m1-4.8h0m.2-2.4h0m.2 1h0m.9 5.2h0m.6-5.9h0m2.7 2.7h0m.8-2.2h0m0-2.2h0m.4-2.8h0m.3 5.7h0m.1-.3h0m.5 3.1h0m.7 1h0m.8-6h0m.1 6.8h0m.4-7.9h0m0 4.1h0m0-5.4h0m.1 .2h0m.2 1.1h0m.1 2.4h0m.2-2.1h0m.2-3.7h0m.2 1.6h0m.5-1.1h0m0 3.9h0m.7-3.5h0m0 2h0m.2-.1h0m.5 3.4h0m.2-1.8h0m.1 1.7h0m0 1.2h0m.2-1.6h0m.2-4.7h0m0 2.7h0m.4 2h0m.5 .8h0m.1-9.5h0m0 7h0m.2 4h0m.1-5.2h0m0 7.7h0m.1 .2h0m.1-7.2h0m0-1.5h0m.4-.8h0m.1 8.2h0m.2-5.5h0m.1 3.8h0m.2-4.3h0m0 1.1h0m.2-6.9h0m.2 8.1h0m0-2.5h0m.2-3h0m0-3.7h0m.2 5.7h0m0-1.2h0m.1 1.2h0m.2 .4h0m.1-10h0m.2 10.9h0m0-2.8h0m.1 2.5h0m.1 .5h0m0-1h0m.1 .8h0m0-2.7h0m0 7.7h0m.1-8.9h0m0 .8h0m.2 4.7h0m.1-.5h0m.1-4.2h0m0 2.2h0m.2 1.6h0m.1-1.1h0m0 .4h0m.2-4.2h0m0 7h0m.4-6.2h0m.1 4.2h0m.2-7.9h0m0 5.3h0m.2-3.9h0m0 .7h0m.1 9.5h0m0-6.7h0m.1-1.5h0m.1 2.3h0m.1-2.4h0m.1 .5h0m0 .7h0m.1-1h0m.1-.6h0m.2 0h0m.1 5.2h0m0 .5h0m.1 2.8h0m.1-6.1h0m.1 2.3h0m.1 1.3h0m0 .4h0m.2-3.9h0m0-5.2h0m.4 2.1h0m.1 6h0m.1-1.2h0m.1-.4h0m0-3.4h0m.2-2.6h0m0 2.1h0m.1 3.1h0m.1-3h0m0-2.9h0m.1 2.5h0m.1 2.6h0m.1 1.4h0m0-5.2h0m0 4.1h0m.1-.3h0m0 2h0m0-4.1h0m.2-3.5h0m0 9.3h0m.2-1.5h0m0-9.8h0m0 8.7h0m.1-.2h0m.1-7.8h0m.1 9.1h0m.1-5.4h0m.3-1h0m.1 2.6h0m.1-3.3h0m.1 3.6h0m.3-2.6h0m.1-.2h0m.1 4.5h0m.1-1h0m.2-3h0m0 0h0m0 2.3h0m.1-4h0m0 1.3h0m.1 1.9h0m0-2.1h0m.1 2.5h0m0 .2h0m.1 3.3h0m0-5.3h0m.2-2.2h0m.1 7.9h0m.1-2.1h0m.2-1.3h0m.1-2.9h0m0-1.2h0m.1 5.9h0m.1 1.2h0m.1-3.9h0m0 0h0m.1-1.3h0m.1 1.9h0m.1 3.3h0m0-3.7h0m0-7.5h0m.1 3.2h0m.1 4h0m.1 1.9h0m0-3h0m.2-.3h0m0 6.1h0m.3-5.4h0m0-2.1h0m.3-.6h0m.2 4.3h0m0-.6h0m.1-2.8h0m0 3.6h0m.1-2.2h0m0 4.2h0m0-3.8h0m0 2.4h0m.1-4.7h0m0 1.1h0m.1-3.2h0m.1 3.4h0m.1 3.3h0m.1 1.9h0m.1-2.5h0m0-2h0m.2 2.9h0m.3-1.8h0m0 5.2h0m.2-4.7h0m.3 .8h0m.3-1h0m0-2h0m.2 1.1h0m.1-2.7h0m.1 1.5h0m0-1.8h0m0-1.3h0m.1 1.9h0m.1 2.2h0m.3-.4h0m.1 1.3h0m.4-2.3h0m.1 1.1h0m0-4.1h0m.1 2h0m.1 .9h0m.2-1.9h0m0 4.8h0m0 1h0m.2-.1h0m0-5.3h0m.4 .2h0m0 .5h0m.1 .7h0m.3 1.4h0m0-.8h0m.4 1.9h0m.1-3.8h0m.1-2.1h0m.1 4.5h0m.1-2.3h0m.8 1h0m.2-1.1h0m0-.1h0m.1-2.1h0m.1 3.1h0m.1-1.6h0m.2 5.2h0m.1-4.2h0m0-1.3h0m.1 8.9h0m.3-6.2h0m.7-1.2h0m0-1.5h0m0-1.5h0m.1 4h0m.1-3.1h0m.2-.8h0m.8 7.6h0m.3-4.6h0m0 3.6h0m0-3.7h0m.2-.2h0m.2 5.1h0m.1-5h0m.2-5h0m.9 4.4h0m.1 .2h0m.1 1.2h0m.2 1.6h0m.1-8.8h0m.8 6.5h0m.5 4.9h0m.1-8.2h0m1.2 1.3h0m.4-7.7h0m0 3.3h0m.5 6.5h0m0 .5h0m1.2-5.3h0m.4 6.1h0m.6-5h0m1.4 1.9h0m.6-1.2h0m.5 1.5h0m.2-1.8h0m2.1 2.4h0m.1 1.4h0m2-1.4h0"/>
<path d="M390.3 301.2h0m1.5 2.5h0m.8-4.6h0m.6 .2h0m.9-.5h0m.5 1.1h0m.5 4.1h0m2.6-11.7h0m2.2 8.3h0m.6-4.3h0m2.1 4h0m.3-6.1h0m.8 5.1h0m.1 1.2h0m.2-4.2h0m.9 2.4h0m.4 1.6h0m1.5-4.3h0m.1 4h0m.2 4.3h0m.1-9.8h0m.4 .1h0m.3 4.9h0m.1-2.9h0m.6-.7h0m0 1h0m.1-2.6h0m0 2.3h0m.2-2.6h0m0 2.4h0m.4 1.6h0m.1-1.7h0m.1-3.6h0m.2 .8h0m.1 5.7h0m.1-3.2h0m0-5.9h0m.1 6.2h0m.1-.7h0m.1 1h0m.2-1.1h0m.4-2.2h0m.2 6.2h0m.3-8.4h0m0 4.6h0m.4 5.5h0m0-3.9h0m.1-6.7h0m.3 3.4h0m.1 1.2h0m.4 2.2h0m.1-1.2h0m.3-2.1h0m.1 1.6h0m.3-3.9h0m0 7.6h0m.1-5.5h0m0-.9h0m0 1.1h0m.1 3.8h0m.2-8h0m.6 7.7h0m0-5.2h0m0 2.8h0m0-3.1h0m.1-4h0m.1 2.5h0m.1 4.9h0m.2 3.9h0m.1-6.8h0m0 2.4h0m.1 5.5h0m.2-8.4h0m.1-3.9h0m.3 4.4h0m0 1.6h0m.3 .7h0m0-1.5h0m0 1.5h0m0-1.1h0m.1 1.3h0m.1-1.1h0m.1-1h0m0-1.1h0m.1 1.1h0m0 6.7h0m.1-10h0m0 7.2h0m.3-3.6h0m0-3.8h0m.1-.5h0m0 5.2h0m.3 1.2h0m.1-2.3h0m.3-2.4h0m.1 4.4h0m.1-2.7h0m.1-.6h0m.2-6.3h0m0 6.4h0m0 0h0m0-2.2h0m.2 7.1h0m.1-8h0m.3 2.4h0m0 6.5h0m.2-9.8h0m0 2.4h0m.1 7.7h0m.2-7.1h0m.2 .1h0m.2-1.6h0m0 4.8h0m.3-3.3h0m.1 3.9h0m.1-2.9h0m.2 4.1h0m.1-6h0m0 .7h0m.1 2h0m0-.2h0m.2 .1h0m0-2.1h0m.1 1.4h0m0-4.8h0m.3 3.9h0m.1 .9h0m.3 6.3h0m.1-4.2h0m0-6.8h0m0 7.5h0m0-4.9h0m.1 1h0m.2-6.6h0m.3 6.7h0m.2-.8h0m.2 7.3h0m0-1.3h0m0-4.7h0m.2 3.8h0m.1-3.7h0m.1-4.1h0m0 5.1h0m.1-.9h0m0-6h0m.3 4.2h0m.1 0h0m0 1.6h0m.1 1.9h0m0-7.6h0m0 4.1h0m.1 2.8h0m.1-3.9h0m0 6.7h0m0 .6h0m.1-8.2h0m.1 4.2h0m0-.9h0m.1-.4h0m0 2.3h0m.1-1.2h0m0-.1h0m0 .4h0m0 .2h0m0-.3h0m.1-4.5h0m.3 1.6h0m0-.1h0m.4 6.2h0m0-2.2h0m.3-.3h0m.1-4.5h0m0-1.5h0m.1 1.6h0m.2 2.4h0m.2 2h0m.1-1.3h0m.2 2h0m0-6.6h0m.1 2.3h0m0 1.9h0m.2-2.9h0m.1-1.5h0m.1 2.6h0m.3 .5h0m.1 2.4h0m0-3h0m0-.3h0m.1 0h0m.2-3.2h0m0 2.9h0m0 2.3h0m.1-3.5h0m.3 4.9h0m.2-2.6h0m0 2.6h0m.1-1.3h0m.2-6.1h0m.1 4.1h0m.1 2.9h0m.4-3.1h0m0 3.1h0m0-3h0m0 0h0m.1 1.4h0m0-7.7h0m.1 3.1h0m.1-2.8h0m0 12.3h0m0-6.9h0m.1-.1h0m0 6.8h0m0-6.1h0m.1 4.9h0m.1-4.2h0m0 .4h0m.1-2.8h0m.5-2h0m.1 6h0m.2 2.4h0m0-4.2h0m.2-3.6h0m.2 2.4h0m.2 1.2h0m.2 3.2h0m0-4.1h0m.1 .4h0m.3 6h0m.1-13h0m.2 9.7h0m.1-2.9h0m.3 1.8h0m.1 0h0m0 3.4h0m.1-3.1h0m.1 1.6h0m0-1.9h0m.5 .3h0m0-8.3h0m.3 5.2h0m0-1h0m.2 4h0m.4 3.7h0m.1-2.2h0m.1-.6h0m0-3.1h0m.2 .4h0m.1-2.8h0m0 3.8h0m.2-2.2h0m.4 1.5h0m.7-2h0m.1 .9h0m0-.7h0m.1-2.2h0m.4 .4h0m.2 4.3h0m0-12.7h0m.2 17.3h0m0-2.3h0m.2-9.5h0m.1 2.1h0m.1-.6h0m.9 .3h0m.8 4.5h0m0-4.7h0m.3-2.6h0m.2 6.8h0m.6-8.5h0m.7 2.6h0m.4 .7h0m.2 5.8h0m.2-1.3h0m0-.1h0m.1-3.3h0m.1-6.5h0m0 5.5h0m.4 1.6h0m.5 3.5h0m.1-7.4h0m.7 3.1h0m.5 1.2h0m3.2-6.7h0m.6 8h0m2.8 1.1h0m8.2-4.6h0"/>
<path d="M386.3 301.4h0m10.6-1.9h0m1.1-.4h0m.2-.3h0m.1 1.2h0m0-.2h0m.4 2h0m.6-4.4h0m.4-.6h0m.3 3.4h0m.2-.1h0m.1-3.1h0m0 0h0m1.3-3.6h0m2 3.2h0m.4-.8h0m.1-.8h0m.3 6.7h0m.5-7.5h0m.7 3.1h0m.1-.9h0m.2-.8h0m.4 4h0m.2-2h0m.3-1.9h0m.7-1.3h0m0 3.7h0m.1 1.5h0m0-3.9h0m.3 .1h0m.3-1.1h0m.3 2.3h0m.4-3.5h0m.2 .4h0m0 4.2h0m.2 5.2h0m.2-8.4h0m.3 .2h0m.1-.2h0m.2-3.9h0m0-1.2h0m.1 4.2h0m0 4.7h0m.2-5.2h0m0 .3h0m0 2.2h0m.1-3.7h0m0 3.7h0m.4-.7h0m.1 6.4h0m.2-6.1h0m.1-1.7h0m.3 .5h0m0 2.6h0m0 1.1h0m.2-6.3h0m0 4.7h0m.2-2.2h0m.4-3.4h0m0 4.9h0m0 3.5h0m.1-.3h0m.1 1.1h0m.1-6.2h0m0-5.4h0m.1 9.3h0m.2-1.8h0m.1-3.1h0m.1 4.9h0m.1-1.6h0m.2-5.2h0m.1 3.3h0m.1 1.2h0m.3 2.7h0m0-6.1h0m.3 3.5h0m.1-3.7h0m0-3h0m.2 6.5h0m.2-.1h0m0-2.5h0m0 1.6h0m.1-4h0m.1 2.5h0m.2-1.1h0m.5 2.3h0m.4-3.9h0m.1 3.9h0m.1-2.1h0m.1 3.3h0m.4-2.9h0m.1-.7h0m.1 5.1h0m.1-2.9h0m0-1.1h0m0 3.5h0m.1-4.7h0m.1 3.3h0m.1-2.5h0m.4-3.4h0m0 4.9h0m0 1h0m.2-3.5h0m.1-.7h0m.2 6.4h0m.2-4h0m.1 3.4h0m.3-6.2h0m.3-2.3h0m.1 4.4h0m0-5.2h0m0 1.1h0m.1 8.1h0m.1-.3h0m0-2.6h0m0-1.4h0m.1 .6h0m0-5.1h0m0 9.9h0m.8-8.3h0m0 1.6h0m.1 4.1h0m.1-9.4h0m0 3.6h0m.5 3.5h0m.1-1.6h0m0-.4h0m0 1.5h0m.1 1.8h0m0-2.5h0m.3-.3h0m.2 5.9h0m0-3h0m.1-1.2h0m0-3.1h0m.1-.8h0m0 4.8h0m0-3.3h0m.1-3.1h0m0 8.5h0m0-3.6h0m.3 2.8h0m0-1.4h0m0 .2h0m.1-5.3h0m0 1.6h0m.1 6.2h0m.1-6.2h0m.2 3.4h0m.1 .8h0m0-5.1h0m.1 1.3h0m.1 4.1h0m0-4.6h0m0 2.8h0m.1-1.9h0m0 .8h0m.1 .4h0m.1-3.1h0m.1 5.2h0m.1-3.7h0m.1 1h0m0 3h0m0-6.5h0m.1 4.1h0m.3 .2h0m0 2.4h0m.1-10.8h0m.1 4h0m.1 6.8h0m0-6.9h0m0 3.7h0m0 0h0m.1 .7h0m0 1.3h0m0-1.9h0m0 2h0m0-3.1h0m.1-5.6h0m0 6.5h0m.1 .8h0m0 .4h0m.1-3.6h0m0-1.1h0m0 2.7h0m0-4.3h0m0 7.5h0m.3-3.5h0m0-4.2h0m.1 4.4h0m0 2.9h0m.2-1.2h0m0-1h0m.3 0h0m.3-8.4h0m0 10.7h0m.1-6.7h0m.1-1.4h0m0 5.3h0m.2-2.3h0m.1 3h0m0 .4h0m.1-.8h0m.2-5h0m0 3h0m.1 1.9h0m0-3h0m0 4.2h0m.2-3.5h0m0 6.6h0m.1-7.5h0m.1 5.6h0m.1-3.2h0m.4 3.1h0m.1-2.8h0m0 3.6h0m0-5.1h0m0 .4h0m.1-1.7h0m.4 2.1h0m.3-4.3h0m.2 2.3h0m.1 4.5h0m0-5.5h0m.3 4.4h0m.2 .6h0m.1 1.6h0m.2-6.5h0m.2-1h0m.2 5.3h0m0-1.3h0m0-2.7h0m.1-1.9h0m.1 9h0m0-1.4h0m.3 .3h0m.1-3.9h0m.1 4.2h0m.2-6.8h0m.1-.5h0m.1-1.5h0m0 .1h0m.2 .3h0m.1 2h0m.1 .6h0m0-2.1h0m.3 2.5h0m0 3.4h0m.2-3.7h0m0 1.5h0m0-1.6h0m.1 2h0m.1-4.9h0m.3 1.1h0m.2 1.4h0m0-1.2h0m.1-1.1h0m0 2.7h0m.1 1.7h0m.2-5h0m0 1.9h0m0 8.3h0m.7-8.1h0m0-.5h0m.2 3.1h0m.3 1h0m.4 .7h0m.3-10.8h0m.1 6.9h0m.3-6.2h0m.7 9.3h0m.2-.4h0m.2-1.9h0m.6 .3h0m0 .9h0m.1-3.7h0m.1 1.2h0m.4-4h0m.3-.4h0m.9 6h0m.2-1.6h0m.1-4.8h0m.1 5h0m.2-2.2h0m.3 1h0m1.1-.3h0m.1-1.5h0m.3 7.6h0m.5-7.8h0m.4-1h0m.1-2.9h0m1.2 5.1h0m1.2-3.7h0m.5 2.9h0m.2-.7h0m1.6-.4h0m4.1-5.2h0m5.4 3.1h0"/>
</g>
<ellipse rx="22.5" ry="18.0" fill="url(#g3)" stroke="none" transform="translate(584.5 126.5) rotate(-58.0)"/>
<g stroke="#2176b5" stroke-width="1.9" stroke-linecap="round" stroke-opacity="0.3" fill="none">
<path d="M563.9 142.2h0m1.9-16.2h0m.3 1.5h0m.2 .5h0m.2 11.5h0m.9 2.8h0m1.3-18.6h0m.1 7.8h0m.3 1.8h0m.4 8.9h0m.3-8.8h0m.1 1.1h0m.1-4.1h0m.1 .1h0m0 4.4h0m.3-2.2h0m.2-6.3h0m.5 5h0m.1 8.1h0m.2-14.8h0m0 2.8h0m0 4.7h0m.1-6.6h0m.2-1.6h0m0 26.1h0m0-14.1h0m0-14.6h0m0 5.9h0m.1 5.2h0m0-13.1h0m0 10.1h0m0-10.7h0m.3 30.8h0m.2-20.8h0m.1-3.3h0m0 4.1h0m0-4.5h0m.2-1.3h0m.1 8.9h0m.1-11.8h0m0 7.6h0m.4-6.1h0m.1-7.6h0m0 10.2h0m.1 9h0m0 3.1h0m.1-6.7h0m0 .5h0m.1 6.1h0m.1-5.2h0m0-6.3h0m.1 8.1h0m0-12.3h0m.1-1.7h0m.1 2.5h0m.1 10.7h0m0-2.7h0m.1 2.3h0m0-3.7h0m.3-1.3h0m.1 2.7h0m.1-10.4h0m.1 5.5h0m0-5.4h0m.1 18.3h0m.1-4.3h0m0 3.9h0m.1-7.3h0m0-15.6h0m0-1.2h0m0 11.9h0m.2-2h0m.1-10.2h0m0 24h0m.1-15.1h0m.1 15h0m.2-10.3h0m0 11h0m0-3.2h0m.2 8.4h0m0-7.8h0m.1 .2h0m.2-11.2h0m.1 1.9h0m0 .4h0m.1 7.9h0m0-35.9h0m.1 6.9h0m.1 21h0m.1-1.9h0m.1 9.2h0m0-7.8h0m0-6.4h0m.1-12.6h0m0 22.4h0m.1 3.4h0m0 4.2h0m.3-5.7h0m.1 11.2h0m0-5.9h0m.1-4.6h0m.1-13h0m0-8.4h0m0 16.4h0m.1-9.2h0m0 10.4h0m0 7.1h0m.1-4.1h0m0-6.9h0m.2 1.6h0m0-2.7h0m.3 6.5h0m.4 4.6h0m0 1.8h0m.1 2.8h0m.1-29.9h0m0 17.9h0m0 6.5h0m0-1h0m.3 2.5h0m0 4.7h0m0-19.8h0m0 12.1h0m.1 2.2h0m0 0h0m0-2.6h0m0-9.2h0m0 8.5h0m.2-5.1h0m0-13h0m0 22.9h0m.2-5.9h0m0-13.1h0m0 3.4h0m.2 18.7h0m.1-.1h0m0-3.6h0m.1 3.6h0m.1-19.3h0m0 21.3h0m.1-.2h0m0-8.7h0m.1-7.5h0m0-4.7h0m0 17.8h0m.1-15.3h0m0 4.1h0m0 14.6h0m0-15.1h0m0-17h0m.1 15.2h0m0-3.8h0m.1 19.3h0m0-6.4h0m.1-13.8h0m0 2h0m.1-3.6h0m0 19h0m.1-24.2h0m0 4.6h0m0 11.5h0m0 8.1h0m.1 7.9h0m0-.5h0m0-14.1h0m0 .9h0m.1 2.6h0m0-14.8h0m0-11.3h0m.1 18.1h0m0 2.7h0m.1-1.8h0m.1 2.6h0m0-5.8h0m.1 16.5h0m0 6.5h0m0-17.2h0m.1 4h0m0-11.8h0m0 14h0m0 1.9h0m.1-21.4h0m0 11.9h0m0 3.4h0m.1-4.7h0m0 10.7h0m0-6.2h0m0 4.7h0m0-7.5h0m0 6.9h0m.1-28.3h0m0 21.7h0m.1-15.9h0m0 7.6h0m0 9.2h0m.1 4.6h0m0-2.9h0m0 7.2h0m0-4.6h0m.1-2.5h0m0-15h0m0 .9h0m0-11.5h0m0 26.8h0m.1 14.4h0m.1-14.4h0m0-16.8h0m0 14.8h0m0-3.7h0m.1 8.3h0m0-9.6h0m.1 4h0m0 2.7h0m.1-32.5h0m0 39.5h0m0-15.7h0m.1 8.6h0m0 7.7h0m.2-20.1h0m0 14.2h0m0-7.6h0m.1-12.1h0m0 14.1h0m.1 2.1h0m0 1.4h0m0-1.9h0m.1-14.4h0m0 22.2h0m.1-7.3h0m0 1h0m0-13.4h0m0 7.7h0m.1 11.1h0m0-27.8h0m.1-1h0m0 12.2h0m.2 4.2h0m0-17.5h0m.1 10.4h0m0 17.4h0m0-14.8h0m0 8h0m.1-3h0m0-11.1h0m0 14.8h0m0 6.3h0m0-2.6h0m.1-10.1h0m0 11.2h0m.1-6h0m0 10.1h0m0-10.1h0m0 13.6h0m0-5.1h0m0-3.9h0m.1-6.8h0m0-6.5h0m0 4.5h0m0 7.1h0m0 8.6h0m.2-31.1h0m0 20.7h0m0 .5h0m0 6h0m.2 .7h0m0-19.9h0m0 3.2h0m0 11.7h0m0-5h0m.1 2.8h0m.1-8.1h0m0 13.1h0m0-17.4h0m0 14.9h0m.1-5.9h0m0-2.5h0m.1-2.1h0m.1-2h0m0 12.2h0m0-26.5h0m.1 36.5h0m.1-21.2h0m0 15.7h0m0 4h0m.1-4.7h0m0 13.9h0m0-29.2h0m.1-6.6h0m0 7.7h0m.1 9.5h0m0 8h0m0-13.9h0m0 7.9h0m0-3.5h0m.1 9.3h0m.4 4.6h0m0-24.2h0m0 3.4h0m0 29.9h0m.2-24.9h0m0-6.5h0m.1 26.9h0m0-25.1h0m0 13.6h0m.1-32.3h0m0 31.8h0m.1-7.6h0m0 7.6h0m.1 8.7h0m0-25.1h0m0-3.1h0m.1-12.9h0m0 18.8h0m0 7.9h0m.1 2.9h0m0-28.9h0m0 21.2h0m0 7.7h0m.2-5.2h0m.1-2h0m.1 9.7h0m0-18.1h0m.1 16.8h0m0-8.9h0m.1 6.4h0m.1-5.6h0m0 20.6h0m0-15.4h0m.1-2.3h0m0 .9h0m0-7.2h0m.1 10.4h0m0-2.7h0m.1 3.5h0m0-3.3h0m.2-10.4h0m0 5.9h0m0 1h0m0 13.3h0m.2-6.7h0m.1-6.3h0m0 3.7h0m.1-27h0m0 24.6h0m.1 7.2h0m0-14.6h0m.1 16.9h0m0-12.7h0m.1 11.8h0m.1-2.7h0m.1-19h0m0-4.6h0m0 19.2h0m0-6.2h0m0 7h0m.2 2.3h0m0-4.9h0m0 12.5h0m0-37.6h0m0 35.7h0m.1-23h0m.1 8.9h0m0-16.4h0m.1 26.1h0m0-24.6h0m.1 5.1h0m0 14.4h0m0-16.4h0m.1 15.3h0m0-18.8h0m.1 10.7h0m0 4.1h0m.1 2.6h0m0 5.3h0m0-2.5h0m0-1.2h0m.1 5.3h0m0-17.1h0m0 10.7h0m.1-1h0m.1 1.1h0m0 25.6h0m0-28.3h0m.1-15.3h0m0 14.4h0m0 4.9h0m.1 1.6h0m.1-3.8h0m.1 23.4h0m.1-25.5h0m0-6.3h0m0-12.9h0m.1 12.3h0m0 18h0m0-2.9h0m0-10.8h0m.2 2.8h0m0 .5h0m0 9.1h0m0-1.4h0m.1-2.5h0m0-5.4h0m0 12.2h0m.1-8h0m.2-15.6h0m0-10.4h0m.1 24.4h0m0-2.5h0m.1 6.4h0m.1-17.2h0m.2 20h0m.1-31.9h0m0 10.1h0m.1 12.6h0m0-5.9h0m0 14.6h0m.1-6.6h0m0-.7h0m0 21h0m.1-30.8h0m0 11.8h0m.1 2.9h0m.1 2.7h0m0 9.2h0m0-6.6h0m.1-3.3h0m0-10.5h0m0-2h0m.1-9.1h0m0 9.4h0m.1-3.5h0m0 3.3h0m.1 .3h0m0 13.3h0m.2-6.5h0m.1-14.5h0m.1 3h0m0 19.8h0m.2-9.6h0m0 7.4h0m0-5.2h0m.2-13.9h0m.1 7.9h0m0 .8h0m.1-10.5h0m.1 .9h0m0 19.2h0m0-3.3h0m.1-3.1h0m.3 1.4h0m0-2.3h0m0 10.6h0m.1-5.5h0m0-14.8h0m.1-3h0m.1 3.2h0m.5 3.7h0m.2 18.9h0m0-14.4h0m.1-9.8h0m.3 18.7h0m0-1.3h0m.3-23.9h0m.1 22.3h0m.1-1.1h0m0-20.5h0m.6 24.5h0m.1-11.3h0m0-.3h0m.1 13.3h0m0-3.5h0m.1-14.1h0m.1-2.7h0m.3 20.6h0m.1-18.7h0m.1 2.3h0m.2 3.9h0m0-1.4h0m.2 8h0m0-21.5h0m.4 18.9h0m.1-3.7h0m.5-.3h0m1.1 1.3h0m.1-.9h0m.8 8.8h0m.8-4.5h0m.5-13.8h0m0 3.7h0m.2 5.6h0m.2-10h0m.7-5h0m.2 14.3h0m.3-3.9h0m1.4 3.9h0m.3 2.1h0m.4 8.4h0m.1-.1h0m2-19.1h0m.3 1.1h0m1.9 11.9h0m3.5-5.7h0"/>
<path d="M559.6 137.5h0m2.2-24.5h0m.3 24.3h0m0 2.9h0m.1-19.3h0m1.4 7.7h0m.5 4.1h0m1-.8h0m.3-1.6h0m.2-18.6h0m.4 23.4h0m.2 11.7h0m1.1-1.9h0m0 5.9h0m.2-22.2h0m.1 5.7h0m.1 4.9h0m1.7-20.6h0m.1 12h0m.5-15.6h0m.1 7.2h0m.3 15.2h0m0-4.4h0m0-6.6h0m0 8.8h0m0-12.6h0m.2 28.8h0m.2-28.8h0m.1 27.3h0m0-45.4h0m.2 30.9h0m.1-26.1h0m.3 11.6h0m.4 6.9h0m.1 6.9h0m.1-16.9h0m0 .5h0m.1 14.9h0m.1-28.4h0m.4 10.8h0m0 24.6h0m.3-9.8h0m.2-2.5h0m.1 9.8h0m.5-9.9h0m0 16h0m.2-5.5h0m0-9.9h0m.1 2.6h0m0 .6h0m0-12h0m0-5.4h0m.1 15.2h0m0-9.1h0m.1 25.7h0m.1-33.2h0m.1 17.2h0m.1-6.3h0m.1 13.1h0m0-9.6h0m0 .7h0m0-5.2h0m.2 13.1h0m0-8h0m.1 16.3h0m.1-2.4h0m0 .3h0m.2-13.2h0m.1-5.3h0m.1-2.5h0m.1 1.8h0m.1 14.9h0m0-23h0m.3 12.3h0m0 19.2h0m.1-28.5h0m0 26.3h0m.1-15.9h0m.1 9h0m0-10.2h0m.1 5.8h0m0 10.3h0m.3-20.3h0m.1-4.1h0m0 13.1h0m0-1.7h0m.1-3.6h0m.1-3.3h0m0 7.9h0m0-16.8h0m.1 9.8h0m0 6h0m0 10.9h0m.1-1.2h0m0-14.8h0m.1 1.8h0m.1 12.4h0m0-8h0m0-14.6h0m.2 18.4h0m0-9.1h0m.3 4.1h0m0 6.5h0m0-22.8h0m.2 28.1h0m0-12.6h0m.2-6.5h0m0-4.8h0m0 18.8h0m.1 4.4h0m.1-11h0m0 4.6h0m0-3.1h0m.1-19.2h0m0 26h0m0 1.8h0m0-7.7h0m.3-18.6h0m0 15.5h0m0-11h0m.1-4.1h0m0 14.5h0m0-11.1h0m.1 27.1h0m0-40.2h0m.1 18h0m0 1.4h0m.1 27.1h0m0-17h0m0-13.7h0m.1 3h0m.1 14.3h0m0-5.3h0m.1-12.2h0m0-.7h0m.1 4.2h0m0 13.1h0m.1-26.1h0m0 11h0m0 14.2h0m.1-12.8h0m0 15.5h0m0-9.5h0m0-5.6h0m.1 30.9h0m0-27.6h0m0 18.8h0m0-20.7h0m0-2.3h0m0 13.2h0m.1-17.7h0m0 17.1h0m0 24.2h0m0-34.9h0m0 9.6h0m.1-14.4h0m.1 8h0m0-3.1h0m.1-10.5h0m.1 31.5h0m0-11.4h0m0-16.2h0m0-11.7h0m0 35.2h0m.1-6.4h0m0-3.3h0m0-8.5h0m0 8.2h0m0-3.3h0m.1 4.4h0m0 12.1h0m.3-25.5h0m0 19.2h0m0-1.1h0m0 13.2h0m0-19.5h0m0-6.4h0m.1-6h0m.1 11.2h0m0-2.9h0m.1 3.2h0m0-.7h0m.2-9.4h0m0 7.3h0m0 1.8h0m.1 4h0m0-10.6h0m.1 10.4h0m0 10.2h0m.3-3h0m0-21.2h0m0 21.4h0m.1-17.5h0m0 3h0m0 6h0m0-6h0m.1-11.3h0m0 4.9h0m.1 20.4h0m.1-22.4h0m0 18h0m.1-22.3h0m0 10.3h0m.2-6.6h0m0 11.5h0m0 14.4h0m.2-5.4h0m.1 9.5h0m.1-15.2h0m.1-10.5h0m.1 8.5h0m0 20h0m0-38.9h0m0 20.7h0m0 5.4h0m.1 9.3h0m0-20.4h0m0 5.7h0m0-18.3h0m.1 13.2h0m.1-13.7h0m0 6.5h0m.1 8.5h0m0-1.6h0m.1-2.2h0m.1-13.3h0m0 17.1h0m0-.9h0m0 8.3h0m.1-13.3h0m0 2.2h0m0 4.1h0m0 1.6h0m.1 5.4h0m.1-9h0m0-.1h0m0 2.4h0m.1-4.2h0m0-7.4h0m0-3.3h0m0 21.7h0m.2 3.5h0m.1 6.5h0m0-20.7h0m0 7h0m.1-2.7h0m0-9.4h0m.1 5.1h0m.1 17.7h0m0-14.6h0m0-3.2h0m.1-7.6h0m0 2h0m.1 1.3h0m0-13.1h0m0 28h0m.1-18.2h0m0 1h0m.1 8.7h0m.1-13.4h0m.1 14.9h0m0 9.9h0m.1-33.5h0m0 37.1h0m.1-13.5h0m0-3.4h0m0 5.5h0m.1-7.4h0m0 4h0m0 5.5h0m.1-11h0m0 15.2h0m0-4.2h0m.1-6.3h0m0-.7h0m0-5.6h0m.1 5.4h0m.1 13.5h0m.1-23.1h0m0-9.6h0m0 13.3h0m0 4.3h0m0 4h0m.1 11.1h0m0-23h0m0 11.5h0m.1-3.2h0m0-3h0m.1 11.9h0m0-3.7h0m0-15.8h0m.1 21.7h0m0 5.8h0m0-11.8h0m.1-8.9h0m0 9.5h0m.1-8h0m.1-1.2h0m.1 2.9h0m0-5.8h0m0 7.7h0m.1 14.3h0m0-31.3h0m0 22.9h0m.1 1.7h0m.2-1.8h0m.1 4.9h0m0-23.3h0m0 9.7h0m.1 4.1h0m0-15.2h0m.2 12.3h0m0 13.3h0m.1-9.4h0m0 .4h0m0 0h0m.1-15.7h0m0 17.6h0m.1-9.4h0m.1 18.1h0m0-24.4h0m0 9.6h0m.1 14.9h0m0-34.9h0m0 18.9h0m.1 1.8h0m0 12.4h0m0-14.7h0m0 12.2h0m.1-18.2h0m0 10.3h0m0-.8h0m.1-6.7h0m0 10.8h0m.1-5.7h0m.3 1.6h0m0-14.4h0m0 5h0m0 14.5h0m.1 1.9h0m0-7.1h0m.2-16.9h0m0 21.1h0m0 2.6h0m.2-2.6h0m0 5.5h0m0-16.4h0m.1 13.1h0m0 4.3h0m.1 2.1h0m.2 5.3h0m0-18.6h0m.1-.4h0m0-3.5h0m0 3.3h0m.1 .9h0m0 1h0m.1 2.1h0m0-13.4h0m.1 15.5h0m.1 .8h0m0-11.6h0m0-.2h0m0-.8h0m0 .8h0m0 12.4h0m.1 12.9h0m0-20h0m0 7.9h0m.1 8.3h0m0-20h0m0 4.3h0m0 .2h0m.1 10.5h0m0 11.3h0m.1-32.6h0m.2-5.2h0m0 11.4h0m0-1.3h0m0-3.1h0m0 .1h0m.2 5.7h0m0 2.9h0m.1 1.5h0m0 4.7h0m0 11h0m0-23h0m.1-1.2h0m0 13.5h0m0 4.6h0m.1 .2h0m0-39.9h0m0 21.8h0m.1-4.7h0m0 17h0m0-6.5h0m.1 5.6h0m.1-13.8h0m0-4.6h0m.1 14.8h0m.3-3.3h0m0-11.9h0m.1 7.5h0m.1-9.8h0m.2 9.1h0m.1 18.2h0m.3-11.1h0m0-4.9h0m0 21.1h0m.1-14.7h0m.1 4.9h0m.1-17.8h0m0 6h0m.1-14h0m0 38.4h0m.1 0h0m0-22.6h0m0 8.4h0m0 14.6h0m.1-28.4h0m.1 4.6h0m0 9.3h0m.1-2.3h0m.3-19.7h0m0 21.5h0m0 10.8h0m0-16.3h0m.1 1.9h0m0-1.1h0m.1 9.3h0m0-2.2h0m.2-31.6h0m0 37.6h0m0-4.3h0m.1-3.8h0m.1-1.6h0m.2-7h0m0 6.7h0m.1-3.4h0m0 8.2h0m0-12.9h0m.1 8.5h0m0 13.4h0m.1-24.7h0m.1 2.5h0m.3-4.9h0m0 3.9h0m.1 14.3h0m0-16.8h0m0 8.4h0m.2-14.1h0m.1 36.8h0m0-32.9h0m.2 10.8h0m0 12.2h0m.1-20.5h0m.1 23.1h0m0-16.4h0m.3 10.8h0m.1-5.4h0m0 1.8h0m.1-22.3h0m.3 18.9h0m.2-1h0m.1-.1h0m.1-1.4h0m0 3.1h0m.9 1.9h0m.2-9.2h0m.2 10.2h0m.2-22.8h0m.1 13.4h0m.1 9.9h0m0-9h0m0 13h0m.3-23.8h0m.1 10h0m.2 3.1h0m.4 26.3h0m0-38.4h0m1 2h0m.1 1.1h0m.1 11.5h0m0-14.6h0m.2 4h0m.1 5.4h0m.3 .4h0m.4 1.2h0m0-5.2h0m.4 19.5h0m.8-14.6h0m.6-1.7h0m.3-11.6h0m1.1 7.8h0m.9 12.9h0m.7-18h0m.5 3.6h0m.7-9h0m1.6 10.7h0m3.6-5.6h0"/>
<path d="M553.4 129.8h0m3.7-9.9h0m.3 25.4h0m1.8-15.7h0m2.2 23.6h0m.8-30.3h0m.7-12.1h0m1.4 28.3h0m.6-10.3h0m.3-12.4h0m1.1 26.1h0m.2-11.6h0m.6-14.8h0m.1 25.9h0m0-17.2h0m0 7.6h0m.2 4.8h0m.6 1.7h0m.2-4.9h0m.1-16.4h0m.8 6.1h0m.5 12.6h0m0 .7h0m.5 1.3h0m.4-12.3h0m.1-4.3h0m0 10.9h0m.3 19.3h0m.4-17.3h0m.1-12.1h0m.2 2h0m.2 5h0m.1 23.1h0m.1-20.9h0m.1 2.4h0m0-.6h0m.3 .4h0m.2 16.1h0m.1-17.3h0m.1-4h0m.1-4.7h0m.3 2.2h0m.2-6.6h0m0 5.5h0m0 17.3h0m.2-.6h0m.1-19.6h0m.1 27.2h0m.4-44.1h0m.2 19h0m.1 10.7h0m.2-9.4h0m.1-3.3h0m0 11.4h0m0-1.6h0m.1-9.8h0m0-11.2h0m.1 27.7h0m.2-4.6h0m0-7.7h0m0 6.8h0m0-19.8h0m.2 20h0m.1-.6h0m0-7.5h0m.1 2.3h0m0-.2h0m0-11.7h0m.1 11.8h0m0-17.2h0m.1 17h0m0 4.3h0m.1-7.5h0m0 6.4h0m.1 3.9h0m0 2.5h0m.1-20.4h0m0 11.5h0m.1-5.8h0m0-3.4h0m0-3h0m.1 10h0m0 2h0m.1-7h0m.1-9.3h0m0 18.3h0m.1 9.5h0m0-11.6h0m.1 3.9h0m0-19.8h0m.1-2.3h0m0 14.7h0m0-8.4h0m.1 14.4h0m0 4.8h0m.4-13.5h0m0-9.4h0m0 27.3h0m0 9.1h0m0-28.5h0m.1 5h0m0-16.7h0m0 35.6h0m.1-6.7h0m.1-14h0m0 15.3h0m.1-10.4h0m0-.4h0m0 8.8h0m.2-14.1h0m0-.2h0m0 11.7h0m.1-3.9h0m0-4.4h0m.1 8.8h0m0-15.4h0m.3 7.3h0m0-10.9h0m.1 10.9h0m0 14.3h0m.1-18.1h0m0 19.7h0m.1-17.7h0m0 12h0m.1-9.8h0m.1 3.6h0m0-9.3h0m0 21.8h0m0-17.7h0m.1 9.9h0m.1-5.5h0m.1-11.2h0m.1-8.6h0m0 34.3h0m.1-19.6h0m0 18.5h0m.1-17.5h0m0 4.6h0m0 13.5h0m0-10.4h0m.1-.9h0m.1-11.4h0m.1 4.5h0m0-1.2h0m.1 .6h0m.1 19.9h0m0-18.1h0m0-12.7h0m0 5.9h0m0 6.7h0m0 13.8h0m.1-5.6h0m0 8.7h0m0-11h0m.2 .3h0m.1-7.7h0m.2 1.2h0m.3-6.3h0m0 19.2h0m.1-21.6h0m.1-.6h0m0 9.4h0m0 .4h0m.1 16.4h0m0-14.8h0m.1-10.1h0m0 1.8h0m0 4.4h0m.1-10.4h0m0 13.9h0m.1-14.9h0m.1 24.5h0m.1-5.7h0m0-15.9h0m0 9.6h0m.1 12.6h0m.1 6.7h0m.1-5.1h0m.1-3.1h0m0-5h0m0 22.7h0m0-29.2h0m.1-2.6h0m.1-16h0m0 13.1h0m0 9.1h0m.1 18.4h0m0-25.9h0m.1-4.6h0m0 19.6h0m0-13h0m0-11.5h0m.1-2.7h0m.1 21.5h0m0-4h0m0-16.5h0m0 24.5h0m.1-22.9h0m0 13.7h0m.1 18h0m0-10.1h0m.1-2.6h0m0 8h0m0-19h0m.1 7.5h0m.1-5h0m0 5h0m.2 15.7h0m0-29h0m.1 4.1h0m0 1.9h0m0 14.7h0m0 1.1h0m.1-20.6h0m0 11.6h0m0 3.8h0m.1 13h0m0-23.6h0m0 5.1h0m0 1h0m.1 1.7h0m0-10.6h0m0 9.1h0m.1 1.1h0m.1 4.4h0m0 6.6h0m.1-17.8h0m0 19.4h0m.1-19.3h0m0-1.2h0m0 20h0m0-16.5h0m.1-18.3h0m0 11.7h0m0 5.6h0m0 13.5h0m.1 16.6h0m0-16.5h0m.1 4.9h0m0-14.4h0m.1 6.1h0m0 11.6h0m.1-26.1h0m0-.2h0m0 29.5h0m0-11.9h0m.1-4.5h0m.1 7.3h0m0-4.3h0m.2-16.8h0m0 12.9h0m.1-10h0m.1 11.9h0m0-8.1h0m.2 12.4h0m0-16.9h0m0-12.7h0m0 28.7h0m.1-11.4h0m0 6.8h0m0-20.8h0m.1 24.1h0m0-3.4h0m.1 5.7h0m0 1h0m0-8.9h0m0 1.8h0m.2 12.1h0m0 10.8h0m0-16.3h0m0-14h0m0 14.1h0m.3 6.1h0m0-9.4h0m.3-19.1h0m0 8.2h0m.2 7h0m.1-9.5h0m.1 18h0m.1-16.7h0m0 9.7h0m0-2.1h0m0-11.9h0m.1 15.3h0m.1-2.6h0m0-23.2h0m.1 17.9h0m.1 8.9h0m.1-11h0m0 15.1h0m0-22.2h0m.2 17.3h0m0 3.6h0m.1 5.1h0m0 8.1h0m.1-33.2h0m0 3.4h0m.1 6h0m.1-5h0m0-4.4h0m0 26.2h0m.1-46h0m.2 22.5h0m0 5.5h0m0-2.1h0m0-.7h0m.1 5.6h0m0 13h0m.1-12.5h0m.2 9.8h0m.1-5.9h0m0-1.4h0m.1 2.6h0m0-22.5h0m0 4.4h0m.1-3.5h0m0 16.8h0m.1 3.2h0m0 9.1h0m0-6.6h0m.1 4.5h0m0-15.4h0m.1 8.1h0m.1-16.6h0m.1 9h0m0-11.1h0m.1 2.7h0m.1 6.4h0m.1 9.4h0m0 17h0m0-35.9h0m0 21.9h0m.1-14.3h0m0 4h0m.1 6.5h0m0-11.3h0m.1 8.6h0m0 3.9h0m0-15.9h0m0 26.5h0m.1-15.7h0m.3-16.6h0m0 33.9h0m.1-7.3h0m.2-1.6h0m0-7.7h0m.1-10.8h0m.1 8.9h0m0 6.8h0m0-18.4h0m.2 8h0m0 1.7h0m.1 8.6h0m0-13.1h0m.1-12.8h0m0 29h0m.1-21.8h0m.1 14.4h0m.2-12.3h0m0 20.5h0m.1-3.8h0m0-4.3h0m.1-1h0m0-4.5h0m.1-12.6h0m.1 10.5h0m.1 19.2h0m.1-15.6h0m0 7.6h0m.2-1.6h0m0-4.5h0m.2 2.7h0m.1 1.6h0m.1 6.7h0m0-15.6h0m0-11.6h0m.1 22.9h0m0-10.1h0m.1 4.4h0m0-4.4h0m.1-2.1h0m.2 6.7h0m0 9.8h0m.2-20.9h0m.3 3.4h0m.1 3.4h0m.1-6.9h0m0 8.6h0m.1-.3h0m.1-9.1h0m0 19.4h0m0 2.2h0m.1-9.4h0m.1 3.7h0m.2-6.7h0m0 13.8h0m.2-12.5h0m0 12h0m.6 1.2h0m0-24.1h0m0-1.4h0m0-5h0m0 19.2h0m0-10.9h0m0 17.8h0m.1-10.7h0m.1-1.5h0m.1 3.4h0m.2-12.1h0m0 10.6h0m.1-2.9h0m0 8.3h0m0-4.8h0m0-9.4h0m.1 19.4h0m.4-24.7h0m.3 17h0m.1 16.9h0m.2-15.6h0m.2-32.9h0m.1 34.1h0m.4-6.4h0m0 5.5h0m.1-.7h0m.2-4.6h0m.1 13.8h0m.4-14.1h0m.3-3h0m.2 8.6h0m.5 7.9h0m.2-7.4h0m0-27h0m.1 6.1h0m.2 10h0m.1 5.8h0m0-1.3h0m.3 .9h0m.6-2.5h0m.4 11.5h0m.1-9.7h0m1.1 .3h0m.1-7.4h0m.7-14.8h0"/>
<path d="M554.7 142.3h0m1.8-3.2h0m1.3-8.7h0m1.9-3.7h0m1.5 15.8h0m1.4-20.6h0m.7 20.9h0m2 .5h0m.8-.7h0m.7 8.9h0m0-10.8h0m.5-21.8h0m.2 12.2h0m0-9.2h0m.1-15.2h0m.2 21.5h0m.3 13.1h0m.8-16.5h0m.1-6.9h0m0 21.6h0m.1-13.6h0m.3 3.7h0m.3 .5h0m.1-4.8h0m.2 10.7h0m.3-1.1h0m.2-12.2h0m0 8.5h0m.1 9h0m0-13.5h0m.2 5.9h0m.5-2.9h0m.1-1.2h0m.2-8.1h0m0 6.6h0m.1 14.3h0m0-17.5h0m.1 30h0m.2-33.5h0m.1 18.2h0m.1-13.1h0m.2 15.9h0m0-15.6h0m0-4.4h0m.1 17.9h0m.4-12.6h0m.1 10.8h0m0-13.6h0m.1 7.5h0m.1 6.2h0m.2-4.3h0m.1-7.2h0m.1 6.7h0m.1-14.8h0m.1 .7h0m.1 15.3h0m.1-6.4h0m0-9.8h0m.2 9.8h0m0 13.5h0m0-14h0m0 2.1h0m.1 6.6h0m0-6.9h0m0-7.4h0m.1-.6h0m.1 13.6h0m0-3.2h0m.1-17.5h0m0 10.2h0m.2 2.4h0m.1-4.3h0m.1 3.1h0m0 5.4h0m.1 7.4h0m0-17h0m.1 17.8h0m0-12.4h0m0 22.7h0m.2-24.3h0m0 21.9h0m.1-16.8h0m0-3.7h0m0 5.8h0m0 5.5h0m.1-15.2h0m0 10.5h0m.1 7.2h0m.2-13.2h0m0-6.7h0m0-7h0m.1 15.8h0m0-19.5h0m0 41.2h0m.1 3.7h0m0-33.5h0m0 19.8h0m.1-8.7h0m0-19.4h0m.1 18h0m0-20.6h0m0 31.5h0m0-26.4h0m0 27.8h0m.2-31.3h0m.2 7.8h0m0 3.1h0m0 17.4h0m0-12.8h0m.2-8.8h0m0 18.9h0m0-7.8h0m.2-5.6h0m.1 5.5h0m.1 5.4h0m.1-3.4h0m0-11.8h0m.1 9.4h0m0-3.4h0m0 .1h0m0 9.7h0m.1-.7h0m0-1.2h0m.1-20.1h0m.1 18.9h0m.2-25.2h0m.1 23.1h0m.2-3.1h0m.1-3.1h0m.1 21.1h0m0-10.7h0m.1 8.7h0m0-15.9h0m0 5.7h0m.1-2.7h0m0 23.8h0m.2-7.8h0m0-19.6h0m0 .3h0m.2 5.6h0m0-13.6h0m.3 34.6h0m0-22.7h0m.1-19.8h0m.1-1.4h0m0 23.6h0m.1-2.8h0m.1-10.8h0m.1 27.3h0m.1-2.1h0m0-12.5h0m.1-17.7h0m0 29.7h0m.2 4h0m.1-29.9h0m.1 .4h0m0 19.7h0m0-3.4h0m.2-9.5h0m.1-14.8h0m0 39h0m.1-20.7h0m.1-9.2h0m0 3.4h0m.1 1.5h0m0 2.6h0m0 2.2h0m0-29.1h0m.1 7.4h0m.1 23.8h0m0-7.5h0m0 6.3h0m.1-8.5h0m0 3h0m.1 16h0m0 12.7h0m0-19.9h0m0-3.9h0m.1 1.3h0m.1-3.5h0m0 18.2h0m.1-12.9h0m0-22h0m.1 11.7h0m0-.6h0m.1 2.3h0m0 7.4h0m0-7.1h0m.1 1.3h0m0 11.1h0m0-10.6h0m0 4.4h0m.1-13.8h0m0 24.5h0m.1-10.1h0m0-4.2h0m.1-20.2h0m.2 15.4h0m0-7.4h0m.1 5.5h0m0 1.8h0m0-18.5h0m.1 19h0m.1-10.3h0m0 7.3h0m.2 1.2h0m0 5h0m0 2.9h0m0-2.1h0m0-13.1h0m.1 47.9h0m0-25.6h0m0-15.2h0m0 8.5h0m.1-2h0m.1-20h0m.1 11.4h0m0-2.6h0m.1 11.2h0m.1-10.7h0m.1 3.7h0m.1 15.4h0m0 2.6h0m0-10.4h0m.1 7h0m.1-6.4h0m0-1h0m0-12.2h0m.1 8.4h0m.1-9.2h0m0 2h0m0 2.6h0m0 12.7h0m.1-10.7h0m.1 6.5h0m0 3.4h0m.1 2.9h0m.1 2.6h0m0-15.8h0m.1 9.7h0m0-14.3h0m0 8.1h0m.1 4.7h0m.1-6.5h0m.1 5.4h0m0 0h0m.1-2.4h0m0-1.4h0m.1 16h0m.1-7.4h0m.2-4.9h0m.1-.8h0m.1 4.2h0m0 4h0m0-1.5h0m.1 10h0m0-24.1h0m.1 9h0m0-20h0m0 3.6h0m.1 20.6h0m.1-15.4h0m0-.6h0m0 1.7h0m.1 10.7h0m0-5.2h0m.1 3.4h0m0 12h0m.1-30.7h0m0 14.4h0m0-7.1h0m.1 .2h0m0-8.9h0m.1 21.8h0m0-22.9h0m0 23h0m0 2.7h0m.1-12.9h0m0 7.7h0m0 1.8h0m0 5.5h0m.1-4.6h0m0-10.8h0m0 4.6h0m0 3.2h0m.1-5.2h0m0-7.4h0m.2 10.9h0m.1-8.7h0m0 19.4h0m0-10.7h0m.1-12.8h0m.1 26.4h0m.1-12.2h0m.1-5.7h0m0 9.4h0m0-13.2h0m0 5.5h0m.1 6.9h0m0-4.3h0m0 5.8h0m.2 4.9h0m.2-14.2h0m0-21.4h0m0 21h0m.1-19.9h0m0 16.2h0m0 20.2h0m0 .1h0m.1-9.5h0m0-6.9h0m0-.1h0m.1-3.6h0m.1 19.8h0m0-29.1h0m.1 6.3h0m.1 27.6h0m0-22h0m.1-2.6h0m.1-5.3h0m.1 13.8h0m0 12.4h0m.2-1.7h0m.1-15.9h0m0 1.2h0m.1-3.8h0m0-9.8h0m.1 13.4h0m0 11.2h0m.1-5.7h0m0-16.8h0m0 23.1h0m.1-15.8h0m.1 .3h0m0 8.9h0m0-16h0m.1 32h0m0-20.6h0m.1 8.5h0m0-15.5h0m0 9.5h0m.1-5.3h0m.1 3.5h0m.1-4.4h0m.1 3.9h0m.1 6.7h0m.1 0h0m.2-3.4h0m0 9.5h0m.1-9.4h0m0-.5h0m0-3.9h0m.1-3.3h0m0 .8h0m0-9.9h0m0-.6h0m.1 2.9h0m.1 13.3h0m.1 9.9h0m.1 1.6h0m0-23.8h0m0 8.9h0m0-2.9h0m.1 5.9h0m0-8.8h0m.1-2h0m0 10h0m.1 8.3h0m0 .4h0m0 .7h0m.1-7.8h0m.1 12h0m0 .1h0m0-19.5h0m.1-16.9h0m0 52.8h0m0-38h0m.1-3.3h0m0 19.8h0m.1-3.3h0m.2 3.9h0m.1-.8h0m0-11.1h0m.1 9.7h0m0-16.1h0m0 10.8h0m.1-11.4h0m.2 23.9h0m0-15.2h0m.1-5.4h0m.1 .5h0m0 14.9h0m.1-21.8h0m.1 33.1h0m0-7.3h0m.2 9h0m0-8.1h0m.1-4.7h0m0-13.2h0m0 12.3h0m.1-15.1h0m.1 19.8h0m.1-15h0m0-10.8h0m.3 31h0m.1-16.7h0m.3 5.7h0m.1 5h0m.1-3.8h0m0-18.6h0m0 1.8h0m0 17.7h0m.1-31.5h0m0 25h0m.3-5.6h0m0-11.4h0m.2 .7h0m.1 5.8h0m0 18.4h0m.1-12.3h0m0 19.1h0m.1-7.6h0m0-9.3h0m.2 17.8h0m0-30.3h0m.1 7.8h0m.1 .5h0m.1 1h0m.5 10.1h0m0-23.7h0m.2 11.1h0m0 11.7h0m.1-19.2h0m.5 28.7h0m0-39.6h0m.3 16.4h0m0 13.2h0m0 9.1h0m.2-16.6h0m.1-2.9h0m0 14.8h0m0-1.3h0m.5 14.4h0m.1-10.7h0m0-16.6h0m0-1.8h0m.1-6.6h0m0 22.7h0m.5-14.9h0m1.9 14.9h0m.4-1.1h0m.1 6.7h0m.1-4h0m.3-34.5h0m.4 25.9h0m.4 2.7h0m1-21.6h0m.3-11.7h0m.5 6.3h0m2.5 8h0m7.9-1.3h0"/>
<path d="M555.4 144.1h0m2.6-8h0m6.6-3.9h0m0-2.1h0m.2 7.4h0m1.1-16.3h0m0 11.4h0m0-1h0m.2-7.6h0m.2 3.5h0m.4-3.4h0m.8 13.9h0m0-6.7h0m.2-17.1h0m0 2.6h0m.1 16.3h0m0 3.6h0m.2-1.9h0m.1-4.5h0m.1 1.7h0m.3 10.4h0m.7-9.8h0m.3 18.5h0m.2-1h0m.1-24.9h0m.3-5.8h0m.3 10.6h0m.2-.1h0m0-3.7h0m.3 10.5h0m0 .9h0m.3 .5h0m.4 16.4h0m0-21.2h0m0 2.3h0m.1 12.7h0m.4-9.3h0m.3 .5h0m0-8.6h0m.1-1h0m0-12.9h0m.2 10.1h0m.1 4.3h0m.4-2.8h0m.1 5.1h0m0-9.3h0m.2-4.4h0m.2 2.8h0m0 2.2h0m0-4.3h0m.1 7.7h0m0-1h0m.1-2.2h0m.1 .6h0m.1 12.2h0m0-12.5h0m.2 7.9h0m0 8.8h0m.1-25.2h0m0 21.7h0m0-1.7h0m0-2.2h0m.4-9h0m0-1.6h0m0 6.3h0m.1-1.1h0m.1-19.1h0m0 28.9h0m.1-15.8h0m.1 6.7h0m.1 1.9h0m.1-2.3h0m0-17.2h0m.1 15h0m.1 5.6h0m0-2.4h0m.2 17.3h0m0-5.9h0m.1-23.1h0m.1 21.5h0m0-18.1h0m.1 7.2h0m0 12.7h0m0 7.1h0m0-3.8h0m.1-15.1h0m0-6.1h0m0 18.6h0m.1 10.7h0m.2-11.9h0m0-8.2h0m0 11.8h0m.2-12.7h0m0 7.6h0m0-3.1h0m0 4.5h0m.1-18.5h0m.1-3h0m.1-.9h0m.2 31.2h0m0-42.5h0m0 16.6h0m.1-8.3h0m.1 20.8h0m.3-6.1h0m0 .7h0m0 3.4h0m.2-9.7h0m0 9.9h0m0-15.2h0m.1 25.6h0m0-16.9h0m0-10.6h0m.1-3.1h0m.1 5.9h0m0 15.6h0m.1-8.3h0m0 .4h0m0 6.3h0m0-2.9h0m.1-11.1h0m0 7.4h0m.1 1h0m.3-10.6h0m0 13.4h0m.1-1.5h0m.1-5.3h0m0 3.7h0m0-15.4h0m0 15.6h0m0 .7h0m0 6.2h0m.1-28h0m.1 40h0m0-6.4h0m0-22h0m.1 4h0m0 8h0m.1 16.7h0m0-15.4h0m.1-.8h0m0-18.9h0m0 2.1h0m.1-1.6h0m.1 14.2h0m0 9.1h0m.1-16.2h0m.1 5.7h0m0 11.1h0m0-9.2h0m0-3.5h0m0 15.1h0m.1-4.9h0m.1-19.3h0m0 10h0m.3-7.5h0m0-8.2h0m.1 28.4h0m.1-8.3h0m0-1.2h0m.1-20.3h0m0 7.7h0m.1 22.3h0m0-11.1h0m.1 6.1h0m.3-9.9h0m.1-5.4h0m.1-10.9h0m.1 24.5h0m0-6h0m0 .8h0m.1 16.3h0m0-15.5h0m0-.5h0m0-4.7h0m.1 6.7h0m0-5.3h0m0 4.2h0m.1 13h0m0-20.5h0m0 4.9h0m0 7.1h0m.1-38.6h0m.2 35.3h0m.1 6.8h0m.1-21h0m.1 38.4h0m0-22.1h0m.1-6h0m0-5.8h0m0 1.5h0m.1-8h0m.1 20.6h0m0-22.1h0m0 22.9h0m.1-21.4h0m0 15.8h0m.2-16.8h0m0 21.7h0m0 4.8h0m.1-23.2h0m0 13.2h0m.1-4.4h0m0 5h0m0-3.5h0m.1 9.4h0m0-14.7h0m.1 20h0m.1-26.4h0m.2 1h0m0 17.2h0m.1 2.7h0m0-17h0m0 11.1h0m.1-13.4h0m0 22.1h0m.1 18.7h0m.1-33.2h0m.1 1.7h0m0-1.7h0m0 18h0m0-26.3h0m0 20.3h0m.1 1h0m0-3.6h0m0-1.4h0m.1-15.9h0m.2 17.5h0m0 .3h0m.2-5.7h0m.1-16.2h0m0 18h0m.1-4.3h0m.1-3h0m0 .9h0m0 0h0m0 0h0m.1 10.7h0m0-11.4h0m.1-10.9h0m.2 12.1h0m.1 4.9h0m0-1.1h0m0-7.8h0m.1 9.7h0m0-11.4h0m.1 26.9h0m0-30.4h0m.1 2.7h0m0 22.2h0m.1-18.7h0m0 9.8h0m0-2.7h0m0 4.3h0m.1 1h0m0-5.4h0m0 8.9h0m.1-13.5h0m0 .4h0m0-6.7h0m.1 8.2h0m0 4.7h0m0-.9h0m0 4.9h0m0 6.5h0m.1-30.7h0m.1 28.5h0m0-17.7h0m.1 6.2h0m.1 1.6h0m0 2.1h0m.1 3.4h0m0-6h0m0-.8h0m0 13.1h0m.1-20.9h0m0 9.6h0m0 20.9h0m.1-32.6h0m0 12.8h0m.1-8.1h0m0 25.5h0m0-10.1h0m.1-5.4h0m.2-11.1h0m.1-5.2h0m0 11.7h0m.1-6h0m.1-.3h0m0 .8h0m0 2.1h0m.1-11.8h0m0 25.1h0m0-9.2h0m.1 .6h0m0-15.3h0m0 24.3h0m0 2.7h0m.2-5.6h0m0-7.4h0m0 9.4h0m.1 18.6h0m.1-33.5h0m0 2.9h0m.1-4.7h0m.1 6.9h0m.1-1.3h0m.1 1.7h0m0 .1h0m0 2.7h0m0-13.2h0m0 4.6h0m0 4.3h0m0-2.4h0m.1-1h0m.1 9.2h0m.1-5.4h0m0 16.5h0m.1-24.5h0m.1 8.5h0m.1 .1h0m0-2.6h0m0 1.9h0m.1-3.1h0m.1 1.9h0m0 6.2h0m.1-14.1h0m0-10.2h0m0 22h0m.1-5.8h0m0-3.2h0m.1 9.2h0m0-4.9h0m.1 21.5h0m0-35.6h0m.3 .5h0m0 3.7h0m0 7.9h0m0-10.5h0m.1 12.5h0m0-3.4h0m0 5.3h0m.1-8.5h0m.1 2h0m.1 3.2h0m.3 13.5h0m0-4.2h0m0-11.4h0m.1-12.8h0m.3 10.9h0m.3 5h0m0-12.6h0m0 7.5h0m0 .9h0m.1 15.6h0m0 1.2h0m.3-13.8h0m0 17.3h0m0 4.6h0m.1-23.4h0m0 14.7h0m0-.4h0m0-8.3h0m.1 7.9h0m.1-11.1h0m0-1.8h0m.1-2.9h0m0 11.5h0m.1-7.9h0m0 1.4h0m0-22.4h0m0 9.6h0m.5 12h0m0-2.6h0m.1-12.1h0m.1 15.2h0m0-.4h0m.1-10.9h0m.1 12.5h0m0-9.2h0m0 18.1h0m.1-6.8h0m.2-5.1h0m.2 9.1h0m.2-21.3h0m.1-3.1h0m.1 27.5h0m0-10.3h0m.1-4h0m0 .5h0m.2 7.7h0m.1-11.4h0m.2 4h0m0 10.1h0m0-5h0m.1 2.9h0m0 7.7h0m.1-17.7h0m.2-4.8h0m0-2.8h0m0 10.6h0m.1-4.2h0m.1 16.2h0m0-14.6h0m0 14.9h0m.1-17.4h0m.1-3h0m0 6.2h0m.2 5.1h0m.2-13.8h0m0 21.3h0m.1-15.5h0m0 7.1h0m.1-5.6h0m.1-2.7h0m0 23.8h0m0-19.5h0m.1 8.2h0m0-.9h0m.1 .2h0m.3-3.4h0m.3 5.7h0m.1-12.2h0m.3-10.1h0m.3 14.1h0m.7 13.3h0m.6 1.6h0m.1-15h0m.8 21.4h0m.2-15.5h0m.4 2.2h0m0 10.3h0m.3-18.5h0m.4-1.3h0m.5-5.8h0m0 12.1h0m.6-16.7h0m.4 21.4h0m.5-7.4h0m.1-16.5h0m.5-4.6h0m0 32.6h0m1-.5h0m.5-5.8h0m4.8 2.7h0m3.1-14.3h0"/>
<path d="M562.7 120.2h0m.2 15.8h0m1.5-7h0m0 25.2h0m.8-33h0m.2 7h0m.3 10.3h0m.9-27h0m.3 29.9h0m.1-9.4h0m.1 6h0m.2-6.1h0m.2-3.8h0m.4-2.9h0m0 14.1h0m0-15.3h0m.2-7.4h0m.3 19.5h0m.1-5.4h0m.1 7.6h0m0 13.5h0m0-26.5h0m.1 9.4h0m.1-.8h0m.1-5h0m0 3.3h0m0 5.1h0m.1-17.3h0m.3 12.4h0m.1 8.4h0m.1-26.3h0m.1 8.4h0m.1 19.6h0m.4-22.1h0m.3 7.1h0m0-5.4h0m.1 12.4h0m.1-.7h0m0 .9h0m.1 6.8h0m0-6.2h0m.1-13.4h0m0-3.5h0m.2-3.4h0m.2 5.1h0m0 15.7h0m.1-16.8h0m0 28.2h0m.1-15.5h0m0-.8h0m0 6.2h0m.1-11.7h0m0 3.7h0m.2 .6h0m0 1.7h0m.2 2.1h0m.2-5.2h0m.1 11.4h0m.1-9.4h0m.1-7.2h0m.2 5.7h0m.2-1.2h0m.3 .5h0m0-2.2h0m.1 3.2h0m0 14.4h0m0-18.6h0m.1 10.8h0m.3-18.4h0m.2 10.7h0m.2 9.7h0m.3-11.1h0m0-9.4h0m.1 .8h0m.1 12.1h0m0 1.3h0m0-5.4h0m.3-10.6h0m.1 4.3h0m0 34.8h0m0-19h0m.3-12.1h0m.1 8.9h0m.1 1.3h0m0-5.9h0m0-7.6h0m0 16.5h0m.1-6.4h0m0-8.4h0m0 4.9h0m.3 3.4h0m.1 .4h0m.2 9.8h0m.3-12.6h0m0-10.7h0m.2 7h0m0 1.3h0m.1-7h0m0 16.5h0m0-6h0m.1-5.2h0m.1 10.2h0m.1-9.5h0m.1 15.6h0m.1-6.4h0m0-24.6h0m0 25.8h0m.3-13.8h0m0 4h0m.1 8.4h0m.1-2.9h0m.1 14.4h0m.1-31.4h0m0 23.5h0m0-13.7h0m.1 14.6h0m0 2h0m.1-7.8h0m.1-4.6h0m0-5h0m0 9.4h0m0-2.8h0m.1 4.4h0m.1 10.2h0m.1-17.7h0m.1-2.6h0m0 11.8h0m0-5.8h0m.1-11h0m.1 14.6h0m.1 .7h0m0-29.5h0m.1-1.3h0m.1 46.1h0m.1-33.7h0m0 19.6h0m0 11.5h0m.1-17.9h0m.1-4.4h0m.1 3.1h0m.1-2.3h0m0-2.2h0m.2-3.2h0m0-8.1h0m.1 16.1h0m0-13.6h0m.1 10.5h0m.2 1.5h0m0-5.7h0m0 7.2h0m.1-9.7h0m.1-2h0m.1 4.3h0m.1 1.3h0m.1 6h0m0-12.5h0m0 33.7h0m.1-12.3h0m0-13.5h0m.1-5h0m0 8.7h0m.1 1.1h0m0 10.9h0m.1 1.3h0m0-8.3h0m0 6.4h0m.1-8.4h0m0 6.5h0m.1-23.5h0m.1 23.1h0m0-1.4h0m.2-17.8h0m.1 6h0m0 .6h0m0 3h0m.1-7.4h0m.1-1.2h0m.1 9.3h0m0-1.7h0m.1-2h0m.1 5.4h0m0 13.3h0m0-12.6h0m.1 13.9h0m.1-32.6h0m0 25.5h0m.1-9.4h0m.1-12.8h0m.1 .4h0m0 20h0m.1-7.7h0m.1 3.6h0m0-16.4h0m0 17.1h0m.1 3.8h0m0-8.8h0m.2 .3h0m0 1.8h0m.1-.4h0m.1-9.5h0m.1 16.7h0m0-2.9h0m0-13.1h0m.1 8.4h0m0-6.7h0m.1 13.7h0m0-7.6h0m.1-15.6h0m0 15.6h0m.1-1.3h0m0 2.4h0m.1 20.2h0m0-27.5h0m0 .3h0m0 16.5h0m0-3.8h0m.3-.4h0m0-4.5h0m0 5.8h0m.1 1.4h0m.1-11.8h0m.1 5.5h0m0-12.1h0m0 1.3h0m0 14.5h0m0-20.3h0m0 1.4h0m.1 8.4h0m0 17.4h0m.1-6.4h0m0 .2h0m.1-17.3h0m0 19.2h0m0-13.4h0m0 1.5h0m.1-2.5h0m0 .8h0m0-19.3h0m0 11.3h0m.1 18.4h0m0-.2h0m0-11.6h0m0-.9h0m0 6.9h0m.1 3.4h0m0-6.8h0m0 11.6h0m.1-.3h0m0-4h0m.1 6.5h0m.1-7h0m0-3.6h0m.2-7.8h0m0 16.5h0m0-21.8h0m.1 12.5h0m.1 4.6h0m0 9.5h0m.2-17.6h0m0 2.9h0m.1 4.8h0m0 9.8h0m.1-24.6h0m.1 18.7h0m.2-10.3h0m0 4.9h0m.1 2.7h0m.1-13.3h0m.1 2.1h0m0 14.5h0m.1 16.3h0m0-52.1h0m0 39.3h0m.1-.7h0m0-26.6h0m.1 11.2h0m0-6.5h0m0 13.4h0m.1 5.9h0m0-5.1h0m.1-2.9h0m0-3.9h0m0 4.3h0m.2-7.6h0m0-3.7h0m.3 2.4h0m.1 13h0m0 9.1h0m.1-14h0m.1-4.4h0m0-3.4h0m.1 2.5h0m0-3.2h0m0-4h0m.1 1.9h0m.1 1.4h0m0 4.9h0m0-1.3h0m.2-4.6h0m0 7h0m0-18h0m.1 19.3h0m.2 2.5h0m.1-3.4h0m.2 5h0m.1-12.9h0m.1 10.3h0m.1-7h0m.1 6.2h0m.1-3.1h0m.2 7.8h0m.1 .5h0m.1 2.9h0m0 .2h0m.1-19.9h0m0 3.8h0m0 .9h0m.1 15.7h0m0-24.1h0m0 13.3h0m0-5h0m0 18.3h0m.1-9.1h0m.1-6.1h0m.1-21.1h0m0 21.3h0m.1 1.4h0m0 16.7h0m0-23h0m.1 .2h0m.2 16.3h0m.2-10.6h0m.1 8.6h0m0 10.1h0m0-14.2h0m.1 2.3h0m0-3.9h0m.1 1.9h0m.1 2.6h0m0-.7h0m.1-19.5h0m.1 31.5h0m.1 4.4h0m0-25.8h0m.1-.2h0m0 14.3h0m.2-15.1h0m0-10.7h0m.1 24.4h0m0-7.6h0m0 11.3h0m0 .2h0m.1 3.5h0m0-7.3h0m.2-6.9h0m.1-3.6h0m0 29.1h0m0-35.8h0m.1-3h0m.1 .1h0m0 16h0m0 19.1h0m.1-14.3h0m0-6.3h0m.1 4.8h0m0-4.2h0m.1-28.2h0m.1 23.6h0m0 .9h0m.1-.4h0m.1 9.3h0m0-7.6h0m.2 9.4h0m.2 4.2h0m.1-11.2h0m0 2h0m.1-23.6h0m0 24.2h0m.1-3.5h0m0-11.1h0m.1 18.6h0m.2-19.2h0m0 12.3h0m.2-5.2h0m.1 2.2h0m0 15.8h0m.1-18.7h0m.1 13.8h0m0-24.2h0m0 2.4h0m0 42.9h0m.1-32.1h0m0 3.3h0m.1-13.8h0m0 19.9h0m.1-4.1h0m.1-10.4h0m0-9.8h0m.1 8.4h0m.2 12.5h0m0-1.9h0m0-7.3h0m.1 5h0m.1 21.1h0m.1-17.8h0m0-15.1h0m.1-16h0m0 19.5h0m.1 11h0m.1-1.1h0m0-1.8h0m.1 .6h0m.4 1.4h0m0-2.7h0m.2-1h0m1-4.5h0m.2 11.5h0m0-23.1h0m.5 9.1h0m0 5.1h0m.1 5.9h0m.1 4.8h0m.1-9.4h0m1.5-9.4h0m.3-4.3h0m.1 14.4h0m.1 3.4h0m0 2.7h0m.3-13.3h0m0 1.1h0m.7 3.9h0m1-11.4h0m.3 18.6h0m.2-5.1h0m.4-7.1h0m.4 10.9h0m.8 14.3h0m.3-15.3h0m.7-3.1h0"/>
</g>
<ellipse rx="43.0" ry="14.0" fill="url(#g4)" stroke="none" transform="translate(742.6 449.6) rotate(47.5)"/>
<g stroke="#f57f20" stroke-width="1.9" stroke-linecap="round" stroke-opacity="0.3" fill="none">
<path d="M697 414.7h0m9.7-5.5h0m.4 0h0m1.3 17.1h0m1-9.9h0m1.9-1.5h0m.9 23.3h0m2-15.8h0m.5-4.2h0m.5 10.6h0m.4 9.5h0m.1-20.2h0m.7 11.3h0m1.1 2.8h0m0 3.3h0m.5-14.7h0m.7 7.4h0m.3-6.6h0m.3 6.2h0m0-3.3h0m.4 19.4h0m.2-15.7h0m0 5.2h0m0 2.2h0m.2-9.4h0m.1 8.1h0m0-8.3h0m0-2.7h0m.3 15.6h0m.5-9.7h0m.8 1.1h0m.1 10.3h0m0-7.1h0m0-1.2h0m.1 1.3h0m.1-5.3h0m.1 5.7h0m.2 10.1h0m0-15.5h0m.2 3.1h0m0 1.8h0m.2-4.1h0m1.1 11.3h0m.4 5.7h0m0-9h0m.4 6.2h0m0-12.3h0m.1 1.8h0m.3-11.9h0m.2 24.1h0m0-19.9h0m.1 17.4h0m0-9.7h0m.1 7.5h0m0-13.7h0m.1 1.8h0m.1 5.7h0m0-11h0m0 22.9h0m.5-20.3h0m.3 7.1h0m.1 2.3h0m.1-7.2h0m.1-10.3h0m0 .9h0m0 20.7h0m.1 10h0m0-23.6h0m.1 10.5h0m.3 0h0m.2 11.5h0m0 2.6h0m.2-18.2h0m0-9.4h0m.1 37.4h0m.2-16h0m0-15.3h0m.2 17.6h0m.2-13.6h0m.2 5.3h0m0-7.1h0m0 3.2h0m.3-6.3h0m.1 12h0m.1-5.3h0m0 6h0m.1 14.6h0m0-12h0m0-23.3h0m0 18.7h0m.1-12.3h0m.5 .4h0m.2 12.7h0m0-12.3h0m.1 2.8h0m.2-4.2h0m.1 16.8h0m0-10.3h0m.1 19.9h0m.1-17h0m.1-18.7h0m.1 14.4h0m0 20.6h0m0-4h0m0-12.1h0m.1 1.4h0m.1 12.2h0m.1-24h0m.2 .9h0m0 10.6h0m.1 8.7h0m.1 8.6h0m.1 7.8h0m.1-34.9h0m.1 14.4h0m.1-3.2h0m.1-6.5h0m.1 12.4h0m0 .4h0m0-.2h0m.2-9.1h0m0 7.1h0m.1 1.1h0m.1-4.9h0m.2 1.5h0m0-7.7h0m.1 10.8h0m0-11.2h0m.1 5.1h0m0 2.5h0m.1 15.5h0m0-19.9h0m.4 13.5h0m.2-.9h0m.1-13.1h0m0 9.7h0m.2 5.8h0m.1-7.7h0m0 13.1h0m.1-16.5h0m0-13.9h0m.1 7.7h0m.2 4.4h0m.3-10.6h0m0 23.1h0m.3-13.9h0m.2 12.7h0m.1 5.4h0m.1 6.5h0m0-1.4h0m.1-23.2h0m0 9.5h0m0-2.6h0m0 9.7h0m.1-3.8h0m0 3.6h0m.1-3.6h0m0-5.6h0m.1 .7h0m.1-20.3h0m.1 13.6h0m0 6.8h0m.1 13.3h0m0-10.3h0m0 11.2h0m0-7.4h0m.1-8.9h0m.1 2.6h0m0-5.5h0m.1 12.7h0m0 8.4h0m.1-3.4h0m0-16.9h0m0 5.8h0m0-1.2h0m.1-1.6h0m.1 6.3h0m.1-14.5h0m.1 22h0m.1-15.7h0m0 7.1h0m.2-11.6h0m.1-1.8h0m0 9.1h0m.1-4.8h0m0-3.7h0m.1 7.6h0m.1 11.5h0m.1 11.6h0m.1-31.4h0m0 11h0m.1-9.3h0m.1 17h0m.1 2.9h0m0-9h0m.1 12.2h0m.1-21.5h0m0 .6h0m.1 10.3h0m.1 2.4h0m.2-3.6h0m0 .2h0m0-8.4h0m0 4.8h0m0 21.8h0m.1-25.3h0m.1 6h0m.1 6.9h0m0-20.9h0m.2 15.7h0m0-10.4h0m.1-.6h0m0 37.8h0m0-22.4h0m.1-25.4h0m.1 26.6h0m.1-11.8h0m0 3.5h0m.1 2.9h0m.1-6.7h0m.1 8.5h0m0-3.3h0m.1-10.8h0m0 2h0m.1 19.5h0m.1-13.1h0m0 4.4h0m.1-6.8h0m.1-7.5h0m0 20.1h0m.1-2.1h0m.1-17.3h0m0 14.8h0m0-14.5h0m.1 14.5h0m.1-7.3h0m0-2.1h0m0 1.4h0m.1-11.9h0m.1 8h0m.1 10.1h0m.1-8.5h0m0 8.9h0m.2 7h0m0-22.6h0m0 30h0m0-5.3h0m.1-10.1h0m0 4.2h0m.1 4.7h0m.1-2.3h0m.2-13h0m.1 23.2h0m0-4.1h0m.1 4.4h0m0-11.9h0m.1-13h0m0 3.4h0m0 4.6h0m.1-5.2h0m.1 2.2h0m.1 11.5h0m.1-6.6h0m0-1.1h0m.1 6h0m0-18.6h0m.1 26.7h0m.1-12.5h0m.1 6.7h0m.1-20.3h0m.1 15.5h0m0-8.8h0m0 2.4h0m.1 14.4h0m0-25h0m0 30.1h0m0-14.8h0m.1-15h0m0 17.8h0m0-11.2h0m0-2.8h0m.1 19.2h0m0-5.1h0m0-4.3h0m.1-3.9h0m.1 .5h0m0 10.4h0m.1-.6h0m0-1.2h0m0-4.7h0m.1 10.9h0m.1-10h0m0-12.5h0m0 17h0m0 18.3h0m.1-29.2h0m0 10.7h0m0-4.3h0m.1-3.8h0m.1-14.4h0m0 23.8h0m.1 8.1h0m0 5.3h0m0-25.7h0m.1 5.2h0m0 15.2h0m0-1.3h0m.1-19.6h0m.1 13.5h0m0-14.6h0m0 14h0m.1 18.1h0m.2-27.9h0m0-3.9h0m0 1h0m.1 10.9h0m0-14.5h0m.1 6.6h0m0 5.2h0m.1 7.3h0m0-23.1h0m0 14.3h0m0-6.3h0m.1-3h0m0 17.7h0m0-5h0m.1 2.6h0m0-14.4h0m.1 7.9h0m0-2.8h0m.1 24.5h0m.1-24.6h0m.1 3h0m0-3.5h0m.2 2.1h0m0-17.5h0m0 38.3h0m.1-27.8h0m0 10.7h0m.1 20.7h0m0-34.5h0m.2 24.6h0m.1-15h0m0 13.9h0m.2 3.2h0m0-6.7h0m.1 .2h0m0-11.1h0m0 6.5h0m.1-7.5h0m.1-.4h0m.1-1.2h0m0 12.1h0m0 7.3h0m0-2.4h0m0 0h0m0-6.3h0m.1-.2h0m0-15.4h0m0 17.2h0m.1-1h0m.1 .4h0m.1 17.4h0m.1-22.8h0m.1-10.7h0m0 10.8h0m0-5.6h0m.1 11.8h0m.1-8.7h0m0 3.1h0m.1-3.9h0m0 10.2h0m.1 11.3h0m.1-19.3h0m0 22.3h0m.2-13h0m.1-1h0m0-5.1h0m0 11.4h0m.1 9.6h0m0-8.6h0m.1-13.8h0m0 11.4h0m.1-10.6h0m.1-1.3h0m0 13.1h0m.1-8.2h0m0-1.1h0m.1 18.3h0m.1-25.9h0m0-6.3h0m0 23.6h0m.3-12.4h0m0 14.2h0m.1-18.3h0m0 6.2h0m.1-2.4h0m0-20.5h0m.1 24.3h0m0 15.7h0m0-8.2h0m0-19.6h0m.1 14h0m0 .6h0m.1-2.1h0m.1 5.6h0m.5-8.7h0m0-5.4h0m.1 10.8h0m.1-19.5h0m.2 14.4h0m0 3.3h0m0-3.9h0m.2 15.4h0m0-22.2h0m.1 9h0m0 16.6h0m.3-4h0m0-5.7h0m0 1.6h0m.1-9.2h0m.1 1.8h0m0-1h0m0-6.3h0m.1 3.1h0m.1 10.9h0m0-12.4h0m.1-9.1h0m0-1.8h0m.1 22h0m.1-4.4h0m0-7.5h0m0 4.8h0m.1 6.1h0m0 4.9h0m.1 6.9h0m.1-29.2h0m.1-2.2h0m0 8.3h0m0 13.3h0m0-11.5h0m.1-4.6h0m.1 28.7h0m.1-20h0m.3 3h0m0 11.3h0m.1-25h0m0 3.1h0m0 15h0m.1 13.3h0m.1-14h0m.2-8.6h0m.1 1.2h0m.1 17.6h0m0-12.7h0m.1 6.1h0m0-31.9h0m.4 16.8h0m.1-2.8h0m.2 4.6h0m.1 7.8h0m.1-2.2h0m0-2.4h0m0 5.3h0m.3-12.6h0m.1 8.2h0m.1 9.8h0m0-14h0m.1 14.7h0m.5-15.1h0m.2 14.9h0m.3-12.6h0m.1 15.7h0m0-10h0m.1 7.4h0m.1-21.5h0m0 13.6h0m.1 10.8h0m.4-7.9h0m0-.5h0m.3-5.9h0m0 3.7h0m.4-3.4h0m0-12.7h0m0 12.1h0m.7 3.2h0m.2 4.3h0m.5-13.8h0m0 4.7h0m.1 6h0m0 17.7h0m.1 1.3h0m.1-9h0m0 2.4h0m.1 4.2h0m.1-28.1h0m.1 8.6h0m.1 8.8h0m.3 1.2h0m.3-11.6h0m.1 22.8h0m.2-17.1h0m.1 .6h0m.1 9.2h0m.2-4.6h0m0 5.1h0m.5-5h0m.2-5.8h0m.7 13.3h0m.5-18h0m.6 10.2h0m0 5.2h0m.4 1.2h0m.1-5.7h0m.1 5.6h0m.1-14.6h0m.5 18h0m0-12.2h0m0-.8h0m.2 11.3h0m.3-4h0m.8 8.9h0m.7-11.4h0m.4-11.9h0m.9 11.3h0m.1 18.5h0m.3-16.7h0m.2-.8h0m.3 .3h0m.8 4.6h0m.4-2.1h0m.9 3.8h0m.2-8.1h0m.8-6.2h0m.2 25.3h0m1.4-10.7h0m.3-12.8h0m.1 9.7h0m1.8 .2h0m1.4-12.2h0m1.9 6.8h0"/>
<path d="M701.7 415.3h0m7.9-12.7h0m1.3 14.8h0m.9 9.2h0m1.9-4.5h0m.2 6.6h0m2.1 2.4h0m.4 6.9h0m.8 2.4h0m.1-20.3h0m.6 14h0m0-1.5h0m.1-3h0m.1 12.6h0m.2-9.6h0m.4 6.5h0m.1-12.7h0m.2-2.5h0m0-3h0m.1 15.9h0m.2-11.7h0m.1 4.3h0m.2 12.2h0m.1-21.6h0m0 17.9h0m.7-7.2h0m.2-12.8h0m0 17.8h0m.1-2.5h0m.2-21.4h0m.5 7.6h0m.1-.6h0m.1 19h0m.3 2.4h0m.3-7.4h0m.4-5.9h0m0 1.7h0m.1-3.3h0m.3 15.5h0m0 9.4h0m.3-12.6h0m0-28.8h0m.3 26.1h0m.1-13.2h0m.3 23.5h0m.3-17h0m.1 2.3h0m.1 6h0m.2-13.2h0m.2 15.4h0m.6-3.3h0m.4 1.5h0m0-13h0m.3 27.2h0m0-17.2h0m.1 4.4h0m.1-1.7h0m.2-9.3h0m.1-1.6h0m.2 16.1h0m.2 8h0m.2-5.2h0m0-10.6h0m.2-3.3h0m.1-2.3h0m0 4.9h0m0 .9h0m.4 14.4h0m.1-16.5h0m0 4.9h0m.3 .2h0m0 6.1h0m0-14.5h0m.1 31h0m0-22.4h0m0-3.1h0m.3 2.9h0m0-7.2h0m.1 4.7h0m0 3.1h0m0 .1h0m0 5.3h0m.1-8.8h0m.1-.2h0m.1-5.8h0m.2 6.6h0m.2 .2h0m0 3.2h0m.1-9.4h0m.1 4.9h0m0 9h0m.3-15.4h0m.1 18.1h0m.1-17.2h0m0 12.2h0m.1-5.3h0m.1 0h0m0 17h0m.1-21.8h0m0-4h0m0 13.5h0m.2-14.8h0m0 18.3h0m0-8.2h0m0-11.9h0m.1 3.8h0m.1 34.5h0m.1-26.2h0m0 7.9h0m.1-15.3h0m0 10.1h0m.1-.5h0m.4-7.3h0m0 4.5h0m0 7.6h0m0 2.6h0m.1-10.9h0m0 8h0m0-4.4h0m0 5.4h0m.1 0h0m0-4.2h0m.2-7h0m0 12.2h0m0-11h0m.3 17.1h0m0-6.5h0m0-1.5h0m.1-9h0m.2 5h0m.1 3.6h0m0 7.9h0m.1 5.3h0m.1-4.3h0m0-5.7h0m0-9.3h0m.1-3.3h0m0 11.1h0m0-16.3h0m.2 17.9h0m.1-11.8h0m0-7.8h0m0 33.8h0m.1-24.2h0m0 14.5h0m.1-7.2h0m.1-11.5h0m.2 13.8h0m0-3.3h0m.1 5.1h0m0-10.5h0m.1 13.6h0m0-12.4h0m0 15.4h0m.1-11.8h0m0-3.3h0m0 12.8h0m.1-1.7h0m.1-16.4h0m0 8h0m.2 4.7h0m0 2.5h0m.1 16h0m.1-16.2h0m0-6.1h0m.1-6.1h0m.2 13.1h0m.4 1.8h0m.1-12.4h0m.1 10.8h0m0-10.9h0m.1 12.6h0m.1-10.1h0m0 1h0m0-1.6h0m.4-4.5h0m0 12.1h0m.1-14h0m.1 6.2h0m0 7.6h0m.1 6.8h0m.1-7.2h0m0-3.6h0m0 6.7h0m.1-13.6h0m0 2.6h0m.1 10.5h0m.1-9.1h0m.1-1.2h0m0 17.7h0m.1-7.2h0m0 4.9h0m.1-3h0m0-11.6h0m0-10.1h0m.2 24.3h0m0-5.8h0m0-3h0m.1 14.3h0m0-13.4h0m.3 8.9h0m0-5.8h0m.1 1.8h0m0-10.2h0m0-1.4h0m.1-1h0m0-3.9h0m.1 26.8h0m.1-19.5h0m.1 19.4h0m.1-16h0m.1 15.6h0m0-33.4h0m.1 33.4h0m0-8.5h0m.1 5.6h0m0-8.3h0m.1-9h0m0 12.6h0m0 5.6h0m0-17.2h0m.2 5.2h0m.1 4.2h0m.1 14.8h0m0-14.8h0m0 1.2h0m0-1.2h0m.1 .5h0m0-19.7h0m0 21.6h0m0-3.6h0m0 0h0m.1 7.4h0m.1-10.1h0m0-5.8h0m0 6.7h0m.1 9.4h0m.2-1.5h0m0-18.9h0m0 22.2h0m0-18.3h0m0 11.6h0m0-2.1h0m.2 3.8h0m0-2.5h0m0-10.2h0m.2-4.7h0m.1 9h0m0 12.4h0m.1 2.5h0m0-17.3h0m0 20.7h0m.1-29.1h0m0 4.1h0m.1 9.1h0m.1-2.6h0m0 5h0m0-7.7h0m.2-11.2h0m.1 21.5h0m.1 13.6h0m.1-35.7h0m0 15.9h0m.1 2.4h0m.1 8.3h0m0 9.5h0m.2-18.8h0m0-2.1h0m0 4.2h0m.1-4.7h0m.1 1.7h0m0 4.1h0m0-16.3h0m0 8.3h0m0 12.1h0m.1 10.9h0m.2-6.4h0m0-3h0m0-6.2h0m.1-10.1h0m0 14.1h0m0 .2h0m0-1.5h0m.1-2.8h0m.1-1h0m.1-1.2h0m0-7.8h0m.2 21h0m0 10.2h0m.1-19h0m.1 3.7h0m0-4.7h0m0-8.4h0m0-8.3h0m.2 30.5h0m0-2.1h0m0-.4h0m.1-9h0m.1-2.9h0m.1 8h0m.1-12.9h0m.1 7.4h0m0-8.3h0m0 .6h0m0-.1h0m.1-1.2h0m0-3.1h0m.1 10.6h0m.1-10.5h0m.2 4.4h0m0 .8h0m0-.3h0m.1 3.5h0m.1 4.9h0m.1-10.2h0m.1 3.4h0m.1 4.8h0m0 5.1h0m0 .5h0m0-22.5h0m.1 26.7h0m0-10.1h0m0-2.4h0m0-8.4h0m.1-5.8h0m.1 11.4h0m.1-5.5h0m0 21.6h0m.1-13.7h0m0 9.6h0m0-4.3h0m0-2.7h0m.1 17h0m.1-28.3h0m0 9.9h0m.1 11.6h0m0 14.8h0m0-21.6h0m0-13.7h0m.1-6.8h0m0 31.5h0m0-14.6h0m.1 6h0m0 1.8h0m0 7.8h0m.2-24.8h0m0 18.9h0m.2-2.8h0m.1-5.7h0m.3-8.6h0m.1 19.4h0m0 1.9h0m0-13.1h0m.1 18.4h0m0-21.2h0m.1 16.3h0m.3-9.7h0m0 2.3h0m.1 4.2h0m.2 10.6h0m0-29.5h0m.1 5.7h0m0-6.8h0m.1 20.3h0m.1-15.2h0m.1-1.9h0m.1-1.6h0m0 14.6h0m0-1.9h0m.1-4.8h0m0 12.5h0m.2-7.9h0m.1 1.6h0m.1 4.1h0m0-23.1h0m.1 21.6h0m.1-.5h0m0-10.4h0m.1 5.4h0m.1-.2h0m.1-1.9h0m0-18.5h0m0 35.1h0m0-15.5h0m.1-4.6h0m.3 2.8h0m.1 16.6h0m.1-23.1h0m0 8.8h0m0-9.6h0m0 12.4h0m.1-14.7h0m0 21.5h0m.1-1.8h0m.1-10.4h0m0-7.7h0m0-3.5h0m.1 14.4h0m0 .4h0m0 2.4h0m0-12.6h0m.1 4.6h0m0 10h0m.1-2.7h0m.1-9.8h0m.1 22.8h0m0-29.3h0m.1-2.1h0m0 28h0m0-9.5h0m0-8.7h0m.2 15.5h0m.1-10.9h0m.3-14.6h0m0 6.5h0m.1 12.4h0m0-.3h0m0-10.8h0m.1 .7h0m0 4.6h0m0 14.6h0m.1-25.7h0m.1 24h0m.1-11.2h0m0 9.4h0m0-3.2h0m.1 6.2h0m.1-22.8h0m.1 7.1h0m0-7h0m.1 34.1h0m0-9.7h0m.1-28h0m0 40h0m.1-15.4h0m0-7.3h0m.1-6h0m0 6.1h0m.1 1.2h0m.1-13h0m.1 3.1h0m0-1.4h0m.1 18h0m0 .5h0m.1-12.5h0m0 2h0m.1-.2h0m0 9.8h0m.3-15.4h0m0 9.6h0m0 28h0m.1-26.8h0m.1-11.5h0m.1 16h0m0-25.5h0m.4 8.3h0m0 17.9h0m.1-13.2h0m0 26h0m.1-.4h0m0-29.6h0m0 16.3h0m.1 6.8h0m.1-13.5h0m0-6.1h0m.2 12.5h0m0 15.5h0m.4-22.6h0m.1-3.7h0m.2 1.8h0m.1 15.6h0m.2-2.6h0m0-12.9h0m.3 4.3h0m0 7.2h0m0-7.1h0m.2 15.8h0m0-31.5h0m.2 10.6h0m0-3.8h0m0 21.5h0m.1 4.4h0m0-16h0m.2-12.9h0m.3 7.2h0m.1 7.7h0m.2-9h0m.2 22.1h0m0-3.7h0m0-19.3h0m.1 25.1h0m.1-17.9h0m.1-6.8h0m.6-10.4h0m.6 19h0m.1 7.5h0m.2-11.4h0m0 15h0m0-13.4h0m.4-1.9h0m.2-1.5h0m.1 19.8h0m.3-6.8h0m.1 2.6h0m0-20.3h0m.4-3.2h0m.1 25.7h0m.2 9.9h0m.3-31.5h0m.2 17.9h0m0-5.2h0m.1 3.3h0m.2-7.4h0m.6 9.3h0m.2 1.8h0m.2 17.9h0m0-21.1h0m0 .6h0m.1 .8h0m0-12.5h0m.3 10.2h0m0-22.2h0m.2 11.6h0m.1 23.7h0m.1 .1h0m.1-4.1h0m0-35.7h0m0 30.7h0m.2 11.5h0m0-1.3h0m0-30.9h0m.1 .7h0m.3-.5h0m.1 8.7h0m.3 4.3h0m.2 4.1h0m0-3.6h0m.3 12.3h0m.4-8.1h0m.1-.8h0m.1 5.5h0m0 .2h0m.6-9.1h0m.2 19.5h0m0 11.7h0m.2-20.5h0m.1-9h0m.5-1.3h0m.2-2.9h0m.2-10.5h0m.1 10.9h0m.9 9.3h0m.6-12.7h0m0 27h0m.4-34.1h0m.4 17.8h0m1.3 5.2h0m.1-2.7h0m.7-7h0m.4 37h0m.7-32.3h0m0 13h0m2 18h0m3.6-31.2h0m1.7-4.7h0m5.1 18.4h0"/>
<path d="M697.2 412.6h0m5.3 3.6h0m2.3-5.8h0m3.4 6.8h0m.3 9.6h0m2.9 9.4h0m.2-12h0m.7 12.1h0m1.5-30.8h0m.2 15.4h0m.3 4.4h0m.1-13.8h0m.1 5h0m.1-4.5h0m.5 11.6h0m.7-2.6h0m0-.3h0m.2-4.3h0m.2 8.1h0m.4 6.9h0m0-1.6h0m1.1-2.3h0m.8 2.7h0m.4-3h0m.5 11h0m.7 1.6h0m0-13.8h0m.4 6.9h0m.1-1.7h0m0-3h0m.1 .1h0m.6-12.9h0m.3 10h0m0 3.4h0m.1 8.6h0m.5 5.1h0m.3-12.8h0m.3 .1h0m0 5.7h0m0-4.8h0m.1-7.3h0m.1 16.8h0m.1-.4h0m.1 1.6h0m.3-15.4h0m0-6.1h0m.4 9.5h0m.1-1.5h0m0 12.9h0m.1-1.9h0m.1 5h0m.1 1.8h0m.2-21.8h0m.1 2.7h0m.1 23.6h0m.1-22.4h0m0 7.5h0m.2 1h0m0-.9h0m.2 15.1h0m.3-11.3h0m0-5.5h0m0 1.5h0m.4 7.2h0m.1-21.5h0m0 30.6h0m.8-3.6h0m.2-21.1h0m.1 8.3h0m0 3.2h0m.2 7.3h0m0-9.1h0m.2 10.8h0m.4 4.6h0m0-11.4h0m.2-15.3h0m0 12.8h0m.1 13h0m.2-13.9h0m.1-1.6h0m.1 .9h0m0 4.8h0m0-9.5h0m.2 4h0m0-2.6h0m0 11.8h0m.5 .5h0m.3 6h0m0-23.9h0m0 14.8h0m.1 6.1h0m0-20.8h0m.2 3.7h0m.1 9.6h0m0-7.9h0m.1 .8h0m.2-22.2h0m.2 21.5h0m.2 17.8h0m.3-20.3h0m.1 16.5h0m.1-7h0m.1 2.3h0m0 5.5h0m.3-5.3h0m0-1.8h0m.1 11.7h0m.2-4.6h0m0 3.9h0m.3-3.9h0m.1-2.9h0m0 5.3h0m.1-23.9h0m.1 12.9h0m0 2.3h0m.1-2.4h0m.1-1.1h0m0 3.2h0m0 8.1h0m0-2.8h0m.2-5.5h0m0-9.3h0m.1-11.8h0m.1 10.7h0m.2 23.2h0m0-3.4h0m0-17h0m.1 4.9h0m0-2.8h0m0-10.3h0m.1 24.3h0m.1-2.9h0m0-11.6h0m.1 9.1h0m0 6.2h0m0-9.9h0m0 4.6h0m.1 3.4h0m.1-14.5h0m.1 27.4h0m0-32.3h0m0-.5h0m0 15.5h0m0-4.4h0m0 11.7h0m.1 4.9h0m0-19h0m.1 7.2h0m.1 16.7h0m0-25.9h0m.1 6.8h0m.1 3.4h0m0 1.6h0m.2-.8h0m0 .6h0m0-3.3h0m.2-3.1h0m0 9.2h0m0-8.3h0m0 3.8h0m.1-12.2h0m.1 2.6h0m.1 13.5h0m0 2.5h0m0-6.9h0m.2-12.4h0m.1 15.2h0m0-16.2h0m0 20.5h0m.1-.2h0m0-2.8h0m0 8.7h0m0-20h0m.1 32.3h0m0-30.3h0m.1 8.1h0m.2 3.4h0m.3-10h0m.2-7.6h0m0 12.2h0m0-8.8h0m.1 10.4h0m.1-2.4h0m0 14.9h0m0-19.5h0m.1 31.8h0m.1-14.2h0m.1-23.5h0m.2-1.5h0m.1 17.6h0m.1-14.6h0m0 17.9h0m.1 1.2h0m.1-2h0m0 2.3h0m.1-3.4h0m.1-17.9h0m0 23.3h0m.1-13.8h0m0-10.4h0m.1 8.9h0m.1 10.8h0m0-16.6h0m.2 12.9h0m0 4h0m.1 .9h0m0-2.8h0m.1-8h0m0 12.1h0m0-4.7h0m0 10.5h0m.1-28.2h0m0 29.9h0m.1-4.5h0m.1-5.6h0m0-17.5h0m.2 4.4h0m.1 4.3h0m.1-21.4h0m0 39.9h0m0-7.3h0m.4-3.8h0m0-11.2h0m0 8.8h0m.2-8.9h0m0 25.4h0m.1-28.5h0m.2 10.1h0m.1-11.3h0m0 5h0m.1 15.9h0m0-16.1h0m.1 18.3h0m0-17.7h0m0 16.7h0m0-2.2h0m.1-15.8h0m0 21.5h0m0-27.1h0m.1 21.5h0m0-12.1h0m0 9.3h0m.1-4.7h0m0-4h0m0 .1h0m0 7.7h0m.2 14.8h0m0-22.5h0m.2 .7h0m.2 16.7h0m.1-32.2h0m.1 20.6h0m0-6h0m.1 13.9h0m0-29.3h0m0 16.8h0m0 16.7h0m.1-8h0m0-8h0m0-1.8h0m0 17.7h0m.1-16.5h0m0 28.9h0m.1-3.7h0m0-26.5h0m0-8.1h0m.2 27.2h0m.1-22.5h0m.1 11.7h0m0-10.3h0m0 15.3h0m0-2.2h0m.1-5.7h0m0 0h0m0 2.8h0m0-10.5h0m.1 14.3h0m0 14.4h0m.1-20.7h0m.1 4.9h0m0-10.6h0m.1-14.7h0m0 23.3h0m0 3.8h0m.2-11.2h0m.1-8.4h0m.1 10h0m0 12.7h0m.2-2.4h0m0-17.6h0m0 15h0m0-2.8h0m.1-.1h0m0-7.7h0m0 .5h0m0 12.3h0m.1-7.5h0m.1 26.3h0m0-24.5h0m0 3.9h0m.1-1.8h0m0-2h0m0 4.5h0m.2 5h0m0-7.3h0m0-16.7h0m0 16.4h0m0 2.5h0m.2-3.2h0m0-1.8h0m0-11.3h0m0 5.2h0m0 18h0m0-1.5h0m.1 6.8h0m.4-11.4h0m0-19.9h0m0 11.7h0m0-3.2h0m.1 8h0m.1 7.1h0m.2-20.3h0m.1 9h0m0 3.1h0m.1-2.2h0m0 9.3h0m0 4.2h0m.1-1.4h0m0-9.7h0m0 9.2h0m.1-7.1h0m0 10.9h0m0-23.1h0m.2 26.2h0m0-24.7h0m.1 3.2h0m0 19.1h0m.1-1.6h0m.1-27.4h0m0 19.2h0m.2 9.6h0m0-13.5h0m.2-6.1h0m.1 1.8h0m0 16.1h0m.1-1h0m0-8.1h0m.1-5.3h0m0 15.3h0m0-10h0m.1 27.3h0m.2-31.8h0m0 5.3h0m.1 5.2h0m0-9h0m0 22.3h0m.1-19.6h0m.1 7.3h0m0-17.7h0m.1 11.3h0m.1 4.4h0m0-10.6h0m.1-2.2h0m0 6.5h0m.2-1h0m0-2.2h0m.2-2.2h0m0 13.6h0m.2 .2h0m.1-10.7h0m0-2.6h0m.2 22.3h0m.1-17.7h0m0-5.5h0m.1-2h0m0 18.5h0m0 2.3h0m.1-24.4h0m.1 9.9h0m0 11.4h0m.1-5.7h0m.2 3.2h0m0 3.9h0m0-5.7h0m.1 13.9h0m.2-14.9h0m.1-8.6h0m.1 14.9h0m0-5.9h0m.1-8.3h0m.1-7.4h0m.1 13.9h0m.1 1.4h0m0-3.3h0m.1-3h0m0-2.7h0m.2-.4h0m.3 3.5h0m0 1.5h0m.2 6.2h0m0-1.2h0m.2 6h0m.1-12.2h0m0 8.4h0m.1-5.9h0m.1 26.8h0m.1-31.9h0m0-1.2h0m.2 4h0m.1 13.7h0m.1-36.3h0m0 15.8h0m.4 12.2h0m.1-3.1h0m.1-13h0m0 21h0m.1 14h0m.1-26h0m0 3.8h0m.2 3.3h0m.1-1.7h0m.1 5.1h0m0 .4h0m.1-11.7h0m0 1h0m0-1.7h0m.1 3.8h0m.2-1.1h0m0-5.5h0m.2 9h0m.1-7.4h0m.4 6.1h0m0 4.6h0m.1 2.7h0m.1-6.9h0m0 4.9h0m0 1.3h0m0 8.5h0m0-29.3h0m.1 8.6h0m.2 6.7h0m.1 12.9h0m.1-10.8h0m0-4h0m.1 10.8h0m0-1.5h0m.1 28.1h0m.1-32.5h0m.2-14.4h0m0 17.2h0m.1 7.3h0m.1-10.2h0m0 9.7h0m0-11.7h0m.1 18h0m0-8.3h0m.1-2.9h0m.1-9.1h0m.1 2.3h0m0 .8h0m.1 2.5h0m.1 11.5h0m0-13.2h0m.1 14.6h0m.2-6h0m.3-13.2h0m0 .3h0m.1 9h0m.2 6.6h0m0-10.5h0m.2 6h0m0-23.2h0m0 14.7h0m0 20.3h0m0-11.4h0m.1-22.1h0m.1 29.3h0m.2-10.6h0m0-5.6h0m.4-9.7h0m.1 15.7h0m0-8.6h0m.2 4.8h0m.1-2.9h0m.6 12.2h0m.2 6.4h0m.1-16.9h0m.2-3.3h0m.2 4.9h0m0-6.7h0m.1 17.7h0m.1-9.4h0m.1 3.2h0m.1 11h0m.3-22h0m0-.3h0m.2 5.9h0m0 18h0m.3-22.3h0m.1 27.1h0m.1-.2h0m.2 4.1h0m.3-9.8h0m0-28.6h0m.1 28.4h0m.3-16h0m.2 3.6h0m0 6.1h0m.4-4.1h0m.2 8.2h0m0-19h0m.1 6.3h0m0-5.9h0m.4 15.7h0m.4-25.2h0m0 17.1h0m.4-2.9h0m0 22.7h0m.1-4.8h0m.5-2.8h0m.8-13.7h0m.1 4.7h0m0-.2h0m.5-7.3h0m.1 24.2h0m.1-18.2h0m.6 18.9h0m.1-17.2h0m0 6.1h0m.1-15.2h0m.1 16.5h0m.3-11.9h0m.2 5.8h0m.1-9.6h0m0 2.7h0m.7 24.3h0m.7-23h0m.7 22h0m1.2-24.4h0m.3 11h0m.8 2h0m.7-11.5h0m1.3 22.1h0m0-15.6h0m.4 .8h0m.8-4.6h0m.6 11.5h0m.5 17.1h0m4.3-15.3h0m.1 2.6h0"/>
<path d="M701.2 412.7h0m.9-5.3h0m3.8 19.4h0m2-18.2h0m2.3 7.6h0m.5 4.3h0m1.9-10.1h0m.5 11.4h0m.1 7.2h0m.9 8h0m.5-12.4h0m.6-3.4h0m1.1-1.5h0m.2-2.2h0m.2-.6h0m.6 14.6h0m.3-1.2h0m.2-2.5h0m.7 7h0m.1-4.1h0m.6 11.7h0m.3-4.3h0m0-9h0m.1-5.3h0m.1 18.5h0m0-5.4h0m.5-6.7h0m.2 7.2h0m.1 6h0m.1-7.8h0m.2-1.1h0m.1-8.3h0m.2 13h0m.1-.7h0m0-1.7h0m.3-7.2h0m.4 24.2h0m.4-20.4h0m.3-2.2h0m0 12.6h0m.4-15.7h0m0-2.2h0m.1 6.5h0m.4-9h0m.1 12.8h0m.2-11.6h0m.2 18.2h0m0 4.4h0m.1-15.7h0m.2-4.3h0m0 4.9h0m.3 16.8h0m0-13.6h0m.3-6.3h0m0-2.4h0m.2-3.3h0m.4 27.7h0m0-24.4h0m.2-.3h0m.2 6h0m.3-2.7h0m0 6.4h0m.2-16.1h0m.1 23.7h0m.1-23h0m.1 32.5h0m0-12.7h0m0 15.6h0m.3-24h0m.6 7.2h0m.1-5.6h0m.3 .1h0m.3-5.6h0m.5 20.6h0m0-.3h0m.1-13.5h0m.1 19.5h0m.2-27.8h0m0 16.4h0m.4-8.4h0m0 4.1h0m.1-8h0m.1-4.7h0m.1 8h0m.3-12.6h0m0 8.4h0m.1 .4h0m.1 29.3h0m.1-38.5h0m.1 19.1h0m.3 7.1h0m.3 3.6h0m.3-18.9h0m.2 18.7h0m.1-8.7h0m0 13.5h0m.1-20.4h0m0 18.6h0m.1-17.4h0m0 2.2h0m0 2h0m.1-4.6h0m.1 .4h0m.1 2.4h0m.2-16.8h0m0 8.2h0m.1 8.6h0m0-2.4h0m0-1h0m.1-1.2h0m.1 25.7h0m0-34.2h0m.3 13.2h0m.1 23.8h0m.1-24.4h0m0 3.9h0m0-8.9h0m.1-3.2h0m0 12.2h0m.1 1.1h0m0-5.9h0m0 8.2h0m0 8.3h0m.2-16.7h0m.1 6h0m0-1.4h0m.1 8.1h0m0-23.2h0m.1 8.7h0m0-1.4h0m0 20.3h0m.1-13.2h0m.1-.8h0m0 9.2h0m.1-9.4h0m.2 .5h0m0-4.6h0m0 5.2h0m0-3.3h0m.2 6.2h0m.1-26.1h0m.2 25h0m0 15.1h0m0-21.2h0m0-5.1h0m.2 12.6h0m0 15.3h0m.1-13.4h0m0-2.9h0m0 1.4h0m.2-16.5h0m.1 12.4h0m0 9.4h0m.1-11.1h0m.1-2.4h0m0 15.2h0m0 1h0m.2-16.5h0m.1 7h0m0 6.8h0m.1-13.1h0m.1 5.8h0m.2-14.3h0m0 5.4h0m0 13h0m.1-4h0m.1 4.1h0m.1 16.7h0m.3-26.5h0m0 1.2h0m0 12.3h0m.3-3.2h0m0 21.7h0m.1-26.7h0m0-7h0m.1 6.5h0m0 9h0m0-15.6h0m.1 32.3h0m0-21.4h0m0 6.6h0m0-1.8h0m.1-2h0m0-12.2h0m0 29.5h0m.1-18.5h0m0 19.2h0m.1-24.6h0m0 11.4h0m0-18.4h0m.1 18.6h0m.1-8.9h0m0 .5h0m0 8.6h0m.2-17.5h0m.1 25.4h0m0-9.3h0m0-4.9h0m.1-2.4h0m0 12.7h0m.1-9.4h0m0-9.4h0m0 4.6h0m0-10h0m0 18h0m0 1.7h0m.1-19.4h0m.1 9.1h0m0-11.6h0m.1 10.5h0m0 11.4h0m.1-14.5h0m0 .3h0m.1 4.4h0m0-2.2h0m.1-2.7h0m.1 10h0m.1-9.9h0m.1 15.8h0m0 2.8h0m0-8.6h0m.1-13.4h0m0 1.3h0m0 19.5h0m.1-9h0m0-12h0m0 7.5h0m0-1.4h0m0 15.1h0m.1-8h0m0-2.2h0m.1 12.9h0m0-21.2h0m.1 5.6h0m.1 9.3h0m0 5.5h0m0-1.9h0m.1-21.2h0m0 5h0m0 8.6h0m0-9h0m0 7.6h0m.2-11.9h0m.1 22.5h0m.1-14h0m0-10h0m.1 25h0m0-19.4h0m.1 7.5h0m0-23h0m0 21.4h0m0 6.4h0m0-15.4h0m.1 7.7h0m.1-5h0m0 18h0m0-4h0m0-7.9h0m.1-2.9h0m.1 11.1h0m0-4.5h0m.1-8.5h0m0 13.6h0m.1-1.2h0m0 9h0m.1-17.6h0m0 1.3h0m.2-15.9h0m0 21h0m.1-1.7h0m0-.7h0m.1 5.1h0m0 5.2h0m.1-1.5h0m0-19.5h0m0 11.3h0m.1 3.8h0m0-.3h0m0 3.8h0m.1 1.5h0m.2-11.1h0m.1-.7h0m0 22.4h0m0-26.9h0m.1-4.5h0m0 14.5h0m.1-4.5h0m.1 2.7h0m0-.2h0m.1 6.2h0m0-4.4h0m.1-19.8h0m.1 7.4h0m0 2.1h0m.1 7.7h0m0 9.2h0m0-8h0m.1-4.9h0m0 19.7h0m0-24.3h0m.2 6.2h0m.1 12.1h0m0-5.1h0m0-1.7h0m0-7h0m.1 2.3h0m.1-16h0m0 22.6h0m.2-8.6h0m0-6h0m0 9.2h0m0-4.8h0m.2 3.4h0m0 2.9h0m0 3h0m.1-9.9h0m.1 4.8h0m.1 .5h0m0 3.2h0m.1 7.7h0m.5-9.8h0m.1 7h0m0-.8h0m.4-6.7h0m0-6h0m.2 11.3h0m0-16.2h0m0 22.8h0m0-3.3h0m.1 .8h0m0 8.4h0m.1-5.6h0m0 9.7h0m0-7.8h0m.1 22.9h0m0-25.1h0m.1-9.8h0m.2 11.8h0m.1-16.5h0m0 1.1h0m0-.6h0m.1 12.2h0m0-13.2h0m.1 19.9h0m.1-23.1h0m0 3.2h0m0-2.1h0m.1 10.1h0m0 1.1h0m0 13.9h0m0-28h0m.3 21.5h0m0-4.3h0m.1 6.5h0m.1 1.9h0m.1-20.1h0m0-3.8h0m.2 .2h0m0 2h0m.1 .1h0m0 4.8h0m0-8.9h0m.1 21h0m.1-18.3h0m0 2.2h0m0-.2h0m0-7.6h0m.1 19.8h0m0-1.7h0m0-7.3h0m.2 19.1h0m.1-5.3h0m.1-15.6h0m.4-14.5h0m0 23.2h0m0 2.9h0m.1 1.8h0m0-3.8h0m0 2.9h0m0 6.1h0m.1-14.5h0m.1 11.8h0m0-1.5h0m0-24h0m0 29.2h0m0-4.8h0m.2 2.4h0m.1-10h0m0-3.4h0m0 1.4h0m.2-3.5h0m0 13.5h0m0-.5h0m.2-9h0m.1 .6h0m.1-2h0m0 0h0m.2 .2h0m0-4.3h0m.1 16h0m.1-.7h0m0-10.5h0m.1 2.9h0m.1-9.7h0m0 27.8h0m.2-23.1h0m.2 .5h0m0 26.2h0m.2-21.8h0m0-14h0m.2 24.2h0m0-10.8h0m.1 2.8h0m.1-6.9h0m.1-1.2h0m.1 5.8h0m.1 2.3h0m.1-21.7h0m.1 18.9h0m0-4.4h0m0-1.1h0m.4 26.6h0m.1-.7h0m.2-18.9h0m0 8.7h0m.2-6.8h0m.1 1.1h0m0-22h0m.1 25.4h0m0-7.6h0m0 15h0m.2-12.8h0m.1 14.1h0m.1-4.5h0m.2-.9h0m.2 .1h0m.1-15.4h0m.2 1.4h0m0 5.3h0m.1 21.4h0m.1-19.7h0m0 1.6h0m.1-5.2h0m0 5.1h0m0 10.3h0m.1 7.5h0m.2-15.5h0m0-4.2h0m.1 .3h0m0 8.1h0m.2-7.6h0m.1 15.4h0m0-9.1h0m.1 5.6h0m0-12.2h0m.3 6.1h0m0 4.4h0m.2-6.9h0m.4 19.7h0m.5-10.1h0m.3 1.6h0m.1-9.7h0m.1-.9h0m0 3.2h0m.1-13.3h0m.1 2.3h0m0 2.6h0m.1 .5h0m.1-11.2h0m.1 5.3h0m.1 3.8h0m0-.1h0m0 4.3h0m0-18.8h0m.1 12.8h0m0 12.5h0m0-9.4h0m0 12.2h0m0-.1h0m.4-7.5h0m.1 2.3h0m.1 3.8h0m.4-15.1h0m0 11.8h0m0 15.7h0m.1-14h0m.5 5.2h0m.5-7.3h0m0-1.1h0m.1-2.1h0m0 22.7h0m0-.8h0m0-24.9h0m0-7.2h0m.1 29.9h0m.1-4.3h0m.1-5.5h0m.1 1.6h0m.1-18h0m.1-.8h0m.2 15.1h0m.2 3.1h0m0 3.2h0m.3-10.1h0m.2 15.7h0m.3-4.2h0m.4-6.4h0m.1-4.8h0m.1-19.9h0m.2 17.1h0m.1 17.1h0m.1 3.1h0m0-22.5h0m.1 8h0m.1-16.7h0m.4 29.1h0m.1-26h0m.1 2.8h0m.3 10.2h0m.3-10.1h0m.1 10.9h0m.2 1.8h0m.2-5.8h0m.1-13.4h0m0 19.5h0m.1 14.9h0m.1-18.6h0m.4-1.2h0m.2-5.7h0m0-4h0m.3 9.2h0m0 11.7h0m.2-12.2h0m.3 .4h0m.1-.6h0m.3 8.7h0m.6-5.9h0m.4 7.5h0m.8-6.9h0m.2 1.5h0m0 1.3h0m.8-12.1h0m0 .3h0m0-.1h0m1.4 29.4h0m.6 .6h0m.1-20.2h0m.1 16h0m.9-13.8h0m.6-5.3h0m2.9 5.7h0m1.5 9h0m0 3.3h0m.1 1.9h0m.9-4.7h0m1.8-4.4h0m5.4 21.4h0m.3-11.1h0m1.6-2.1h0"/>
<path d="M694.3 401.1h0m9.1 16.2h0m1.1-16.5h0m.6-2.4h0m1 24.2h0m.9 8.5h0m2-17.8h0m1.1 8.9h0m.1 6.4h0m1.3-7.2h0m1.8 5.8h0m0-11.8h0m.1 10h0m0-5.6h0m.6-2.4h0m0 24.4h0m.3-2.3h0m.2-24.7h0m.1 12.7h0m.2-6.8h0m.9 8h0m.1 1.2h0m.4 7.4h0m.5-8.4h0m.2 .4h0m.7-11.1h0m.1 8.6h0m.5-8.9h0m.1 17.8h0m.6-13.2h0m0 2.7h0m0 4.8h0m.1-1.1h0m.4 12.7h0m.4-18.2h0m.2 13.3h0m.5-11.8h0m.2 17.8h0m.5-19h0m.4 19.2h0m.5-12.2h0m.1-16h0m.6 18.4h0m.1-5.4h0m0-5.1h0m.2 12.3h0m.1-11.2h0m.1 9.1h0m.3 7.6h0m0-6.3h0m.5-8.5h0m0-.7h0m.1-6.3h0m.2 15.8h0m.3 13.3h0m.2-10.2h0m0 4.7h0m.1-9.1h0m.1-5.5h0m.1-5.9h0m0 20.2h0m0-15.7h0m.1 .2h0m.2 7h0m.1-3.3h0m0 1.8h0m.1-15.9h0m.1 28.6h0m0-17.4h0m.4 1.8h0m0 1.5h0m.4 1.5h0m0 3.4h0m.2-13.7h0m.1 25.9h0m.2-8.2h0m0-3.9h0m.1-1.1h0m.1 1.9h0m0-.4h0m.1-.4h0m.1-2.8h0m0 9.2h0m.1-15.8h0m0-3.9h0m.1 26.3h0m0-7.1h0m.1-7.6h0m.1-9.1h0m.2 13.7h0m.1-15.4h0m.1 18.9h0m.2-4.7h0m.2-8.3h0m.2 20.7h0m0-14.4h0m.3-12.2h0m.3 16.5h0m0 13.5h0m.2-5.2h0m.1-.5h0m0 3.2h0m.1-8.2h0m0-10.6h0m.1-14.1h0m0 20.3h0m0 6.6h0m.1-4.2h0m0 2.9h0m0 3.4h0m.2-8.3h0m.1-3.4h0m.1-12.3h0m0 9.3h0m.1-3.6h0m.1 16.7h0m0 .7h0m.1 6.8h0m0-18.8h0m.1 5.9h0m.1 7h0m0-4.9h0m.1 2.4h0m0-10.6h0m.1 15.5h0m0-5.8h0m0 1.1h0m.2-1.8h0m.1 .5h0m0 2.4h0m0-22h0m.2 25.5h0m0-12.1h0m.2 17.6h0m0-3.5h0m.2-.8h0m.1-9.3h0m0-22.7h0m.2 24.1h0m.1 1.3h0m0 4.3h0m.1 3.4h0m0-10.2h0m0 9.5h0m0-13.3h0m.1-12.8h0m.2 30.8h0m0-8.5h0m.1-10.5h0m.1 11.4h0m.1-5.9h0m0 3.3h0m.1 2.2h0m0-10.4h0m.1-6.9h0m0 18h0m.1-9.1h0m.1 4.2h0m.1-12.7h0m0 9.6h0m.1 .6h0m0-12.2h0m.1 10.4h0m.1-4.3h0m0 6.8h0m0-.1h0m0-7.8h0m0 10h0m.1-8.6h0m0-1h0m.2 9.7h0m0 .2h0m.1-8.9h0m.1 3.3h0m0-4.9h0m0 10.9h0m.1 10.6h0m0-14.9h0m0 14.5h0m.1-10.4h0m.1-12.3h0m0 14h0m.2 13.1h0m0-12.8h0m0 .2h0m0 5.2h0m.1 6.9h0m0-33.5h0m.2 12.8h0m0-4.9h0m.1 23.3h0m.1-10.3h0m.1-1.1h0m.1 7.5h0m0 5.5h0m.1-.8h0m.1-16.2h0m.1 6.6h0m.1-.5h0m0 0h0m.1 2.2h0m0 3.8h0m.3 .7h0m0-3.1h0m0-14.4h0m.1 10.2h0m.1-1h0m.1-6.3h0m0 37.9h0m0-29.2h0m.1 5.8h0m0 10.8h0m0-4.5h0m0 5.5h0m.1-21.7h0m.1-4.2h0m.2 4.6h0m0-16.7h0m0 31.4h0m.1-11h0m.1-2.2h0m.1 3h0m.1-9.5h0m0-1.8h0m.1 15.2h0m.1-6.1h0m0-9.7h0m.1-6.9h0m0 21.7h0m.1 4.5h0m.1-12.3h0m.3-4.7h0m0 11.7h0m0 7.6h0m0-7.1h0m0 3.7h0m.1-10.1h0m.1 8.2h0m0 2.4h0m0-4.1h0m0-15.1h0m.3 1.6h0m0 3.9h0m0 12.2h0m0-9.2h0m.1 10.4h0m0-2.3h0m.1 2.2h0m.1 4.9h0m0-4.1h0m0-10.3h0m0-8.7h0m0 22.5h0m0-13.8h0m.1 5.1h0m0-9.7h0m0-9.3h0m0 12.9h0m0-1.9h0m.2 4.1h0m0-7.7h0m.1 6.6h0m0-1.7h0m.1 11.6h0m0-.3h0m0-9.4h0m0-4.4h0m0 9.7h0m.1-10.1h0m.1 3.9h0m.1 12h0m0-4.9h0m0-7.5h0m.1 10.5h0m.1-6h0m0 5.6h0m.1-4.3h0m0-21.1h0m.1 29.8h0m0 7.2h0m0-35h0m0 16.7h0m.1-22.5h0m.1 16h0m0 10.7h0m0-9.5h0m.1-1.5h0m0-2.2h0m0-1.4h0m.1 24.4h0m0-26.1h0m.1 24.1h0m.1-15.8h0m.1-10.3h0m0 14h0m0 17.2h0m.1-14.3h0m0-12.1h0m0 4.5h0m.2 11.6h0m.1-19.5h0m0 2.5h0m0 9.4h0m.1-5.7h0m0 10.2h0m.1 2.9h0m0-9.3h0m.1-2.4h0m0 27.8h0m0-28.2h0m.2-5.1h0m0 8.1h0m0-3.3h0m.1 14.6h0m0-4.7h0m.1 8.1h0m.1-27.1h0m0 20.9h0m.1-11.4h0m.1 7.7h0m.1-2.9h0m0 2.8h0m0 6.7h0m.2-14.5h0m0 5.3h0m0 5.1h0m.1 .6h0m0-5.3h0m.1 3.2h0m.1-2.3h0m.1-2.3h0m.2-11.8h0m.1 30.4h0m0-15.2h0m.2 3.8h0m0-8.8h0m.2 22.5h0m0-19.5h0m0-.5h0m.2 6.1h0m.1-9.2h0m.1 17.1h0m0-5.4h0m0-10.4h0m.1-.9h0m.1 26.2h0m0-15.8h0m.2 8.1h0m0-18.1h0m.1 5.2h0m0-1.7h0m.3 5.1h0m.1 5h0m0 1h0m.1-1.5h0m0-19h0m0 16.3h0m0-4.5h0m.1 11.7h0m.1-8h0m0 16.1h0m.1-18.8h0m0 .6h0m.1 9.1h0m0-11.8h0m0-6.3h0m.1 1h0m.2 16.5h0m0-16h0m.1 6h0m.1 13h0m0-5.8h0m.1 .7h0m.1-12.6h0m0-8.5h0m.2 28.8h0m0-5.1h0m0 4.2h0m.2-17.1h0m0 6.4h0m.1-15.8h0m.1 10.1h0m0 12h0m.1-6.1h0m0 2.8h0m0-3.9h0m0 11.5h0m0-17.1h0m.2 1.4h0m.1 9.1h0m0-4.4h0m.1 14.5h0m0-15.4h0m0-2.2h0m.1 12.4h0m.1-12h0m0 5.6h0m.1-12.1h0m0-2h0m.2 6.3h0m0-3.8h0m.1 12.9h0m.1-.4h0m0-12.5h0m0 3.6h0m0 23.1h0m0-36.8h0m.1 28.3h0m0-.3h0m0-8.9h0m.1-1.8h0m.1-2h0m.1 15h0m0 9.7h0m.2-24.8h0m0 6.4h0m.1 1.2h0m0-10.4h0m0 15.3h0m0 5.2h0m.1-16.3h0m.1-2.2h0m0-16.6h0m.1 11h0m0 26.5h0m0-25.7h0m.1 7.9h0m.1 3.8h0m.1 2.1h0m0-5.6h0m.2 13.5h0m.1-3.7h0m0-27.5h0m0 22h0m0 .4h0m.1 3.6h0m0-4.9h0m.1 25.9h0m.1-11.8h0m0-19.3h0m0-3.6h0m0 25.3h0m.2-15h0m.1-15.4h0m0 12.8h0m.1-8.4h0m.1 10.9h0m.1-8.6h0m.1 0h0m.1 7.1h0m.2 14.3h0m.2-10.6h0m0 1.1h0m.1-1.1h0m.1-12.3h0m0-1h0m0 13.8h0m.2-6.4h0m.1-17.2h0m0 34.9h0m0-8.4h0m0 1.4h0m.1-22.5h0m0 10.5h0m.1-.4h0m0 7.5h0m.3-4.7h0m0 3.1h0m.1-8.7h0m.1 5.7h0m0-6.5h0m0 12.6h0m.2 9.1h0m.2 2h0m0-10.2h0m.1 17.5h0m.2-16h0m.1 4.2h0m.3-.5h0m0-9.1h0m.3 5.8h0m.1-4.9h0m.1 7.6h0m.1-13h0m0 14.3h0m0-13.3h0m.2 10.8h0m0-.7h0m.1-7.3h0m0-.1h0m.2 23.7h0m0-18.2h0m0-15.8h0m.4 23.7h0m0-20.9h0m0 13.9h0m.3-2.5h0m.1 5.7h0m.2-16.7h0m0 21.2h0m.2-3.3h0m.1 7.9h0m.1-14.9h0m0 2.4h0m.1-17.5h0m.1 25.7h0m0-6.3h0m.1 2.7h0m.3 13.6h0m.3-15.8h0m.1 1.1h0m.1 1.7h0m.1-13.9h0m0-1.4h0m.1 9.2h0m0-24.2h0m0 36.7h0m0-4.8h0m.3-14h0m.3 8.4h0m.1-13.3h0m.1-12.5h0m0 12.9h0m0 11.9h0m.4-10.8h0m.1 16.1h0m0 8.9h0m.1-22.6h0m.1 8.1h0m.2-2.9h0m0 10.5h0m0-9.5h0m.1-6.5h0m.1 23.1h0m.2-27h0m.1 19.2h0m0 3.2h0m.1-32.5h0m.1 12.7h0m.1 9.7h0m.3-4h0m.1 6.2h0m.6-14h0m0 14.1h0m.6 5h0m0-16.6h0m0 18.4h0m0-5.6h0m.1 2.7h0m.2 1.9h0m0-15.7h0m.2 10.8h0m.1-4.8h0m.1 9.2h0m0-11.1h0m0-7h0m.2 6.3h0m.2 11.8h0m.1 3.7h0m.1-18.3h0m.8 13.5h0m.5-18.4h0m.2 15.8h0m.2-11.9h0m.1-7.2h0m.4 19.4h0m.5 1.3h0m.1 19.4h0m.5-30.8h0m0-14.2h0m.7 25.8h0m0-2.9h0m0-2h0m.1-9.2h0m.1 17.3h0m.8-8.7h0m.3-2h0m.4 12.5h0m.2-5.7h0m.5-10.1h0m.2 25.3h0m.2-29.7h0m.7 9h0m.2 12.4h0m.3-13h0m.4 9.7h0m.1-6.3h0m2.9 27.5h0m.8-16.2h0m.3-16.5h0m.4 31.4h0m.1-28.6h0m1.2 12.8h0m3.2 .2h0m.1 15.1h0m.1-20.9h0"/>
<path d="M705.1 417.3h0m.8-6.3h0m1.7 9.8h0m1.7-16.2h0m.4 22.8h0m.6-9.2h0m.1 12.1h0m.9-14h0m.5 11.3h0m.8 8.3h0m.4-10.9h0m.9-13.6h0m.3 8.7h0m.3 .3h0m.3 17.2h0m.9 .6h0m.7-2.5h0m0-14.8h0m.1 15.5h0m.2-10.6h0m.2 9.9h0m.1-11.7h0m.1-4.5h0m.2-2.6h0m.2 5.3h0m.2-3.4h0m.1 10.6h0m.6 11.1h0m.4-13.6h0m.4-2.4h0m.4 7.8h0m.9-4.7h0m.5 .4h0m.2-1.5h0m.3-1h0m.1 11.3h0m.1 11.6h0m.1-18.4h0m.2-2h0m.1-3.5h0m0 3.8h0m.2 9.7h0m.1-1.3h0m.3-4.3h0m.1 5.2h0m.2 0h0m0-19.4h0m.1 38.4h0m.1-19.6h0m.1-16.5h0m.2 18.1h0m.4 0h0m0-8h0m1 1.4h0m.1 2h0m.2-.5h0m.1 7.7h0m.3-5.5h0m.1 13.5h0m.1-18.3h0m.1-9.3h0m0 6.3h0m.4-7.2h0m.1 16.5h0m.1-3.7h0m.2 8.6h0m.1-5.6h0m0-5h0m.1 .2h0m0 8.6h0m.1 2.2h0m0 10.9h0m.2-23.3h0m.1 2.4h0m.3 4h0m0 11.4h0m.1-13.8h0m.1 1.6h0m0-10.1h0m.4 13.3h0m0-7.4h0m0 3.2h0m.1-9.2h0m.6 3.1h0m0 19h0m.2-8.9h0m.1 5.3h0m0-8h0m.2 9h0m.1 7h0m0-24.2h0m0 17.1h0m.1-14.2h0m.1 1.6h0m0 12.1h0m.1-13h0m.1 1.9h0m0-12.1h0m.1 37.5h0m.1-17.7h0m0 7.2h0m0 18.8h0m.1-38.8h0m0 4.6h0m.1 7.8h0m0 0h0m0-12.4h0m0 9.7h0m.1 0h0m.1 8.6h0m.1-2h0m0-7h0m.1 13.5h0m0-8.1h0m0 6.2h0m.1-17.2h0m.2 6.6h0m0 2.8h0m.2-4h0m.1-11.3h0m.1 5h0m.2 26.8h0m0-2.5h0m.1-32.7h0m0 25.1h0m0-20h0m.1 6h0m.1 7.3h0m0-9.5h0m0-5.4h0m.1 2.1h0m.1 15h0m.1-14.2h0m0 29h0m0-18.7h0m.1-2.8h0m.1 11.3h0m.2 12h0m.4-13.9h0m.1-2.2h0m.1-.1h0m0-17.7h0m.1 13.1h0m.1-.7h0m0-2.2h0m.1 8.2h0m0-19.2h0m.1 26h0m.1 3.5h0m0-19.8h0m0 2.1h0m.1 5.9h0m.2-11h0m0 9.8h0m0-1.7h0m.1 9.8h0m0 10.5h0m.2-16.3h0m0-2.1h0m0 18.7h0m0-6.6h0m0-3h0m0-10.9h0m.3 12.1h0m0 2.2h0m0-5.3h0m0-20.9h0m.3 36.1h0m0-15.6h0m.1-14.3h0m.1 4.8h0m0 4.8h0m.1-6h0m.2 14.3h0m.1 4.3h0m0-7.6h0m0-11.6h0m0 2.5h0m.1 5.1h0m0 2.3h0m0-5.7h0m.1 5.2h0m0 3.8h0m0 3.7h0m.2 3.2h0m.1-12.4h0m0 11.3h0m0-11.5h0m.1 1.7h0m.1-2.7h0m.1 2.6h0m.1 1.2h0m0-5.4h0m.1-10.5h0m.2 28.9h0m.2-7.2h0m.1-2.8h0m0-8h0m.1-10.9h0m0 3.3h0m.1-2.9h0m.1 22.3h0m0 2.1h0m0-17.9h0m.1 13.1h0m.2-7.7h0m0 6.1h0m.4-1.4h0m0 13.5h0m0-24.8h0m.1 30.4h0m.2-26.1h0m.1-4.8h0m0 2.7h0m.1 11h0m.2-30.3h0m0 26.2h0m.1-10.6h0m0 3.2h0m0 15.7h0m.1-13.5h0m.1 12.8h0m.1-5.7h0m0 3.3h0m0-17.5h0m.1 8.5h0m0 12.1h0m.1-8.5h0m0-6.7h0m0 6.9h0m.1-9.9h0m.1 20h0m.1-15.4h0m0-4.3h0m0 4.6h0m.1 30.4h0m.1-36.7h0m.1 12.6h0m0 1.3h0m.1-11.8h0m0 9.3h0m.1 6.7h0m0 4.6h0m.1-9.3h0m.1 17.3h0m0-20.8h0m.1-15.5h0m.1 19.2h0m.1 3.7h0m.1 .3h0m.1-1.8h0m0-4.9h0m0-14.8h0m0 21h0m0-5.7h0m0 7.6h0m.1 3.4h0m.1-21.9h0m.1 14.2h0m0 15.6h0m0-16.1h0m.2-21.6h0m0 20.5h0m.1 15.5h0m0-14.6h0m.1 2.8h0m0 8.4h0m.1-17.9h0m.1 18.9h0m0-16.9h0m.1 5.8h0m0 7.2h0m.1 10.2h0m0-15.1h0m.1-.7h0m0-13.4h0m0 22.9h0m.1-2.1h0m0-25.3h0m.1 28.8h0m0-16.4h0m0 13.2h0m0-14h0m.1 7.3h0m.1-2.9h0m0-5.2h0m.1 26.7h0m.1-29.9h0m.1 9.5h0m0-2.6h0m0 3.2h0m0-3.5h0m.1-1.5h0m0 20.3h0m.1-27.8h0m0 16h0m0-12.9h0m.1-4.7h0m0 25.1h0m.1 5h0m.1-21.6h0m0-4.6h0m0-18.9h0m.1 45.3h0m.1-35.2h0m0 11.7h0m.1 26.1h0m0-7.9h0m0-4.9h0m.1-8.4h0m0 10h0m.1-21.2h0m.1-7.1h0m.2 15.7h0m.1 8.2h0m.1 3.5h0m0-1.9h0m0-12.4h0m.2 6h0m0 13.1h0m0-26.2h0m0 28h0m.1-11.5h0m0 .4h0m0-15.9h0m.1 10.1h0m0-1h0m.1 8h0m0-2h0m.2 3.1h0m0-4.2h0m0 4.1h0m.1-17.9h0m.1 23.1h0m.1-11.3h0m0-1.3h0m.1 34.7h0m0-11.7h0m0-32.2h0m.1 12.6h0m0 1.6h0m0 .7h0m.1-9.5h0m0 22.4h0m.1-11.9h0m0-23.4h0m.2 18.2h0m0 3.5h0m0-4.2h0m0 8.8h0m.3-11.4h0m.1 14.9h0m0-7.9h0m.1-7.7h0m0 2h0m0 7.8h0m0 19.3h0m0-29.1h0m.1 10.1h0m.1-19.8h0m0 13.7h0m0-4.6h0m0 19.6h0m.1-21.4h0m0 17.2h0m.1 3.8h0m0-17.3h0m.1 4.5h0m.2 .8h0m0 4.9h0m.1-1.2h0m0-2.4h0m.1-2.5h0m0-4.2h0m0-11.2h0m0 16.3h0m.1 .7h0m0-5.4h0m0-2.2h0m.1 4.9h0m0 5.6h0m0-26.4h0m.1 10.2h0m.1 .1h0m0 14.3h0m.1 3.1h0m.1-16.5h0m0-2.4h0m.1 16.4h0m0 34.1h0m.1-57h0m0-2.5h0m.1 24.8h0m0-1.7h0m0-15.6h0m0 18.8h0m0-.5h0m.1 3.4h0m0-.1h0m0-11.7h0m.1 7.1h0m0-5.4h0m0 7.1h0m.1-9.1h0m0 6.4h0m0 9.4h0m0 1.6h0m.5-9.5h0m0 17.2h0m.1-31.3h0m0 18h0m0-3.3h0m.1 1.1h0m0-9h0m0 .6h0m.2 19.3h0m.1-14.8h0m.1-7.3h0m.1 20.5h0m.1-8.8h0m.1-10.2h0m0 17.8h0m.1-19.5h0m.1-4.4h0m0 15.9h0m0-9.6h0m.1-1.3h0m.1-9h0m.2 12.4h0m0 13.4h0m.2 11.1h0m0-12.2h0m0-11.8h0m.1 4.4h0m0 6.1h0m0-13.4h0m.3 10.5h0m.2-.4h0m0 .1h0m0-2.4h0m.3 9.8h0m.1-19.1h0m.2-3h0m0 10.7h0m.1-1.4h0m0 1.9h0m.1 2.4h0m.1-13.5h0m0 20.1h0m.1-4.2h0m0-6.7h0m.2 6.1h0m0-1h0m0 15.1h0m.2 3.9h0m0-18.9h0m.1 6.4h0m0-5.4h0m0-2.3h0m0 4.5h0m0 10.4h0m0-25.7h0m.3 15.3h0m.4 3.8h0m0-18.5h0m.1 26.3h0m.1-3.6h0m.1-18.7h0m.2 14.4h0m.1-6.1h0m.2 13.4h0m.1-23h0m.3 16.8h0m0-4.4h0m.1-7.5h0m.1 10.2h0m.1-11.4h0m.1-5.7h0m.4 36.2h0m.1-33.8h0m0 11.7h0m.1-3h0m.1 17.8h0m.1-2.2h0m0-8.4h0m.2 6.2h0m.1-13.7h0m0-4.5h0m.1 9.6h0m.2-4h0m.2 .5h0m0-5h0m.3-1.2h0m.2 .4h0m.1 14.2h0m.1-12.3h0m.4 4.3h0m.1-4.3h0m.1 14.3h0m.3-3.3h0m.1 .4h0m.2 16h0m.1-20.6h0m.1 6.7h0m0-4.9h0m.1 3.5h0m.3-8.5h0m.4 1.5h0m0 7.1h0m.1 3.6h0m.4-9h0m.1 8.9h0m.2-2.1h0m.2-18.3h0m.4 18.9h0m0 5.7h0m.1-9.9h0m0 .1h0m.3-3.1h0m.1-11.5h0m0 7.4h0m.3-2.9h0m0 8.5h0m.1 19h0m0-7.3h0m.1-21.3h0m.2 17.4h0m.1 3.3h0m.4-4.8h0m.2-7.5h0m.2 9.4h0m0-11h0m.2-17.4h0m.2 28.2h0m0-9h0m.1 1.2h0m.3-5.9h0m.2-5.4h0m.1 6.2h0m.2 20.1h0m.2-12.5h0m.2 5.2h0m.3-17.8h0m.4 21.5h0m.1-17.7h0m.1 11.1h0m.1 2.5h0m.2-2.3h0m.1-7.8h0m0 5.3h0m.9-17.3h0m.1 5.3h0m.1 20.2h0m0-3.7h0m.1-12.3h0m.6-3.6h0m.5 26.5h0m.5-20.5h0m.1 .9h0m.6 21.8h0m1.8-8.4h0m.5 3.8h0m.3-17.4h0m.2 30.6h0m1.4-23.8h0m.9 7.1h0m1.4-7.8h0m.3 5.1h0m.3-3.5h0m.7-9.6h0m.4 2.6h0m1.4 19.5h0m.4-17.8h0m1.3-4.2h0m.8 30.3h0m.5-8.5h0m5 13.7h0"/>
</g>
<ellipse rx="47.0" ry="11.8" fill="url(#g5)" stroke="none" transform="translate(305.5 330.0) rotate(-17.0)"/>
<g stroke="#8b564c" stroke-width="1.9" stroke-linecap="round" stroke-opacity="0.3" fill="none">
<path d="M261.7 342.5h0m1.6-4.8h0m1.4 10.4h0m1.5-6.9h0m.5 3.3h0m.4-5.2h0m2 5.4h0m.1-5.4h0m1.5-6.5h0m2.1 9.2h0m.2-1.3h0m.1 .9h0m.1-7.8h0m.2 19.6h0m.1-11.1h0m.1-8.6h0m.1 5.8h0m.2-5.3h0m.3-.3h0m.5 14.7h0m1.1-14.2h0m.4 13h0m.1-4.1h0m0-15h0m.9 14h0m.2-10h0m.4 2.5h0m.2-2h0m.8-2.6h0m.2 8h0m.2-6h0m.1 7.5h0m0-8.1h0m.2 .5h0m0 3.5h0m.1 6.1h0m.2 4.6h0m.1-6.3h0m.3 2h0m.3-8.3h0m.1 10h0m.5-10.4h0m0-3h0m.1 15.2h0m.2-11.1h0m.1 4.7h0m.1-10h0m0 4.7h0m.1-8.2h0m.4 25h0m.2-17.7h0m.5 5.6h0m0-9.5h0m.2 11.1h0m.7-9.2h0m.3-1h0m.4 10.2h0m.4-3.9h0m.2 7h0m.1-16h0m.2 12h0m0-.8h0m.1 6.9h0m.1 5h0m.3-17.4h0m0-1.2h0m.1 7.9h0m0-9.2h0m.4 4.6h0m.1 5.8h0m.4-1.6h0m0-6.6h0m0-.8h0m.4-2.9h0m.1 9.3h0m0-5.9h0m.1-.4h0m0 .4h0m.1-2.1h0m.1-5.6h0m.3 11.4h0m.2-10.9h0m0 1.6h0m.1 3.8h0m.4-1.5h0m0 10.9h0m.1-4.1h0m.3-3.1h0m0 9.4h0m.2-15.6h0m0 7.3h0m0 8.1h0m.5-3.1h0m.1-1h0m.2-7h0m0 8.6h0m0-1.5h0m.1-3.9h0m0-3.6h0m0 13.2h0m.1-8.9h0m.2-2.3h0m0 2.5h0m.2 1.4h0m.1-2.8h0m.1 15h0m.1-7.9h0m0-5.2h0m0 1.1h0m0-4.5h0m0-3.5h0m.1 7h0m.1-6.5h0m.3 6.3h0m.1-7.8h0m.1 15.1h0m.1-1.9h0m0 .3h0m.1-1.9h0m.1 2h0m.1-11.4h0m.1 6.1h0m0-3.8h0m.3-1.9h0m0 8.4h0m.3-4.3h0m.1 4.1h0m.2-8.8h0m0 8.7h0m.4 2.5h0m.1-9.6h0m.2-.1h0m0 1h0m.2 3.1h0m.1-7.5h0m.1 2.6h0m0 2.9h0m.1-.9h0m0 .9h0m.1 4.7h0m0-15.7h0m.1 7.5h0m.2 2.8h0m0 5.6h0m.1-10.2h0m.2-5.7h0m.1 11.5h0m.1-4.2h0m0 4.2h0m.2 4.8h0m.1 3.6h0m.1-.2h0m.1-12h0m.1-3h0m.1 .9h0m.2 3.1h0m0 3.2h0m0-2.1h0m0-4.2h0m.3 6.7h0m.1-10.9h0m0 12.4h0m.1-10.9h0m.1 3.8h0m0-.6h0m.4 8.6h0m0-8.9h0m.2 9.2h0m.1-4.2h0m.1 2h0m.1 1.7h0m.1-18.8h0m.1 17.5h0m0-6.7h0m0 7.9h0m.2-4.7h0m0-.3h0m.1-3.8h0m0 .8h0m.1 .4h0m.2 5.2h0m0-9.6h0m.1 6.6h0m.1-8.1h0m0 8.4h0m0 2.8h0m.1-7.2h0m0 7.5h0m.2 1.8h0m.2-8.1h0m.1 5.8h0m0-11.2h0m.2 6.5h0m0 12.6h0m.2-10.8h0m.1-7.2h0m0 2.1h0m.1 8.2h0m.1 4h0m0-2.8h0m0-3.8h0m.1-1.7h0m.1 9.2h0m0-8.2h0m.1-5.1h0m0 1.3h0m.4 .6h0m.1-4.4h0m0 13.7h0m.1-10.3h0m.2 7.2h0m.1-1.5h0m0-.5h0m0-.7h0m.1 9.5h0m.1-9.9h0m.1 4.5h0m.1-11.3h0m.1 8h0m.2-14.4h0m0 18.1h0m0-5.6h0m.1 11.3h0m0-9.2h0m.4-7.7h0m0 9.9h0m0-12.8h0m.1 3.9h0m0 16.3h0m0-8.5h0m.1 2.5h0m.1-10.3h0m0 5.3h0m0 1.8h0m.1-1.6h0m.1 4.5h0m.1-1.4h0m.1 2.6h0m.2-.4h0m0-2.3h0m.1 6.1h0m.1-6.3h0m0 9h0m.1-19h0m.3 8.2h0m0-7.4h0m0 11.9h0m.2-1.5h0m.1-4.5h0m0-5.3h0m.5 4.2h0m0 2.1h0m0-4.2h0m0 3.5h0m0 2.3h0m.3 2.4h0m0 2.7h0m.1-6.6h0m0 .8h0m.4-1.8h0m0 .8h0m0-5.8h0m.4 7.5h0m0 .7h0m.1-2.8h0m0 1.7h0m.1-5.1h0m0-1.1h0m.1-1.6h0m.1 6.7h0m0-1.9h0m.1 3.7h0m.2 .9h0m.2 4.3h0m0-16.6h0m.1 9h0m0-2.2h0m0 1.6h0m.2-1h0m0 5.1h0m0-7.1h0m.1 2.6h0m0 1.4h0m0 4.9h0m.2-.7h0m.1-1.1h0m.1 .5h0m.1-1.4h0m0-11.6h0m.1 6.7h0m0-4.7h0m0 .1h0m.1 10.3h0m0-9.6h0m0 5.4h0m0-.9h0m.2 1h0m0-3.5h0m.3-.5h0m.1 11h0m.3-7.8h0m0 5.8h0m0-6.9h0m.1-4.6h0m0 7.7h0m.1 3.8h0m.1-2.9h0m0-6.1h0m.1 0h0m.2-3.3h0m.1 9.6h0m.1-.3h0m.2-4.4h0m.1 4.2h0m.3-1.4h0m.1-2.1h0m.1-4h0m.1 9.7h0m.2-3.4h0m0-5.2h0m.2 4.8h0m.1 7.1h0m.2-15.2h0m.1 .3h0m0 11.3h0m.1-3.1h0m0-6.8h0m.2 14.4h0m0-13.4h0m.1-5.6h0m0 12h0m.1-3.6h0m0 6h0m.1-3.1h0m0 7.2h0m0-7.9h0m.2-1.1h0m0-1.6h0m.1-.9h0m.1-.3h0m0 1.4h0m.1 6.2h0m0-6.8h0m0 15.6h0m.3-17.3h0m.1 13.9h0m.2-13.3h0m0 1.5h0m0-.7h0m.1-7.2h0m0 11.9h0m.1 1.5h0m0-1.2h0m.1-3.8h0m.1 2.3h0m0-5.6h0m0 1.6h0m0 4.3h0m.1 1.5h0m0 1.2h0m.1-4.9h0m.2-8h0m.1 3.3h0m.2 3.6h0m.1-3.1h0m.1-4.2h0m0 1h0m.2 7.5h0m.1-1.6h0m.2-.8h0m.1-2.6h0m0 4.3h0m.1 .7h0m.1-8.9h0m0 9.6h0m0 3.6h0m.1-11.2h0m0 8.9h0m0-.2h0m.2-2.4h0m.1-9.1h0m0 8.7h0m.2-9.1h0m0 9.3h0m.1 2.8h0m.3-2.5h0m.2-9.9h0m0 7.1h0m.1 7.2h0m0 .6h0m.1-5h0m0 4.6h0m.2 4.6h0m.1-13.5h0m0 5.7h0m.1-3.6h0m.1-1.5h0m.1 5h0m.1-6.7h0m.1 11.3h0m0-19h0m.1 20.6h0m.2-11.1h0m.1-1.3h0m.2 2.9h0m0 9h0m0-18.8h0m0 23.3h0m.1-3.1h0m.2-6.5h0m.1-3.5h0m.2-11.7h0m.1 15.7h0m.1-2h0m.1-2.4h0m.2 4.3h0m0-4.2h0m.2 1.3h0m0-8.4h0m.2 7.5h0m0 1.8h0m.3-4.5h0m0 .8h0m.1-1.1h0m.2-2.2h0m0 11h0m0-6.7h0m.1 1.7h0m0 3.8h0m.1-7.7h0m0 4.2h0m.1-.1h0m.3-4h0m0-.9h0m.1 1.6h0m0-.2h0m0 6.9h0m.1-8.5h0m0-1.1h0m.2 14.3h0m0-7.9h0m.3-1.4h0m.3 .3h0m.1-4.6h0m0-4.2h0m.1 10h0m.1-5.2h0m0 8.4h0m.4-10.4h0m0 5.8h0m.1-5.5h0m.2 9.3h0m.1-.2h0m.3-5.9h0m.1-3.2h0m.4 7.7h0m.1-.4h0m0-7.5h0m.1 7.4h0m.1-7.9h0m.1 3.6h0m.1 1.9h0m.1-3.2h0m.1 4.9h0m.1 3.9h0m0-6.8h0m.2-4.3h0m.2 3.8h0m.1 2.1h0m.4 .6h0m.4-8h0m.3 13.6h0m.5-5.4h0m.1-3.8h0m0 4.1h0m0-4.7h0m.3 7.5h0m.1-4.8h0m0-2.4h0m.1-2.1h0m.1 4.3h0m.3-1.9h0m.2 4.1h0m.3-2.3h0m.3-2.3h0m.8 9.3h0m.2 1.2h0m.1-10.7h0m0 4.3h0m.3-7.9h0m.1 5.2h0m.1-2.4h0m.7 1.3h0m.3-2.9h0m.1 7.8h0m.2-8.3h0m.1-1.3h0m.2 11.3h0m.4-3.5h0m0-9.3h0m.3 12.8h0m.5-7h0m.8-1.6h0m.3-.6h0m.8 3.4h0m0 .7h0m.5 1.3h0m.3-5.3h0m1.6-.2h0m.3 4.8h0m.3-5.3h0m.2-2.2h0m1-2.8h0m1.3 6.8h0m1.3-6.4h0m.5-1.8h0m.9 7.4h0m.1 2.4h0m1-6.9h0m2.9 5.6h0m.2-1.4h0m.4 4.1h0m4.3-8.5h0"/>
<path d="M256.2 337.1h0m12.9 17.2h0m1.3-17.4h0m2.3-4.1h0m.4-7.6h0m.6 12.5h0m1.5 4.9h0m0-1.3h0m.3 .7h0m.1-14.9h0m.5 9h0m.4 1.3h0m1.4 1.1h0m.1-8.4h0m.4 18.4h0m.1-21.6h0m.2 9h0m.2 7.8h0m0-7.9h0m.2-.2h0m.8 1.8h0m.2 2.7h0m.1 3.4h0m.1-7.3h0m.4 4.3h0m.3-9.7h0m.1 19.3h0m.3-2.9h0m.4-9.6h0m.1-2.4h0m0 6.8h0m1-15.3h0m0 14.3h0m.5 8h0m.2-7.4h0m.3 2.2h0m.1-12.4h0m0 3.7h0m.4-6.6h0m.2 13.9h0m.1-14.8h0m.1 23.2h0m0-15.9h0m.2 0h0m.4 3.8h0m.1-.2h0m0-5.1h0m.1 8.1h0m.1-12.3h0m0-2.2h0m.1 17.8h0m.1-7.2h0m.3-9.6h0m0 10.9h0m.3-1.6h0m.2-9.3h0m.2 10.4h0m0 2.4h0m.2-16.6h0m.2 5.5h0m0 8.5h0m.2 .8h0m0-5.3h0m0 2.1h0m0-1.5h0m0 4.1h0m.1-8.4h0m0 9.4h0m.1 1.1h0m.1-6.6h0m.1-7.5h0m0 9.5h0m.2-4.9h0m.1 18.7h0m.2-11.6h0m.2-12.1h0m.1 16.1h0m.2-7.1h0m.2 4.8h0m0-10.7h0m0 6.3h0m0 1.6h0m.5 3.1h0m.1-8.7h0m0 1.3h0m.3 4.3h0m0-1.3h0m0 .2h0m.2-1.8h0m.1 7h0m.4-20.7h0m0 10.4h0m0 4.5h0m0-4.1h0m.6 12.1h0m0-15.8h0m.3-3.2h0m.1 8.8h0m.1 3h0m.2-3.3h0m.2 4.5h0m.1-10.5h0m.3 4.5h0m0 5h0m.2-3.2h0m.1 3.1h0m.1 .7h0m0-2.2h0m.1 5.4h0m.1-10.6h0m0 15.9h0m.1-13.8h0m0 .6h0m.3 8.4h0m.4-7.6h0m.1-.9h0m.1-2.7h0m.2-3.6h0m.2 3.4h0m.2 1.6h0m.1-1.1h0m.1 6.4h0m0-4.4h0m.1 .3h0m0-3h0m.1 11.2h0m0-5.7h0m0 1.7h0m0-9.5h0m0 7.9h0m.2 2.1h0m.1 1.2h0m0-4.8h0m.1-1.8h0m0 12.7h0m0-7.6h0m.3-10.1h0m0 11.7h0m0-10.9h0m.1 2.4h0m.1-2.8h0m0 3.4h0m.1 4.1h0m.1-7.2h0m0 5.9h0m.1-4.3h0m.1 2.9h0m.2 4.2h0m.1-1.1h0m.1-3h0m.2 2.2h0m.1 5.7h0m.5-11.4h0m.1 1.6h0m.1 7h0m.1-12.3h0m.1 17.8h0m.1-12h0m0-.2h0m0 18.7h0m.1-21h0m.2 3.3h0m0 3.6h0m.2-5.4h0m.1 .7h0m.3 4.1h0m.1-3.5h0m.1 5h0m.3-6.1h0m0 1h0m.1 7.5h0m0-4.8h0m0-4h0m.2 2.5h0m.1-5.1h0m.2 7h0m.1 .9h0m0-1.6h0m.1-12.9h0m.1 11.6h0m.1-5.4h0m0 4h0m.1-2.2h0m.3 4.6h0m.1-1.7h0m.1-.5h0m0-5.2h0m.1 4.4h0m0 1.2h0m.1-4.5h0m0 15.6h0m.1-5.7h0m.1-.2h0m.1-3.3h0m.2-1.8h0m0 8.7h0m0-6.9h0m0-4.5h0m.1 6.4h0m.1-.8h0m0-2.8h0m.1-2.5h0m0-3.5h0m.2 6.5h0m.2 2.3h0m.1-12h0m.1 7.3h0m0 13.2h0m.1-9.1h0m.1-.7h0m0-2.5h0m.1-.7h0m0-2.6h0m0-4.1h0m.1 5.8h0m0 9.9h0m.3-3.4h0m0-7.4h0m.1-4.7h0m0 15.5h0m.2-2.3h0m0-3.8h0m.1-1.1h0m0-7.7h0m0 8.3h0m.1-9.2h0m0 14h0m0 3.6h0m.1-8.4h0m.4-4.6h0m0 4.6h0m.1-6.9h0m0 3h0m0 5.8h0m.1 2.5h0m.1-10.6h0m0 1.8h0m0-4.5h0m.1 7.3h0m0 7h0m.1-6.8h0m0-2.2h0m.1 4.5h0m.2 1.2h0m.1 5.7h0m.4-15.5h0m.4 9.2h0m0-4.8h0m0 11.2h0m.4-8.7h0m0 5.5h0m.1-4.5h0m0 2.4h0m.1 2.2h0m0 .1h0m.3-12.2h0m.1-3.8h0m.1 6.6h0m0-4.4h0m0 11.4h0m.1-1h0m0-11h0m0 12.7h0m.1-6h0m.1 .2h0m.1 1h0m.1-4.6h0m.1 4.1h0m0 6.3h0m0-13.8h0m.5-.4h0m.3 2.9h0m0-2h0m.2 7h0m0-6.1h0m0 3.3h0m0 2.1h0m.1 6h0m0-3.7h0m.3-3h0m.1 .7h0m0 3.5h0m0-2.7h0m0-6.5h0m.1 8.7h0m0-7.3h0m.1 3.7h0m0 6.8h0m.2 .1h0m0-8.7h0m.3 11.5h0m.1-14.3h0m.1 5.4h0m0 1.1h0m0-8.1h0m.3 8.5h0m0-2.7h0m0 5.3h0m.1-11.9h0m.3 5h0m.2-1.3h0m.1 5.6h0m0-2h0m0 7.9h0m0-12.2h0m0 8.5h0m.1-1.9h0m.1-5.4h0m.1-2.5h0m0 4.1h0m.2 3.1h0m.1-4.2h0m.4 2.6h0m.5 2.2h0m0 2h0m.2-17.1h0m0 9.3h0m.1-9h0m.1 9.8h0m0-4h0m.2 14.7h0m0-5.1h0m.1-10.7h0m.3 2.7h0m.1 17.2h0m.1-5.7h0m.2-5.6h0m.1-13h0m0 12.5h0m0 1.4h0m.1-11.3h0m.1 7.9h0m0-2.1h0m.2 2.1h0m0-.8h0m.1 2.3h0m.1 .1h0m.1 3.2h0m.1-5.1h0m0 3.3h0m.2 2.2h0m.1-4.1h0m0 2.6h0m.1-2.5h0m0-.7h0m.1 1h0m.1 2.9h0m.2-9h0m0 2.4h0m.1 6.7h0m0-2.7h0m0 1.7h0m.1-1.3h0m0 4h0m.1-9.2h0m.1 4.1h0m.2-.2h0m.1-3.6h0m.1 4.7h0m.1-.8h0m0 8.4h0m.1-3.9h0m.1-3.2h0m0-2.8h0m0 9.1h0m.2-3.7h0m.3-.8h0m0-2.1h0m0-4.3h0m.1-.2h0m0 1.6h0m.1-6h0m0-1.5h0m.1 14.2h0m.1-12.5h0m0 7.1h0m.1-1.1h0m.1 1.5h0m.1 5.4h0m.1-2.3h0m0-.1h0m0-6.3h0m0-1.9h0m.1 6.2h0m.2-5h0m.1-2h0m.2 6h0m.1-4h0m.6 10.2h0m0-11.3h0m0 3.7h0m.6 1.3h0m0-2.3h0m.1 4.6h0m0-.4h0m.3-6.6h0m.1 5.7h0m.4-8.1h0m.1 10.2h0m0-1h0m.1-8h0m0 5.8h0m.1 .9h0m0-.2h0m.1 5.4h0m.3-4.8h0m0 7.7h0m.4-14.3h0m.1 4.4h0m.1-1.6h0m0-2.5h0m0 6.2h0m.1-5.7h0m.1 2.3h0m0 4h0m.2-3.3h0m.1-4.6h0m0 1.5h0m.1 .8h0m.1 3h0m.1 .4h0m.1-2.3h0m.1 1.8h0m0-3.5h0m.3 4.6h0m0-2.5h0m.1 .3h0m.2-5.5h0m.5 15.4h0m.3-8.2h0m.2-2.7h0m.3 4.1h0m.3-11.3h0m.2 4.3h0m0-3.4h0m.4 7h0m0-4.9h0m0 8.5h0m.1-.4h0m.3 1.3h0m.1-1.1h0m.1-2.8h0m0-3.4h0m.2 1.6h0m.2 1.5h0m.3-.2h0m0-13.1h0m.1 13.8h0m.2 .5h0m.1-6.6h0m.6 7.7h0m.2-.8h0m.1 3.9h0m0-14.8h0m.1-3.5h0m.1 9.4h0m.4 2.6h0m.6-.3h0m.1 3.7h0m.1-8h0m.3-4.8h0m0 10.3h0m.1-5.4h0m.5 3.7h0m.1-.8h0m.3 7.1h0m.2-4h0m.3-4.7h0m.2-.9h0m1.3-.1h0m.1 6.8h0m.1-11.8h0m1.7 2.4h0m.2 1.2h0m.1 3.8h0m.2 .9h0m1.3-4.2h0m.7-.9h0m.3 3.5h0m.1-4.9h0m.3-2.8h0m.8 7.8h0m3.7-1.5h0m3.3 4.4h0m.8-7.9h0m.4 2.2h0m.2-.6h0m.5-2.2h0m.3 .9h0m8.9-2.8h0"/>
<path d="M254.5 345.9h0m3.9 2.5h0m.9-.2h0m1.3-1.6h0m3.5-5h0m7.2-9.6h0m.4-.9h0m.7 5.7h0m.6-2.1h0m.1-1.2h0m.7 4.6h0m.2-8h0m.3 19.5h0m.2-23h0m1.2 9.7h0m1.6 .9h0m1.5 1.2h0m.7 6.5h0m.4-17.2h0m0 11.7h0m.2 2.7h0m0-.1h0m.6-4.6h0m.1 4.1h0m0 1.3h0m.5-6.9h0m.3-2.4h0m.6-1h0m0 3.1h0m.3-1.7h0m.4 8.9h0m.1-5.3h0m0 8.6h0m.5-16h0m.6 4.3h0m.2 9h0m.1-3.5h0m.5-3.8h0m.1 3.2h0m.1-2.1h0m.1 3.8h0m0-1.5h0m.1-1h0m.2-1.1h0m0 2.1h0m.1-5.7h0m.2 4.7h0m.2-3.6h0m0 .9h0m.8 .9h0m.1 7.8h0m.1-17.4h0m.1 9h0m.1 3.6h0m0-10h0m.1-1.6h0m.3 4.5h0m0 11.1h0m.4-5.9h0m0-3.7h0m.1 .8h0m.1 6.4h0m0-1.3h0m0 1.5h0m.1-8.7h0m.3 .1h0m.1-5.5h0m.2 2.8h0m.2 7h0m.2-.1h0m.1-8.4h0m.1 13.2h0m.2-5.7h0m.4 1.8h0m.1-2.6h0m0-1.5h0m.1 2h0m.1-.8h0m.1-1.9h0m.4-7.8h0m.2 2.3h0m0 1.9h0m0 8.6h0m.1-10.7h0m0 7.5h0m.1-.4h0m0 .9h0m.2-.5h0m0-1.1h0m.1-.4h0m.1 4.5h0m.1-1.8h0m0 .4h0m.3-9.9h0m.3 7.7h0m0 6.9h0m0-20.5h0m.1 7.7h0m.3-.9h0m.3 12.2h0m.3-7.2h0m.2-10.8h0m.1 11.3h0m.3 7.7h0m0-12.1h0m.4 2.3h0m0 5.2h0m.1-6.1h0m.2 8.5h0m0-6.6h0m0 2.7h0m0-5.5h0m.2 1.9h0m0-2.9h0m.2 10h0m0-7.5h0m.1 1h0m0 .1h0m.1 7.6h0m0-2.4h0m.1 .3h0m0 2.1h0m0-16.1h0m.1 18.7h0m.1-3.8h0m.2-6.6h0m.1-1.8h0m.2-2.2h0m0 5.6h0m0-3.8h0m0 .5h0m.1-1.3h0m0 3.4h0m0-6.5h0m.1 19.5h0m.2-13.4h0m.2-2.8h0m0 7.1h0m0-5.3h0m.1 15.9h0m.1-4.9h0m.1-3.1h0m0-4.9h0m0-2.8h0m.1-.8h0m0-2.1h0m.1 7.7h0m.1-2.8h0m0 4.9h0m.1-11.3h0m.1 6.1h0m.1-3h0m.2 4.6h0m.1-3.4h0m0-3.4h0m.1 10h0m.1-5.7h0m.1 6h0m.1-7.3h0m0 2.5h0m.1-3.2h0m.2-3.5h0m.2-9.3h0m.1 21.4h0m.1-2.5h0m.1-6.4h0m0 6.9h0m.1-6.8h0m.1 3h0m.1 .5h0m.1 5.4h0m.1-8.4h0m0 9.6h0m.1-2.5h0m0-5.7h0m.1 7.3h0m0-8.7h0m0 3.9h0m.2 3h0m0-6.1h0m0 10.4h0m0-18.5h0m0 9.3h0m.1-4.1h0m0 4.7h0m.3-2.3h0m0-7h0m.1 5.7h0m.1 1h0m.1 5.3h0m.1-6.7h0m.1 2.9h0m0-6.5h0m0 5.2h0m.1 3.5h0m0-6h0m.5 7.6h0m0-4.1h0m0-.8h0m.2 4.4h0m.1-13.4h0m0 9.5h0m.2 4.7h0m0-12.7h0m.1 9h0m0 1.4h0m.1-1.1h0m.1-4.4h0m.2-5.2h0m.1 8.6h0m.1-1h0m.1-6.3h0m.2-2.6h0m.1 7.6h0m.1 1h0m0-2h0m.1-7h0m0 4.5h0m0-5.3h0m0 12.4h0m.1-.7h0m0-2.7h0m.1 1h0m0-2h0m0 8.9h0m.1-6.7h0m0 10.2h0m.3-13.2h0m0-1.7h0m0 3.4h0m.1 8.7h0m0-10.2h0m0 5.3h0m.2-3.1h0m.2 2.4h0m.2-4.9h0m.1 15.5h0m0-11h0m0-4.5h0m.1-2.7h0m.1 3.7h0m.2-1.6h0m0 6.5h0m.2-3.9h0m0 3.3h0m.1-4.9h0m0 1.9h0m0 2.2h0m.2-6.7h0m0 2.2h0m0 3.2h0m.2-1.2h0m.2-.3h0m.5 1.3h0m0-1h0m.1 4.9h0m.2-3.8h0m0 17h0m.2-20.2h0m0 8.8h0m.2-16.9h0m.1 15.1h0m.2-2.1h0m0-2.2h0m0 10.6h0m.1-22.7h0m0 16.3h0m0-6.9h0m0-4.3h0m0 9.6h0m.1 3.3h0m.1-9.2h0m.4-1.7h0m.1 4.6h0m.1-.6h0m0 9.5h0m0-11.4h0m0-4.1h0m.2 11.7h0m0-6.5h0m.1-11.9h0m.2 11.2h0m.1 3.5h0m0-.6h0m0-9.1h0m.1 5.7h0m0 11.1h0m0-12h0m.1 1.1h0m0 .1h0m0 1.1h0m.2-2.8h0m.2 .3h0m0 9.8h0m.1-12.9h0m0 1.6h0m.2 5.2h0m0-1h0m0-1.7h0m.3 .3h0m.1-.1h0m.1 3.4h0m.4 8.2h0m0-2.7h0m0-11.3h0m.1 5.4h0m.1 3.1h0m.1-6.6h0m0 3.9h0m0 3.3h0m.1 3h0m0-6.9h0m0-9.1h0m.1 7.7h0m0-6.1h0m.1 8h0m0-3.3h0m0 1.7h0m.1 3.8h0m.1 9.5h0m.1-18.5h0m.1 7.9h0m.1-3.7h0m.2 4.2h0m0-7.9h0m0-2.5h0m.1-4.5h0m0 7h0m.2 8.7h0m.1-12.6h0m0 16.8h0m0-5.9h0m.2-5.5h0m.1 .5h0m.3 .5h0m.1 7.3h0m0-3.4h0m.4 .9h0m0-12.6h0m.1 13.8h0m.1-9.3h0m.3 18.5h0m0-9.7h0m.1-8.4h0m.2 .3h0m.1 7.1h0m0-6.8h0m0 2.9h0m.1-1.2h0m.1 4.6h0m.2 9.7h0m.1-9.5h0m.1-1.9h0m.3-12.9h0m0 11.7h0m0 .7h0m.2 .9h0m.1-13h0m.2 9.3h0m.4 1.2h0m.2-6.5h0m.1 13.1h0m.1-1.6h0m.2-7.5h0m.1 2.7h0m.1-5.3h0m.2 5.5h0m.1-7.1h0m.1 4h0m0 10.6h0m.1-8.6h0m.1 .2h0m.1-6.5h0m.2 11.5h0m.2-12.7h0m.2 7.9h0m0 4h0m.1-1.4h0m0 6.3h0m.1-17.7h0m.2 4.7h0m0-.9h0m.1-1.4h0m.2 1.3h0m0-7.9h0m.2 15.4h0m.3-5.2h0m.2 8.6h0m.3-10.1h0m.1 8.4h0m0-8.9h0m0 6.4h0m0-2.7h0m.2 3.5h0m0-3.4h0m.1-4.8h0m.1 .1h0m0-.8h0m.2 0h0m.1 10.8h0m.1-14.2h0m.1 12.3h0m.2-2.3h0m.1 2.2h0m.1-4.6h0m.4 7.6h0m.1-11.6h0m.3 7.8h0m.1-11.5h0m.1 5.8h0m0 6.8h0m.1-6.3h0m.2-7.9h0m0 11.3h0m.1-4.4h0m0 5.4h0m.1 1.8h0m.2-7.5h0m.4-2.9h0m.6 4.6h0m.1-3.3h0m.1 1.7h0m.5 6.4h0m.1-5.3h0m.7 2.3h0m.1 3.5h0m.1-6.8h0m.2 2.7h0m.1-2.1h0m.4 2.6h0m.1 .9h0m0-9.4h0m0 5.3h0m.1 6.4h0m.6-4.7h0m.1 1.3h0m.4-3.5h0m.4 10.5h0m.3-11.8h0m.1-4h0m.1 5.4h0m.1 9.9h0m.1-13.3h0m.1 8.2h0m0-11.3h0m.5 18.2h0m.1-6.2h0m.1-2.9h0m.2 4.4h0m.1-3.2h0m0-.4h0m.6-2.2h0m0 2h0m.2-1.8h0m.6 2h0m.5-5.2h0m1.2 4h0m.2-4.8h0m0 3.1h0m.6 3.2h0m.6-.8h0m1.6-2.4h0m.3-2.3h0m.4 4h0m.2 1.6h0m.6-4h0m.8-1.3h0m1.7 2h0m1.2 .7h0m0-4.8h0m3.1-1.9h0m1-2.2h0m4.7 2.5h0m.5 .7h0m1.4 2.8h0m1-6h0"/>
<path d="M257 340.3h0m5.1-5.3h0m.1 14.3h0m1.8-1.3h0m2.5-9.9h0m1.4 9.2h0m1.1-3.9h0m.6-7.9h0m1.4 7.4h0m.2 .3h0m.7-10.6h0m.9 13.7h0m1.1-3.8h0m.1 1.7h0m0-10.1h0m.5 8.7h0m.1-5.9h0m.2 8.4h0m.2 2.5h0m.3-11.6h0m.6-3.2h0m.5 4.3h0m.1-3.3h0m0 4.7h0m.9-6.5h0m.2-2h0m.2 6.6h0m.4-8.1h0m.5 2.8h0m0-2.1h0m.7 12.9h0m0-11.7h0m.1-.1h0m0 8.8h0m.3-2.8h0m.3-4.5h0m0 7.2h0m.2-4.8h0m.5-5.6h0m.2 17.7h0m.2-17.8h0m.4 4.2h0m.1 10.2h0m.3-2.7h0m.1 3.2h0m.2-7.9h0m.4-4.9h0m.5 8.5h0m.6 4.5h0m.2-6.6h0m.2-3.4h0m.1-5.4h0m0 9.8h0m.6 1.9h0m.1-1.6h0m.1 .7h0m.2 6.9h0m0-5.7h0m.3 2.2h0m.1-5.5h0m.1 2.1h0m.5-5.5h0m.2-4.2h0m.1 11.1h0m.2-10.5h0m.1 11.6h0m0-4.7h0m.1 2.4h0m.2-.6h0m.1-7.2h0m.1 7.6h0m.1-5.7h0m.3 6.3h0m.1-5h0m0 6.9h0m.1-8.8h0m.1 4.5h0m0 14.1h0m0-15.6h0m.5-4h0m.1 4.5h0m.1 2.3h0m0-4.3h0m.2-1.7h0m.4 7.8h0m.1-10.1h0m0 9.7h0m.4 6.9h0m.1-14.7h0m.3 4.1h0m.1-7.6h0m.5 1.5h0m.1-2.6h0m0 18.1h0m.3-6.8h0m.1-4h0m0-3.5h0m0 14.1h0m.3-18.8h0m.1 8.5h0m.1-3.2h0m0 2.3h0m.3 8.7h0m0-9.4h0m.1 3.3h0m.1-3.1h0m0-8.7h0m.1 6.1h0m0 6.5h0m0-4.2h0m.2 .4h0m.1-.8h0m.2-1.4h0m.1 1.8h0m0 2.5h0m0 1.4h0m.2-1.9h0m0 12.4h0m.1-13.9h0m.2-3h0m0 1.9h0m.1-5h0m0 3.3h0m.1-1.4h0m.2 6.6h0m.2-3.7h0m.1 7.4h0m.1-3h0m0-4.2h0m0 16h0m.2-23.5h0m0 5.5h0m0-1.9h0m.2 2.4h0m0 11.3h0m.3-7.9h0m.2-6h0m0-2.9h0m.1 11.6h0m0-3.9h0m0-6.2h0m0-.7h0m.2 4.9h0m.3-5.9h0m.1 17.1h0m.2-15.1h0m.1 3.3h0m.1 3.3h0m0-5.2h0m.1 3h0m.1 8h0m0-11.2h0m.2 3.1h0m0-.3h0m.1-4.4h0m.1 5.6h0m0-3.1h0m.1 8h0m.1-8.5h0m0 8.5h0m.2 1.1h0m.1-6.2h0m.2 4.4h0m.2-5.9h0m0 5.6h0m0-15.7h0m.2 10.4h0m.2 4h0m.1 .1h0m.2-7.8h0m.2 6.1h0m.1-6.2h0m0-6h0m.1 10h0m0-1h0m0 6.6h0m.2 2.4h0m0-15.8h0m0 9.2h0m.2-.8h0m0 16.8h0m0-18.5h0m.3 3.2h0m.1 1.5h0m.1-5.2h0m0 5.7h0m.2 3.2h0m.1-10.9h0m.1 3h0m0-.9h0m.3 3.9h0m0-1.8h0m.2-1h0m.2-3.1h0m.1 .8h0m.1 6.9h0m0-6.3h0m.1-.8h0m.1 8.4h0m0-5.7h0m.1 1.4h0m.2-3.3h0m0 6.8h0m.1 .3h0m.1 1.1h0m0-7.4h0m0 1.1h0m.1-1.7h0m0 .6h0m.1 1.3h0m0-11.2h0m0 11.9h0m.1-1.6h0m.2-.5h0m.1-1h0m.1-3.3h0m0 6.2h0m0-.8h0m0-11.2h0m.1 14.7h0m0-2h0m0 .9h0m.1 1.7h0m0-5.2h0m0 8.6h0m.3-5.3h0m0-10.2h0m.1 5.9h0m.1 5.7h0m0-8.2h0m0 8.7h0m.1-11.5h0m.1 1.1h0m0 1.2h0m.1-1.3h0m.1 7.6h0m.1-4.6h0m.1 4.6h0m0 1.8h0m.1 .6h0m0-4.9h0m.1 2.5h0m.1-8.5h0m0 3.5h0m.1 .9h0m0-2h0m.1 9.1h0m0-4.4h0m0 4.5h0m.1-7.8h0m0-4.5h0m.1 2.2h0m.1 7.1h0m0 1.7h0m.1-2.3h0m.1-3.2h0m.2 5.7h0m0-2.8h0m.1 .2h0m0-6.3h0m.1 5.2h0m0-4.7h0m.1 4.5h0m.3 4.1h0m.1-1.7h0m0-9.4h0m.2 9.7h0m.2-9h0m.1 7.6h0m.1-.5h0m0 6.1h0m0-14.5h0m.2 11.6h0m0-8.1h0m0 4.1h0m.2-2.8h0m0 5.4h0m.4-5.2h0m.1 14.4h0m0-18.4h0m.1 6.9h0m.2-6.2h0m0 1.3h0m0 12h0m0-5.1h0m.1-6.9h0m.1 3.9h0m.1 2.1h0m0-6.9h0m.1 10.3h0m0-1.7h0m.2-13h0m0 12.9h0m.2 .6h0m0-.6h0m.1 7.4h0m0-11.4h0m.1-1.4h0m0 1.5h0m.1-1.4h0m0-.6h0m.2-3.7h0m.1 3.1h0m0 4h0m0 5.3h0m.1-6.8h0m0 1.1h0m.1-4.5h0m.1 6.5h0m.1-1.6h0m0-2h0m0-4.4h0m.1 1.4h0m.1 5h0m.2 5.5h0m0-6.5h0m.2-3.1h0m0-7.5h0m.2 13.3h0m.1 1.5h0m0-10.7h0m0 9.1h0m.1-8.7h0m.1 3.3h0m0-.4h0m.4 .8h0m.1-1.1h0m.2-3.3h0m.1 4.6h0m.1 6.7h0m.1-10.2h0m0 2.6h0m.1-1.7h0m.2 3.2h0m.1-8.3h0m.3 10.6h0m.1-3.9h0m.2 4.6h0m0-5.6h0m.2-.5h0m.1 6h0m.1-.1h0m.3-4.4h0m.1 3.2h0m.1 2.7h0m0-9.1h0m0 5.3h0m.2-4.6h0m.1-1.2h0m0 7h0m0-.6h0m.2-4h0m.5-2.8h0m.1 1.9h0m0-1.6h0m.4 2.9h0m.1 4.2h0m.2-13.4h0m.1 16.9h0m0-2.6h0m.1-4.8h0m0-2.8h0m.1 13h0m0-3.5h0m0-14.1h0m0 12.6h0m.1-.7h0m.5 1.1h0m0-7h0m0-2h0m.1 12.6h0m0-19.8h0m0 1.4h0m.1-.3h0m.2 13h0m.2-2.7h0m.1-6.4h0m0 9.3h0m.1 3.3h0m0-7.6h0m0-1.9h0m.1 8.2h0m.1-1.1h0m.2 1.6h0m.1-3.2h0m0 .3h0m.1-12.6h0m.1 5.2h0m.2 6.4h0m.1 .3h0m.3-7.8h0m.2 4.2h0m0-6.8h0m0 6.1h0m.2 7.7h0m0-9.2h0m.2 2h0m0 5.5h0m0-3.4h0m.2-6.8h0m.1-2.9h0m0 15.4h0m.2 1.3h0m0-4.9h0m.1-8.3h0m.1 .8h0m0 4.1h0m.2 3.2h0m0-2.8h0m0-11.4h0m.1 6.9h0m.1 3.1h0m.2-5.5h0m.3 4.1h0m0 10.1h0m.1-11.5h0m0 5h0m.1-5.8h0m0 3.1h0m.1 2.8h0m0 1h0m.1-2.7h0m0-4.1h0m0-4.8h0m.2 6.9h0m.2 4h0m0-4.4h0m.2 5.5h0m.2 2.9h0m0-12.4h0m.1 11.2h0m0-8.5h0m.2 4h0m.2 3.4h0m.2-4.3h0m.2 2.7h0m.1-7.4h0m.2-.8h0m.1 1.6h0m.2 7.7h0m.1 3.9h0m.3-10.1h0m.2 4.8h0m.1-5.4h0m.3-1.5h0m.3 5.5h0m.2-3.5h0m0 5.4h0m.2 .1h0m.3-3.3h0m0-.5h0m.1-3.8h0m.1 4h0m.1 10h0m0-14.8h0m.4 4.5h0m.4-6.7h0m.1 4.9h0m0-4h0m.4 4.9h0m.8 1h0m.4-6.5h0m.1 9.7h0m.1-9.2h0m.4 4.6h0m0 5.9h0m.2-10.5h0m0 6.5h0m0-3.2h0m.4 5h0m.1-4.4h0m.5 3h0m.1-1.5h0m.3 3.7h0m.1-8.1h0m.3-1.6h0m.5 1.4h0m.1 6.8h0m.1-2.8h0m0 9.9h0m.5-10.2h0m.3 1.9h0m.6-6.8h0m.2-1.4h0m.3 1.4h0m0-1.4h0m.1 3.7h0m.1 3.1h0m1.3-2.8h0m.3-2.2h0m.6 5.9h0m.2-4.5h0m.1 1.9h0m.3-1.2h0m.4 2.1h0m1.1 5.5h0m.8-6.6h0m1.1 2.9h0m2.4-4.6h0m.2-.7h0m2.3-5.3h0m.4 11.1h0m.2-.3h0m1.2-7.6h0m14.9-4.5h0"/>
<path d="M258.4 353.2h0m7.2-13.5h0m.8 2.3h0m.5-5.3h0m.8 1.8h0m1.5-10.6h0m.4 14.7h0m.1-1.4h0m.2-8.9h0m.1 13h0m.9-11.1h0m.8 1.6h0m.1-3.6h0m2.7 5.4h0m.1-1.6h0m.6 6.7h0m1.2 3.6h0m.1-.5h0m.2-7.2h0m.7-9.1h0m.1 16.7h0m.1-6.8h0m.5 1h0m.2 5.8h0m.1-3.4h0m.8-10.9h0m.7 7h0m0-1.2h0m.9-1.2h0m.2 1.9h0m.7-5h0m.4-3.8h0m.5 12h0m.1-6.5h0m.2 11.5h0m.1-7.6h0m.1-.4h0m.3-7.7h0m.2-2.7h0m.2 11h0m.2-2.2h0m.2-.5h0m.3-9.1h0m.3 20.9h0m0-26h0m.2 18.4h0m.2-7.1h0m.2 6.5h0m.4-9.7h0m0-1.1h0m.4 13h0m.2-6.9h0m.2-2.9h0m0 4h0m.1-3.1h0m0 2.2h0m.1 2.3h0m.1-.9h0m0-8h0m.3 4.1h0m.8 0h0m0-1.7h0m.5 2.8h0m0-.9h0m0 .3h0m.1-4.1h0m0 10.4h0m.3-11.4h0m0 12.1h0m.3-19.9h0m.5 11.2h0m.2 6.2h0m0-3.2h0m.3 8.6h0m0-7.5h0m.2 11.9h0m.2-10.2h0m0-3.1h0m.2 4h0m.3-11.2h0m0 14.1h0m.1-5.9h0m0 2.5h0m0-16h0m.2 9.9h0m0-6.4h0m.2-.7h0m0 14.4h0m.5-20.4h0m.2 14.1h0m0 2h0m0 6.2h0m0-6.9h0m.4-1.7h0m0 10.9h0m.3-14.9h0m0-1.9h0m.2 13.2h0m0-10.5h0m.1 3.9h0m.1-9.3h0m.1 .7h0m.1 12.4h0m.1 .1h0m0 5.8h0m0-10h0m.2-.8h0m.1 9.6h0m.1-6.2h0m0-6.3h0m.1-6.8h0m.1 13.4h0m0-1.4h0m.2-4h0m0 9.9h0m.1-6.9h0m.2 5.5h0m.3-4h0m0 3.2h0m0-12.6h0m.1 3.9h0m.1 9.3h0m0-7.5h0m0 1.5h0m.1 2.8h0m.1 1h0m.1 1.2h0m0-3.3h0m.1-1.3h0m.2 5.6h0m.2-5.5h0m.1 6.1h0m0-7.1h0m.1 7.6h0m.2-5.1h0m0 2.1h0m0-3.5h0m0 .5h0m.2 5.3h0m.2-9.5h0m.1-1h0m0 11h0m.1-9.3h0m0-3.3h0m0 9.4h0m0 1h0m.1-8h0m.2-1.7h0m0 11.8h0m.1-15.6h0m.1 13.5h0m.1 .6h0m.1-.1h0m0 6.1h0m.1-11.8h0m.1 4.3h0m.2-10.9h0m0 5.8h0m.1-4.6h0m.2 5.5h0m.1 1.3h0m.2-7.8h0m0 5.8h0m.1 1.4h0m.3-5.2h0m0 4.9h0m.1-10.4h0m.1 9.1h0m.1-6.7h0m.1 14.8h0m0-9.3h0m.3 4.6h0m0-8.7h0m.2 4.5h0m.1-9h0m0-3.3h0m.1 10.5h0m0 2.7h0m.2 5.1h0m.2-.7h0m.2 6.6h0m.2-14.1h0m0 12.3h0m.1-16h0m0 5.9h0m0 1.9h0m0-2.1h0m.1-.6h0m0 11h0m.1-8.4h0m0 4.9h0m.2-2.3h0m0 8.1h0m0-14.6h0m.1-.4h0m0-1.9h0m0 7h0m.1-1.2h0m0-2h0m.1-1.6h0m.1-2.3h0m0 12.8h0m.1-10.4h0m0-6.9h0m0 7.5h0m0-4.3h0m.1 1.8h0m0 6.1h0m.2-4.7h0m0-4.1h0m0 12.1h0m.1-.2h0m0-2.7h0m0 3.7h0m.1-4h0m0 3.3h0m0-5.5h0m.1 9.1h0m0-14.2h0m.1-3.9h0m.1 13.7h0m.1-6.6h0m0 3.7h0m0-3.1h0m.3-4.7h0m.1-6.7h0m.1 16.7h0m.1-3.1h0m0-4.6h0m.1-5.7h0m0 18.4h0m.2-10.1h0m.2-2.7h0m0-3.3h0m.1 8.1h0m0-7h0m.2 1h0m0 2.5h0m0 4.1h0m.1 .1h0m.2-4.8h0m.1 .4h0m0-2h0m.2 9.5h0m.1-4.3h0m.1-3.6h0m0 4.4h0m0-2.4h0m.2-1.7h0m0-1.6h0m0 2.9h0m.1 3.3h0m.2 3.2h0m.1-20.4h0m0 10.8h0m.1 6.4h0m.1-12.1h0m.1 7.3h0m.1-6.2h0m.1 13.1h0m.4-6.2h0m.2 3h0m.1-5.5h0m.3 4.3h0m0-6.5h0m0 4.3h0m.1 0h0m0 2.9h0m.2-9.3h0m.1 8h0m.2 8h0m.1-8.6h0m.1 2.2h0m.1-6.5h0m0 3.4h0m0-4.2h0m.2 14.9h0m.1-10.7h0m.4 1.1h0m.2-.2h0m.1 3h0m.2 .5h0m.1-12.2h0m0 6.3h0m.1-3.5h0m.2 1.8h0m0 9.2h0m.1-7.1h0m0-6.9h0m.1 3.8h0m.5-1.3h0m.1 6.9h0m.1-2.7h0m.2-4.5h0m0 10.8h0m.1-1.6h0m.2-3.2h0m0-2.8h0m.3 6.6h0m.1-7.2h0m.1-6.2h0m.1 12.6h0m0-5.7h0m0-.7h0m.1-.2h0m.1 6.8h0m.1-1.1h0m.1 3.9h0m0-7.6h0m0-3.7h0m.1 4.3h0m0-3.4h0m0 9.9h0m.1-9.1h0m.2 5.6h0m0-1.6h0m0 3.9h0m.1-14.4h0m.2 6.8h0m.1 .3h0m.2 1.1h0m.1 3.3h0m0 3.3h0m.1 3.6h0m.1-12.2h0m0 5.8h0m.1 .9h0m0-4.6h0m0 2.3h0m.1 4.1h0m0-1.8h0m.1-2.4h0m.2 2.4h0m.2-6.1h0m0 4.2h0m.1-3.1h0m.1 3h0m.2-5.7h0m.1 .7h0m0 4.7h0m.1 .2h0m0-.1h0m0-8.1h0m.1 9.3h0m0 .3h0m0-2.5h0m.1-7.7h0m0 6.8h0m.1 2.9h0m.1 1.3h0m0 9.3h0m.1-13.2h0m0 0h0m.1-6.6h0m.1 .6h0m0 1.8h0m.1 8.3h0m.1-16.5h0m0 14.6h0m.1-3.7h0m.1 1.2h0m.1-6h0m.1 10.1h0m.2-12.2h0m0 13.4h0m.1-4.1h0m0-2.7h0m0-.9h0m0-1.6h0m.1 7.5h0m0-3.9h0m.3 1.2h0m.1-1.8h0m0 4.2h0m.2 2.2h0m.2-6h0m0-2.3h0m.1 .5h0m0 1.2h0m.2-4.6h0m0 9.7h0m.1 4h0m.1-14.6h0m0 1.3h0m0 2h0m0-1.1h0m0 2.8h0m.2-1.8h0m.1-.6h0m.1 1.9h0m0 8.4h0m.1-6.7h0m0-1.6h0m.1 2.6h0m0 6.5h0m.1-10.9h0m.3 .3h0m.2-.5h0m0 6.3h0m.1 1h0m.1 1.6h0m0-9.9h0m.1 5.2h0m.1 5.6h0m.1-1.2h0m0-5.7h0m0-.9h0m.2 3.1h0m.1-6h0m0 11.4h0m.1-10.5h0m.1 2.9h0m.1 1.4h0m0 3h0m0-.3h0m1.2 1.3h0m0-10.5h0m.1 1.5h0m.4 8.3h0m0-5.9h0m.3 8h0m.1-9.7h0m.2 .1h0m.2 2.5h0m0-6.7h0m.1 2.4h0m.4-.3h0m.1 9.2h0m0-9.1h0m.2 1h0m0-2.4h0m0 11.7h0m0-7h0m0 4.5h0m.1-11.2h0m0 9.4h0m.3-3.9h0m.4 7.1h0m0-11.9h0m.1 1.6h0m.1 .5h0m.1 .9h0m0 7.6h0m0-6.5h0m.2-.3h0m0 .4h0m.2 3.3h0m0 .2h0m.2-5.4h0m0 2.9h0m.1-.5h0m.1-1.5h0m.1 10h0m.1-12.5h0m0-.6h0m.2-.9h0m.1 9.1h0m.3-3.5h0m.2 1.5h0m.3 3.9h0m.4-5.2h0m.2 1.6h0m.2-3h0m.2 3.4h0m.4-3.1h0m.1-7.6h0m.9 21h0m.4-13.2h0m.2 .5h0m0-2.8h0m.2 4h0m.1 .5h0m1.7 3.9h0m.2-5.7h0m.1-2h0m.1 3h0m.1-2.9h0m0-2.8h0m.1 1.7h0m.5 1.8h0m.3 1.5h0m.1-2.6h0m.8 4.1h0m1.2 1.4h0m.3-1.9h0m.3 2.3h0m.4-5.1h0m1.1-4.4h0m1.6 2.5h0m1 5h0m0-3.9h0m.2 1.8h0m.4-2.7h0m.1-3h0m0 2.2h0m.8-2.4h0m1.1 1.9h0m.1-1.5h0m1.1-4.1h0m.5 7.9h0m1.1 6.2h0m.3-7.6h0"/>
<path d="M261.6 341.8h0m3.2-1.7h0m2.3 .4h0m.7-4.9h0m1.3 10.7h0m1.1 6.8h0m3-17.2h0m.2 5h0m.8 2.3h0m.6-4h0m.3 11.6h0m.1-15h0m3 5.8h0m0-5.1h0m1.3 7.3h0m.1-4.4h0m.1-4.8h0m.1 5.7h0m.1 5.8h0m.1-13.8h0m.2 11.8h0m.5-5.7h0m.2 .4h0m.5-14.5h0m.4 10.1h0m.3 14h0m.1-16.9h0m.2-1.2h0m.3 5h0m.1 1.7h0m.3-6.3h0m.4 .6h0m0 12.9h0m.7-12.5h0m0-2.8h0m.1-3.1h0m0 4.6h0m0 .2h0m.6 2.3h0m.2 6.7h0m0 .1h0m0-9.5h0m.1 4.6h0m0-.7h0m.1 1.5h0m.1 5h0m.1-4.9h0m0-.5h0m.1-2.6h0m.1 7.9h0m.2-1.7h0m0 2.1h0m0-13.8h0m.9 7.9h0m.1-5.3h0m.4-.3h0m.2 10.7h0m0 10h0m.1-2.8h0m.4-15.2h0m.1-2.9h0m.2 2.4h0m.3 7h0m.1-6.3h0m.7-.5h0m.1 16.4h0m0-8.4h0m.2-3.7h0m.3-2.7h0m.3 3.7h0m0-7.8h0m0 5h0m0 .7h0m.4-.1h0m.2-.1h0m0 7.6h0m.2-5h0m.2-2.7h0m.2-5.3h0m.2 7.7h0m.1-1.2h0m0-.2h0m.3-4.4h0m0-11.7h0m.2 13.1h0m.3-2.4h0m0-1.3h0m.1 1.7h0m0 .2h0m.3 5.3h0m.1-10.8h0m0 11.9h0m.1-1.6h0m.1-2h0m0 12.8h0m.2-14.6h0m0-7.4h0m.5 20.9h0m.1-9.7h0m0-1.8h0m.1 .8h0m0-6.9h0m0-5.6h0m.2 13.7h0m.2 2.5h0m0-4.9h0m.2-2h0m.2-1.2h0m.1 1.1h0m.2 .6h0m0 .5h0m.1-1.1h0m0-4.7h0m.1-1.2h0m0 6.2h0m.1-1.6h0m.1-1.6h0m.1 3.7h0m0-2.8h0m0 3.8h0m.1-3.7h0m0 15.6h0m.1-3.9h0m.1-8.9h0m.1 .1h0m0 6.5h0m.1-10.1h0m.4-6.2h0m.1 12.3h0m.1-6.8h0m.2 8.3h0m.1-6.5h0m0 2.9h0m.1-5.2h0m.1 8.2h0m0-10.1h0m.1 8.5h0m0-.8h0m0-3.5h0m0 5.6h0m.1-5.6h0m0 5.4h0m.1-5.4h0m0 4.6h0m.1 2.2h0m.1-5.6h0m0 6.4h0m0-1.9h0m0-4.6h0m.3 2.7h0m0 1.3h0m.1-4.6h0m.1 5.6h0m.2-8.8h0m0 3.8h0m.2 7.3h0m0-5.3h0m.1-2h0m0 1h0m0 3.1h0m0-6.4h0m.1 .4h0m0 0h0m.4-.6h0m.2-6.9h0m0 12.3h0m.1 3.6h0m0-4.9h0m.1 2.2h0m0-6.9h0m0-.2h0m0 13.6h0m.2-16.1h0m.1 11.1h0m.1-3.7h0m0-1.6h0m0 2.9h0m.1-5.4h0m0-.7h0m0-3.4h0m.1 7.3h0m.3 11.2h0m0-13.9h0m.2 3.6h0m.1 6.2h0m0-9h0m.2 6.7h0m0-.8h0m.4-6.9h0m0-6.4h0m.2 14.8h0m0-16.5h0m0 6.2h0m.2 6h0m.3-11.9h0m0 7.8h0m0 4.9h0m0-5h0m.1 3.1h0m0 3.5h0m0-5.5h0m.1 7h0m.2-14.3h0m.1 7.1h0m.5 6.8h0m0-7.3h0m.1-3.7h0m0 2.6h0m0 10.8h0m.1-10h0m0 4.2h0m.1-.6h0m0-8.5h0m.1 8.5h0m0 2.4h0m0-8.9h0m.1 1.3h0m.1 6.4h0m.1-7.7h0m.1 5.9h0m.2 2.4h0m.1 1.5h0m0-4.7h0m0-1.7h0m.1-3.3h0m.2-1.7h0m0 4.8h0m0 6h0m.1-2.8h0m0-.6h0m0 9h0m0-14.7h0m.2 7.1h0m.1 3.1h0m.1-9h0m.1 3h0m0-.5h0m.1 4.5h0m0 .1h0m.2 4.6h0m0-7.4h0m0-7.2h0m.1 7.1h0m0-6.2h0m.2 2.5h0m.1-4.2h0m.1 7.2h0m.1 6.8h0m0-11.4h0m0 1.9h0m.2-2.8h0m0 4.5h0m.2 1.9h0m0 .5h0m.1-8.3h0m0-.9h0m0 7.9h0m0-6h0m.2 12.2h0m.3-16.7h0m.1 5.2h0m0 5.4h0m.3 1.4h0m.1-12.1h0m0 21.2h0m0-13h0m.1 3.2h0m.1-5.2h0m.2 3.3h0m.1-.4h0m0-.8h0m0 4h0m0-4h0m.1 1.1h0m0-3.5h0m.1 2.3h0m0 1.8h0m.2 2.4h0m0-4.1h0m.1 2.7h0m.1-3.6h0m.1 4.4h0m.1-4h0m.2 2.5h0m0-8.3h0m.3 10.1h0m.1-10.2h0m0 1.6h0m.1-1.7h0m.2 7.5h0m.1-8h0m0 4.3h0m.1 .9h0m.1 7.2h0m0-7.4h0m.1 2.4h0m.3 2.2h0m0-3.3h0m0 4.8h0m.1-5.7h0m0 9.5h0m.2-11.6h0m.1 2.7h0m0 2.9h0m0-1.4h0m.1-.4h0m.1 8.6h0m0-4h0m.2-5.1h0m0-1.1h0m0 3.5h0m.1-3.3h0m0-.8h0m.1 .2h0m0 .6h0m.1-4.4h0m0 .2h0m0 2.2h0m.2 2.8h0m0-1.2h0m0-.1h0m.1-3.4h0m0 1.5h0m.2 4.8h0m0 1h0m.2-6.1h0m.1 11.9h0m0-4.5h0m.1-2.2h0m0 4.3h0m.1-.8h0m.2-6.6h0m.1-2.4h0m.1 4.2h0m.1-10.1h0m.1 4.3h0m.1 4.7h0m0 3h0m0-2.1h0m.1 .9h0m.1-2h0m.2-8.7h0m0 3.2h0m0 7h0m.2-2.6h0m.3-3.2h0m.3-.4h0m0 3h0m.1 .7h0m0-4.6h0m.1 1.4h0m.1 5.7h0m.1 3.9h0m.4-10.9h0m.1 8h0m.1-3h0m.2-2.6h0m.1 5.8h0m0-1.7h0m.1-3.3h0m.1 6.1h0m.1 .8h0m.1-5.7h0m0 3.3h0m0-4.2h0m.6 2.1h0m.2 .5h0m0-.6h0m.1 .7h0m.1 4.5h0m.1-.8h0m0-.9h0m0-7.6h0m0 3h0m.1 9.9h0m0-6.9h0m.4 .6h0m.1-2.6h0m0-1.7h0m.3 5.4h0m.1-5.7h0m.1 1.7h0m0-1.5h0m.1-4.9h0m0 13.4h0m.1-2h0m.2-5.2h0m.1-.6h0m.1 1.5h0m.3-3.2h0m.1-4h0m.1 .7h0m.1 1.6h0m0 4.9h0m.4-.6h0m.2-3.7h0m.1 .7h0m.4 6.4h0m0-1.1h0m.4 1.9h0m.1-7.1h0m.1-1.1h0m.3-.2h0m.3-3.9h0m.2 8.5h0m.2 2.2h0m.1-2.9h0m.1-7.9h0m.3-.1h0m0 4.6h0m0 7.5h0m.1-7.8h0m.1-.5h0m.4-.6h0m.2 6.2h0m0-12.9h0m.1 3.3h0m.1 5.6h0m.1 .9h0m0-8.2h0m.1 3.5h0m.4 5.5h0m.2 2.3h0m.1-10.8h0m.1 10.9h0m.2-4h0m.2 2.3h0m0-5.8h0m.1 3.5h0m.1-6.1h0m.2 5.3h0m.1 6.7h0m.3-7.5h0m0 1.8h0m.2 .3h0m0-7.5h0m.2 15.3h0m.1-14.3h0m0 5.9h0m0-9.9h0m.3 15.4h0m.1-10.7h0m.1 4.6h0m.1 .9h0m.1-5.7h0m0 5.3h0m.3 .2h0m.4 .3h0m.2 .2h0m.2 .7h0m.2-11.1h0m.6 8h0m.2-3.2h0m.1-.4h0m.1 7.8h0m.7 3.7h0m.2-3h0m.5-6.9h0m0-5h0m.1 5.5h0m.2 3.6h0m1 .7h0m0 3.7h0m.1-5h0m.1 1.5h0m.1-2.5h0m.8-.3h0m.1-3.4h0m.2 3.4h0m.3 .9h0m.6-1.4h0m.1 6.2h0m.2-3.8h0m.8 .1h0m.4-3.5h0m.8-2.2h0m.1 3.1h0m.6-.2h0m2.2-2h0m.3-3.7h0m.8-1.8h0m.3 2.1h0m.3-1h0m.8 3.1h0m1.8-3.3h0m1.1-1.6h0m.5 1h0m.2 10h0m.2-9h0m.3 2.6h0m.8-3.1h0m.2 2.8h0m1-5.7h0m2.8 8.6h0"/>
</g>
</g>
<rect x="120.4" y="73.3" width="696.6" height="462.49999999999994" fill="none" stroke="#d6d6d6" stroke-width="1.1"/>
<g font-size="28.9">
<text x="150.1" y="560.8" text-anchor="middle">−0.08</text>
<text x="291.6" y="560.8" text-anchor="middle">−0.04</text>
<text x="433.1" y="560.8" text-anchor="middle">0.00</text>
<text x="574.6" y="560.8" text-anchor="middle">0.04</text>
<text x="716.1" y="560.8" text-anchor="middle">0.08</text>
<text x="115.9" y="104.3" text-anchor="end">0.08</text>
<text x="115.9" y="214.8" text-anchor="end">0.04</text>
<text x="115.9" y="325.3" text-anchor="end">0.00</text>
<text x="115.9" y="435.8" text-anchor="end">−0.04</text>
<text x="115.9" y="546.2" text-anchor="end">−0.08</text>
</g>
<text x="469.2" y="67" font-size="31.2" text-anchor="middle">PCA of dataset</text>
<text x="468" y="595.6" font-size="30.8" text-anchor="middle">dim 1</text>
<text transform="translate(35.2 307.5) rotate(-90) scale(0.905 1)" font-size="30.2" text-anchor="middle">dim 2</text>
<g font-size="20.85">
<rect x="138.7" y="94.0" width="41.9" height="14.6" fill="#2fa048" stroke="none"/>
<text x="197.4" y="108.2">Si Sph, TM</text>
<rect x="138.7" y="125.4" width="41.9" height="14.6" fill="#d5272a" stroke="none"/>
<text x="197.4" y="139.6">PEC Sph</text>
<rect x="138.7" y="156.8" width="41.9" height="14.6" fill="#9268ac" stroke="none"/>
<text x="197.4" y="171.0">Al Cross</text>
<rect x="138.7" y="188.2" width="41.9" height="14.6" fill="#2176b5" stroke="none"/>
<text x="197.4" y="202.4">Si Sph, 0deg</text>
<rect x="138.7" y="219.6" width="41.9" height="14.6" fill="#f57f20" stroke="none"/>
<text x="197.4" y="233.8">Si Sph, 30deg</text>
<rect x="138.7" y="251.0" width="41.9" height="14.6" fill="#8b564c" stroke="none"/>
<text x="197.4" y="265.2">Si Sph, 13deg(Base)</text>
</g>
<text y="35.8" font-family="'Liberation Sans',Arial,sans-serif" font-weight="bold" font-size="41" fill="#000" stroke="none"><tspan x="24.0" font-size="42.7">(</tspan><tspan x="38.0">a</tspan><tspan x="60.5" font-size="42.7">)</tspan></text>
<g stroke="#cfcfcf" stroke-width="1.4" fill="none">
<line x1="1019.4" y1="70.4" x2="1019.4" y2="531.9"/>
<line x1="1120.0" y1="70.4" x2="1120.0" y2="531.9"/>
<line x1="1220.6" y1="70.4" x2="1220.6" y2="531.9"/>
<line x1="1321.2" y1="70.4" x2="1321.2" y2="531.9"/>
<line x1="1421.9" y1="70.4" x2="1421.9" y2="531.9"/>
<line x1="1522.5" y1="70.4" x2="1522.5" y2="531.9"/>
<line x1="1623.1" y1="70.4" x2="1623.1" y2="531.9"/>
<line x1="1008.8" y1="510.8" x2="1705.3" y2="510.8"/>
<line x1="1008.8" y1="457.3" x2="1705.3" y2="457.3"/>
<line x1="1008.8" y1="403.7" x2="1705.3" y2="403.7"/>
<line x1="1008.8" y1="350.2" x2="1705.3" y2="350.2"/>
<line x1="1008.8" y1="296.6" x2="1705.3" y2="296.6"/>
<line x1="1008.8" y1="243.1" x2="1705.3" y2="243.1"/>
<line x1="1008.8" y1="189.6" x2="1705.3" y2="189.6"/>
<line x1="1008.8" y1="136.0" x2="1705.3" y2="136.0"/>
<line x1="1008.8" y1="82.5" x2="1705.3" y2="82.5"/>
<rect x="1008.8" y="70.4" width="696.5" height="461.5"/>
</g>
<clipPath id="cb"><rect x="1008.8" y="70.4" width="696.5" height="461.5"/></clipPath>
<g clip-path="url(#cb)">
<circle cx="1040.3" cy="510.9" r="7.35" fill="none" stroke="#2fa048" stroke-width="5.3"/>
<circle cx="1138.6" cy="476.4" r="7.35" fill="none" stroke="#d5272a" stroke-width="5.3"/>
<circle cx="1204.4" cy="441.2" r="7.35" fill="none" stroke="#9268ac" stroke-width="5.3"/>
<circle cx="1562.2" cy="91.3" r="7.35" fill="none" stroke="#2176b5" stroke-width="5.3"/>
<circle cx="1673.8" cy="105.7" r="7.35" fill="none" stroke="#f57f20" stroke-width="5.3"/>
<path d="M1040.4 420.7L1032.8000000000002 435.90000000000003L1048.0 435.90000000000003Z" fill="#fff" stroke="#2fa048" stroke-width="5.2" stroke-linejoin="round"/>
<path d="M1138.7 351.5L1131.1000000000001 366.70000000000005L1146.3 366.70000000000005Z" fill="#fff" stroke="#d5272a" stroke-width="5.2" stroke-linejoin="round"/>
<path d="M1204.7 339.4L1197.1000000000001 354.6L1212.3 354.6Z" fill="#fff" stroke="#9268ac" stroke-width="5.2" stroke-linejoin="round"/>
<path d="M1562.2 148.8L1554.6000000000001 164.0L1569.8 164.0Z" fill="#fff" stroke="#2176b5" stroke-width="5.2" stroke-linejoin="round"/>
<path d="M1673.8 140.6L1666.2 155.79999999999998L1681.3999999999999 155.79999999999998Z" fill="#fff" stroke="#f57f20" stroke-width="5.2" stroke-linejoin="round"/>
<path d="M1040.3 510.9L1138.6 476.4L1204.4 441.2L1562.2 91.3L1673.8 105.7" fill="none" stroke="#000" stroke-opacity="0.255" stroke-width="6.4" stroke-dasharray="23.8 10.22"/>
<path d="M1040.4 428.3L1138.7 359.1L1204.7 347.0L1562.2 156.4L1673.8 148.2" fill="none" stroke="#000" stroke-opacity="0.255" stroke-width="6.4" stroke-dasharray="23.8 10.22"/>
</g>
<g font-size="28.9">
<text x="1019.2" y="558.0" text-anchor="middle">0.00</text>
<text x="1119.8" y="558.0" text-anchor="middle">0.02</text>
<text x="1220.4" y="558.0" text-anchor="middle">0.04</text>
<text x="1321.0" y="558.0" text-anchor="middle">0.06</text>
<text x="1421.7" y="558.0" text-anchor="middle">0.08</text>
<text x="1522.3" y="558.0" text-anchor="middle">0.10</text>
<text x="1622.9" y="558.0" text-anchor="middle">0.12</text>
<text x="1005.2" y="522.2" text-anchor="end">0.0</text>
<text x="1005.2" y="468.7" text-anchor="end">0.1</text>
<text x="1005.2" y="415.1" text-anchor="end">0.2</text>
<text x="1005.2" y="361.6" text-anchor="end">0.3</text>
<text x="1005.2" y="308.0" text-anchor="end">0.4</text>
<text x="1005.2" y="254.5" text-anchor="end">0.5</text>
<text x="1005.2" y="201.0" text-anchor="end">0.6</text>
<text x="1005.2" y="147.4" text-anchor="end">0.7</text>
<text x="1005.2" y="93.9" text-anchor="end">0.8</text>
</g>
<text x="1358.3" y="591.2" font-size="31.4" text-anchor="middle">Centroid Distance from the Base Problem</text>
<text transform="translate(947.5 302.3) rotate(-90)" font-size="31.5" text-anchor="middle"><tspan font-style="oblique">r</tspan><tspan font-style="oblique" font-size="22" dy="5.4">D</tspan><tspan dy="-5.4"> or </tspan><tspan font-style="oblique">r</tspan><tspan font-style="oblique" font-size="22" dy="5.4">e</tspan></text>
<g font-size="20.9">
<rect x="1027.8" y="91.1" width="41" height="13.7" fill="#2fa048" stroke="none"/>
<text x="1085.4" y="105.4">Si Sph, TM</text>
<rect x="1027.8" y="121.6" width="41" height="13.7" fill="#d5272a" stroke="none"/>
<text x="1085.4" y="135.9">PEC Sph</text>
<rect x="1027.8" y="152.0" width="41" height="13.7" fill="#9268ac" stroke="none"/>
<text x="1085.4" y="166.3">Al Cross</text>
<rect x="1027.8" y="182.5" width="41" height="13.7" fill="#2176b5" stroke="none"/>
<text x="1085.4" y="196.8">Si Sph, 0deg</text>
<rect x="1027.8" y="212.9" width="41" height="13.7" fill="#f57f20" stroke="none"/>
<text x="1085.4" y="227.2">Si Sph, 30deg</text>
</g>
<text y="35.8" font-family="'Liberation Sans',Arial,sans-serif" font-weight="bold" font-size="41" fill="#000" stroke="none"><tspan x="918.0" font-size="42.7">(</tspan><tspan x="932.5">b</tspan><tspan x="957.5" font-size="42.7">)</tspan></text>
</svg>
</body></html>
